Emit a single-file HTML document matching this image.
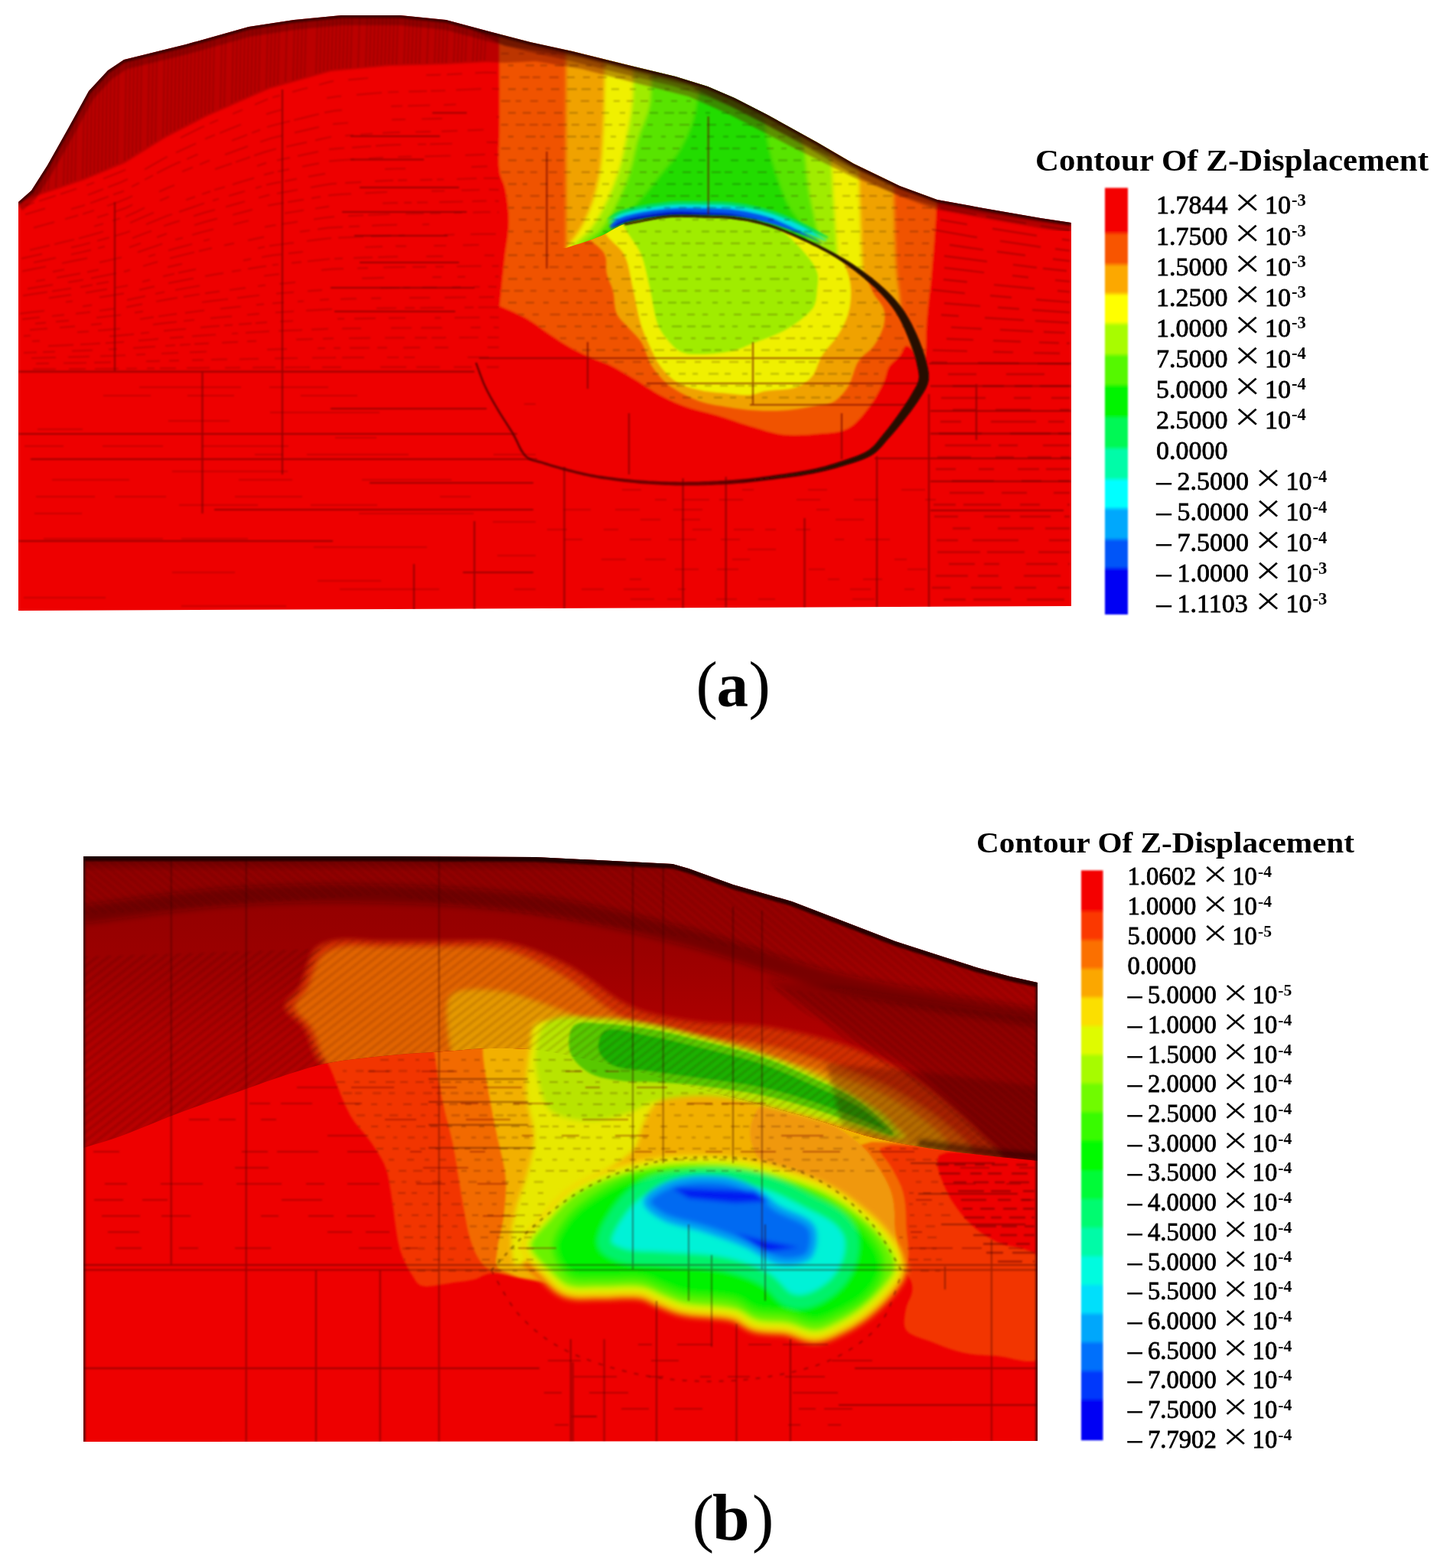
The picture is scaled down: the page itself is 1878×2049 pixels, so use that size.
<!DOCTYPE html>
<html lang="en"><head><meta charset="utf-8"><title>Contour Of Z-Displacement</title>
<style>
html,body{margin:0;padding:0;background:#fff;}
body{width:1878px;height:2049px;overflow:hidden;font-family:"Liberation Serif",serif;}
svg{display:block}
svg text{font-family:"Liberation Serif",serif;fill:#000}
</style></head><body>
<svg width="1878" height="2049" viewBox="0 0 1878 2049">
<defs>
<filter id="blA" x="-2%" y="-2%" width="104%" height="104%"><feGaussianBlur stdDeviation="1.7"/></filter>
<filter id="blB" x="-2%" y="-2%" width="104%" height="104%"><feGaussianBlur stdDeviation="2.6"/></filter>
<filter id="blL" x="-2%" y="-2%" width="104%" height="104%"><feGaussianBlur stdDeviation="1.0"/></filter>
<clipPath id="clipA"><polygon points="24.0,798.0 24.0,264.0 41.0,249.0 62.0,216.0 89.0,168.0 116.0,119.0 141.0,92.0 162.0,78.0 243.0,58.0 325.0,35.0 384.0,26.0 446.0,20.0 523.0,20.0 583.0,26.0 639.0,41.0 693.0,55.0 748.0,67.0 829.0,87.0 883.0,100.0 925.0,113.0 960.0,128.0 1003.0,150.0 1068.0,186.0 1116.0,214.0 1176.0,243.0 1225.0,261.0 1285.0,272.0 1360.0,285.0 1400.0,291.0 1400.0,792.0"/></clipPath>
<clipPath id="clipAbove"><polygon points="740.0,324.0 744.4,322.5 748.9,321.1 753.5,319.6 758.0,318.2 762.5,316.7 767.0,315.2 771.4,313.8 775.7,312.2 779.9,310.6 784.0,309.0 787.4,307.5 790.6,305.9 793.7,304.2 796.7,302.4 799.7,300.7 802.7,299.0 805.8,297.4 809.0,295.8 812.4,294.3 816.0,293.0 821.0,291.5 826.4,290.1 832.0,288.8 837.9,287.7 843.8,286.6 849.9,285.7 855.9,284.8 861.8,284.1 867.5,283.5 873.0,283.0 877.5,282.7 882.0,282.5 886.3,282.4 890.6,282.3 894.8,282.4 899.0,282.5 903.2,282.6 907.5,282.7 911.7,282.9 916.0,283.0 920.4,283.1 924.8,283.2 929.2,283.2 933.6,283.3 938.0,283.4 942.4,283.6 946.9,283.8 951.3,284.1 955.6,284.5 960.0,285.0 964.3,285.6 968.7,286.2 973.0,287.0 977.3,287.7 981.6,288.6 985.9,289.5 990.2,290.5 994.5,291.6 998.7,292.8 1003.0,294.0 1007.3,295.4 1011.7,296.8 1016.0,298.4 1020.3,300.0 1024.6,301.7 1028.9,303.5 1033.2,305.3 1037.4,307.2 1041.7,309.1 1046.0,311.0 1050.5,313.0 1055.0,315.1 1059.5,317.2 1064.0,319.4 1068.5,321.6 1073.0,323.8 1077.4,326.1 1081.7,328.4 1085.9,330.7 1090.0,333.0 1093.5,335.0 1096.8,337.0 1100.1,339.0 1103.3,341.0 1106.5,343.1 1109.6,345.2 1112.7,347.3 1115.8,349.4 1118.9,351.7 1122.0,354.0 1125.4,356.6 1128.8,359.2 1132.3,361.9 1135.7,364.7 1139.1,367.5 1142.5,370.4 1145.8,373.3 1149.0,376.2 1152.1,379.1 1155.0,382.0 1157.5,384.5 1159.8,387.0 1162.1,389.5 1164.4,392.0 1166.5,394.5 1168.6,397.1 1170.6,399.7 1172.6,402.4 1174.6,405.1 1176.5,408.0 1178.5,411.2 1180.5,414.5 1182.4,418.0 1184.2,421.5 1186.0,425.1 1187.7,428.7 1189.4,432.3 1191.0,435.9 1192.5,439.5 1194.0,443.0 1195.3,446.2 1196.6,449.5 1197.8,452.8 1199.0,456.1 1200.2,459.4 1201.2,462.6 1202.2,465.8 1203.1,469.0 1203.9,472.0 1204.6,475.0 1205.1,477.3 1205.4,479.6 1205.7,481.9 1206.0,484.1 1206.1,486.2 1206.3,488.4 1206.5,490.5 1206.6,492.7 1206.8,494.8 1207.0,497.0 1260.0,497.0 1260.0,0.0 600.0,0.0 600.0,324.0"/></clipPath>
<clipPath id="clipBelow"><polygon points="740.0,324.0 744.4,322.5 748.9,321.1 753.5,319.6 758.0,318.2 762.5,316.7 767.0,315.2 771.4,313.8 775.7,312.2 779.9,310.6 784.0,309.0 787.4,307.5 790.6,305.9 793.7,304.2 796.7,302.4 799.7,300.7 802.7,299.0 805.8,297.4 809.0,295.8 812.4,294.3 816.0,293.0 821.0,291.5 826.4,290.1 832.0,288.8 837.9,287.7 843.8,286.6 849.9,285.7 855.9,284.8 861.8,284.1 867.5,283.5 873.0,283.0 877.5,282.7 882.0,282.5 886.3,282.4 890.6,282.3 894.8,282.4 899.0,282.5 903.2,282.6 907.5,282.7 911.7,282.9 916.0,283.0 920.4,283.1 924.8,283.2 929.2,283.2 933.6,283.3 938.0,283.4 942.4,283.6 946.9,283.8 951.3,284.1 955.6,284.5 960.0,285.0 964.3,285.6 968.7,286.2 973.0,287.0 977.3,287.7 981.6,288.6 985.9,289.5 990.2,290.5 994.5,291.6 998.7,292.8 1003.0,294.0 1007.3,295.4 1011.7,296.8 1016.0,298.4 1020.3,300.0 1024.6,301.7 1028.9,303.5 1033.2,305.3 1037.4,307.2 1041.7,309.1 1046.0,311.0 1050.5,313.0 1055.0,315.1 1059.5,317.2 1064.0,319.4 1068.5,321.6 1073.0,323.8 1077.4,326.1 1081.7,328.4 1085.9,330.7 1090.0,333.0 1093.5,335.0 1096.8,337.0 1100.1,339.0 1103.3,341.0 1106.5,343.1 1109.6,345.2 1112.7,347.3 1115.8,349.4 1118.9,351.7 1122.0,354.0 1125.4,356.6 1128.8,359.2 1132.3,361.9 1135.7,364.7 1139.1,367.5 1142.5,370.4 1145.8,373.3 1149.0,376.2 1152.1,379.1 1155.0,382.0 1157.5,384.5 1159.8,387.0 1162.1,389.5 1164.4,392.0 1166.5,394.5 1168.6,397.1 1170.6,399.7 1172.6,402.4 1174.6,405.1 1176.5,408.0 1178.5,411.2 1180.5,414.5 1182.4,418.0 1184.2,421.5 1186.0,425.1 1187.7,428.7 1189.4,432.3 1191.0,435.9 1192.5,439.5 1194.0,443.0 1195.3,446.2 1196.6,449.5 1197.8,452.8 1199.0,456.1 1200.2,459.4 1201.2,462.6 1202.2,465.8 1203.1,469.0 1203.9,472.0 1204.6,475.0 1205.1,477.3 1205.4,479.6 1205.7,481.9 1206.0,484.1 1206.1,486.2 1206.3,488.4 1206.5,490.5 1206.6,492.7 1206.8,494.8 1207.0,497.0 1205.9,499.2 1204.9,501.4 1203.8,503.6 1202.8,505.8 1201.8,507.9 1200.7,510.1 1199.6,512.3 1198.5,514.5 1197.3,516.8 1196.0,519.0 1194.4,521.6 1192.8,524.1 1191.1,526.8 1189.3,529.4 1187.5,532.0 1185.6,534.6 1183.7,537.2 1181.8,539.9 1179.9,542.4 1178.0,545.0 1176.1,547.6 1174.1,550.1 1172.2,552.7 1170.2,555.2 1168.2,557.8 1166.2,560.3 1164.1,562.8 1162.1,565.2 1160.1,567.6 1158.0,570.0 1156.1,572.2 1154.2,574.5 1152.4,576.7 1150.6,579.0 1148.7,581.1 1146.8,583.3 1144.8,585.3 1142.7,587.3 1140.4,589.2 1138.0,591.0 1134.8,593.0 1131.4,594.8 1127.8,596.4 1124.0,598.0 1120.0,599.5 1116.0,600.9 1111.9,602.2 1107.9,603.5 1103.9,604.7 1100.0,606.0 1096.3,607.2 1092.5,608.3 1088.9,609.4 1085.2,610.5 1081.4,611.5 1077.7,612.4 1073.9,613.4 1070.0,614.3 1066.1,615.1 1062.0,616.0 1057.1,617.0 1052.1,617.9 1046.9,618.8 1041.6,619.6 1036.2,620.4 1030.9,621.2 1025.5,621.9 1020.2,622.6 1015.0,623.3 1010.0,624.0 1005.5,624.6 1001.1,625.2 996.8,625.7 992.5,626.3 988.2,626.8 984.0,627.3 979.7,627.8 975.5,628.2 971.3,628.6 967.0,629.0 962.8,629.4 958.6,629.7 954.4,630.0 950.2,630.3 946.0,630.5 941.8,630.8 937.6,631.0 933.4,631.2 929.2,631.3 925.0,631.5 920.8,631.6 916.6,631.8 912.4,631.9 908.2,632.0 904.0,632.0 899.8,632.1 895.6,632.1 891.4,632.1 887.2,632.1 883.0,632.0 878.7,631.9 874.4,631.8 870.0,631.7 865.7,631.5 861.4,631.3 857.0,631.1 852.7,630.8 848.4,630.6 844.2,630.3 840.0,630.0 836.1,629.7 832.2,629.4 828.3,629.0 824.5,628.6 820.6,628.2 816.8,627.8 813.1,627.4 809.3,626.9 805.7,626.5 802.0,626.0 798.7,625.6 795.4,625.1 792.2,624.7 789.0,624.2 785.8,623.8 782.7,623.3 779.5,622.7 776.4,622.2 773.2,621.6 770.0,621.0 766.7,620.3 763.4,619.6 760.0,618.8 756.6,618.0 753.3,617.2 750.0,616.4 746.6,615.6 743.4,614.7 740.2,613.8 737.0,613.0 734.2,612.2 731.4,611.5 728.6,610.7 725.8,609.9 723.1,609.1 720.4,608.3 717.8,607.5 715.2,606.7 712.6,605.8 710.0,605.0 707.7,604.3 705.3,603.7 703.0,603.1 700.7,602.6 698.4,602.0 696.2,601.3 694.0,600.5 691.9,599.6 689.9,598.4 688.0,597.0 685.8,594.8 683.8,592.3 681.9,589.4 680.1,586.2 678.4,582.9 676.8,579.5 675.2,576.0 673.5,572.5 671.8,569.2 670.0,566.0 668.1,563.0 666.2,560.0 664.3,557.0 662.4,554.0 660.4,551.0 658.5,548.0 656.6,545.1 654.7,542.1 652.8,539.0 651.0,536.0 649.2,532.9 647.4,529.9 645.6,526.8 643.8,523.7 642.1,520.6 640.4,517.5 638.7,514.4 637.1,511.3 635.5,508.1 634.0,505.0 632.6,501.9 631.3,498.9 630.1,495.8 628.9,492.7 627.7,489.6 626.6,486.4 625.5,483.3 624.3,480.2 623.2,477.1 622.0,474.0 623.0,420.0"/></clipPath>
<clipPath id="clipCol"><polygon points="653.0,36.6 693.0,47.0 748.0,59.0 829.0,79.0 883.0,92.0 925.0,105.0 960.0,120.0 1003.0,142.0 1068.0,178.0 1116.0,206.0 1176.0,235.0 1225.0,253.0 1225.0,250.0 1224.5,258.3 1224.0,266.6 1223.6,274.8 1223.1,283.1 1222.6,291.5 1222.0,300.0 1221.4,309.1 1220.7,318.3 1220.0,327.5 1219.2,336.9 1218.4,346.4 1217.6,356.0 1216.6,366.7 1215.4,377.8 1214.1,389.0 1212.9,400.1 1211.9,410.8 1211.0,421.0 1210.6,429.1 1210.3,437.2 1210.2,445.0 1210.0,452.4 1209.6,459.1 1209.0,465.0 1208.5,468.0 1207.8,470.6 1207.1,473.0 1206.4,475.3 1205.7,477.6 1205.0,480.0 1200.0,470.0 1198.7,467.6 1197.4,465.0 1196.2,462.4 1194.9,459.9 1193.5,457.8 1192.0,456.0 1190.7,454.9 1189.4,453.8 1188.0,452.9 1186.6,452.2 1185.3,451.9 1184.0,452.0 1182.6,453.0 1181.3,454.8 1180.1,457.3 1178.9,460.0 1177.5,462.6 1176.0,465.0 1173.9,467.3 1171.5,469.5 1168.9,471.7 1166.3,474.0 1164.0,476.4 1162.0,479.0 1160.5,482.0 1159.3,485.1 1158.4,488.4 1157.5,491.8 1156.5,495.4 1155.0,499.0 1152.5,504.3 1149.5,510.0 1146.2,515.9 1142.7,521.9 1138.9,527.6 1135.0,533.0 1131.1,538.1 1127.0,543.2 1122.7,548.1 1118.2,552.7 1113.3,556.7 1108.0,560.0 1101.9,562.5 1095.4,564.2 1088.4,565.2 1081.2,565.9 1074.1,566.4 1067.0,567.0 1059.9,567.7 1052.7,568.2 1045.5,568.6 1038.3,568.8 1031.1,568.6 1024.0,568.0 1016.8,566.9 1009.6,565.3 1002.4,563.4 995.3,561.3 988.1,559.1 981.0,557.0 973.8,554.8 966.6,552.5 959.5,550.1 952.3,547.6 945.2,545.3 938.0,543.0 930.8,540.9 923.4,539.0 916.1,537.2 908.8,535.3 901.8,533.3 895.0,531.0 889.2,528.8 883.5,526.5 878.1,524.0 872.7,521.5 867.3,518.8 862.0,516.0 856.6,512.9 851.2,509.6 845.9,506.2 840.7,502.8 835.4,499.3 830.0,496.0 824.5,492.7 818.9,489.3 813.2,485.9 807.7,482.7 802.2,479.7 797.0,477.0 793.0,475.2 789.2,473.7 785.4,472.3 781.7,471.0 777.9,469.6 774.0,468.0 769.6,466.1 765.1,464.0 760.6,461.9 756.0,459.7 751.5,457.4 747.0,455.0 742.5,452.4 738.0,449.7 733.6,446.9 729.1,444.0 724.6,441.0 720.0,438.0 714.8,434.5 709.6,430.7 704.3,426.8 699.0,423.0 693.5,419.4 688.0,416.0 682.3,413.0 676.6,410.2 670.7,407.6 664.8,405.1 658.9,402.6 653.0,400.0 653.5,395.0 654.0,390.1 654.5,385.2 655.0,380.2 655.5,375.2 656.0,370.0 656.6,364.1 657.3,358.1 657.9,351.9 658.6,345.7 659.3,339.4 660.0,333.0 660.9,326.0 662.0,318.9 663.1,311.7 664.0,304.5 664.7,297.2 665.0,290.0 664.8,282.5 664.3,274.8 663.5,267.0 662.5,259.4 661.3,252.4 660.0,246.0 658.9,242.2 657.7,238.8 656.4,235.8 655.1,232.6 653.9,229.1 653.0,225.0 652.1,216.4 651.9,206.4 652.1,195.4 652.4,183.8 652.8,171.9 653.0,160.0 653.0,145.8 653.0,131.1 653.0,115.9 653.0,100.5 653.0,85.2 653.0,70.0"/></clipPath>
<clipPath id="clipB"><polygon points="109.0,1884.0 109.0,1119.0 500.0,1119.0 700.0,1120.0 879.0,1129.0 900.0,1135.0 958.0,1156.0 1035.0,1178.0 1100.0,1203.0 1170.0,1230.0 1235.0,1251.0 1279.0,1265.0 1320.0,1276.0 1356.0,1284.0 1356.0,1883.0"/></clipPath>
<clipPath id="clipBtop"><polygon points="100.0,1100.0 1360.0,1100.0 1356.0,1517.0 1345.0,1515.8 1334.0,1514.7 1323.0,1513.6 1312.0,1512.4 1301.0,1511.2 1290.0,1510.0 1279.2,1508.8 1268.6,1507.6 1257.9,1506.4 1247.2,1505.1 1236.2,1503.6 1225.0,1502.0 1211.8,1500.0 1198.3,1497.8 1184.5,1495.5 1170.5,1493.0 1156.7,1490.1 1143.0,1487.0 1129.4,1483.4 1115.9,1479.3 1102.4,1474.9 1089.0,1470.5 1075.5,1466.1 1062.0,1462.0 1048.5,1458.1 1035.0,1454.4 1021.5,1450.7 1008.0,1447.1 994.5,1443.5 981.0,1440.0 967.3,1436.5 953.3,1433.1 939.3,1429.8 925.5,1426.5 912.4,1423.2 900.0,1420.0 891.1,1417.5 882.9,1415.0 875.0,1412.5 867.1,1410.0 858.9,1407.5 850.0,1405.0 837.7,1401.7 824.6,1398.2 810.9,1394.7 797.0,1391.3 783.3,1388.0 770.0,1385.0 758.0,1382.4 746.2,1379.9 734.4,1377.5 722.8,1375.3 711.3,1373.5 700.0,1372.0 689.8,1371.0 679.7,1370.4 669.7,1370.0 659.8,1369.9 649.9,1369.9 640.0,1370.0 630.1,1370.3 620.3,1370.8 610.5,1371.6 600.6,1372.4 590.5,1373.2 580.0,1374.0 567.3,1374.9 554.1,1375.7 540.5,1376.6 526.9,1377.6 513.3,1378.7 500.0,1380.0 487.2,1381.3 474.3,1382.7 461.5,1384.2 449.0,1385.8 436.7,1387.8 425.0,1390.0 415.3,1392.2 405.9,1394.7 396.8,1397.4 387.9,1400.2 379.0,1403.1 370.0,1406.0 361.1,1408.9 352.3,1412.0 343.6,1415.1 334.8,1418.2 325.6,1421.6 316.0,1425.0 303.4,1429.4 290.2,1434.1 276.5,1438.9 262.6,1443.9 248.7,1448.9 235.0,1454.0 221.2,1459.3 207.1,1465.0 193.0,1470.8 179.3,1476.3 166.2,1481.5 154.0,1486.0 145.8,1488.8 138.1,1491.3 130.7,1493.5 123.5,1495.6 116.4,1497.8 109.0,1500.0"/></clipPath>
<filter id="blC" x="-20%" y="-20%" width="140%" height="140%"><feGaussianBlur stdDeviation="3.2"/></filter>
<filter id="blD" x="-20%" y="-20%" width="140%" height="140%"><feGaussianBlur stdDeviation="4.5"/></filter>
<clipPath id="clipBfront"><polygon points="109.0,1500.0 116.4,1497.8 123.5,1495.6 130.7,1493.5 138.1,1491.3 145.8,1488.8 154.0,1486.0 166.2,1481.5 179.3,1476.3 193.0,1470.8 207.1,1465.0 221.2,1459.3 235.0,1454.0 248.7,1448.9 262.6,1443.9 276.5,1438.9 290.2,1434.1 303.4,1429.4 316.0,1425.0 325.6,1421.6 334.8,1418.2 343.6,1415.1 352.3,1412.0 361.1,1408.9 370.0,1406.0 379.0,1403.1 387.9,1400.2 396.8,1397.4 405.9,1394.7 415.3,1392.2 425.0,1390.0 436.7,1387.8 449.0,1385.8 461.5,1384.2 474.3,1382.7 487.2,1381.3 500.0,1380.0 513.3,1378.7 526.9,1377.6 540.5,1376.6 554.1,1375.7 567.3,1374.9 580.0,1374.0 590.5,1373.2 600.6,1372.4 610.5,1371.6 620.3,1370.8 630.1,1370.3 640.0,1370.0 649.9,1369.9 659.8,1369.9 669.7,1370.0 679.7,1370.4 689.8,1371.0 700.0,1372.0 711.3,1373.5 722.8,1375.3 734.4,1377.5 746.2,1379.9 758.0,1382.4 770.0,1385.0 783.3,1388.0 797.0,1391.3 810.9,1394.7 824.6,1398.2 837.7,1401.7 850.0,1405.0 858.9,1407.5 867.1,1410.0 875.0,1412.5 882.9,1415.0 891.1,1417.5 900.0,1420.0 912.4,1423.2 925.5,1426.5 939.3,1429.8 953.3,1433.1 967.3,1436.5 981.0,1440.0 994.5,1443.5 1008.0,1447.1 1021.5,1450.7 1035.0,1454.4 1048.5,1458.1 1062.0,1462.0 1075.5,1466.1 1089.0,1470.5 1102.4,1474.9 1115.9,1479.3 1129.4,1483.4 1143.0,1487.0 1156.7,1490.1 1170.5,1493.0 1184.5,1495.5 1198.3,1497.8 1211.8,1500.0 1225.0,1502.0 1236.2,1503.6 1247.2,1505.1 1257.9,1506.4 1268.6,1507.6 1279.2,1508.8 1290.0,1510.0 1301.0,1511.2 1312.0,1512.4 1323.0,1513.6 1334.0,1514.7 1345.0,1515.8 1356.0,1517.0 1360.0,1890.0 100.0,1890.0"/></clipPath>
<clipPath id="clipS1"><polygon points="437.0,1229.0 430.8,1230.4 425.2,1232.1 420.0,1234.3 415.3,1237.1 411.0,1241.0 406.1,1248.5 402.4,1258.3 399.2,1269.2 395.9,1279.8 392.0,1289.0 387.6,1295.1 382.2,1300.6 377.1,1305.8 373.3,1310.8 372.0,1316.0 374.0,1321.4 378.7,1326.5 384.8,1331.7 391.3,1337.1 397.0,1343.0 403.0,1351.1 409.3,1360.4 415.4,1369.7 420.8,1378.3 425.0,1385.0 426.5,1387.3 427.6,1389.0 428.6,1390.6 429.7,1392.5 431.0,1395.0 435.2,1404.4 440.2,1417.3 445.8,1431.7 451.8,1445.9 458.0,1458.0 463.2,1465.9 468.8,1473.0 474.5,1479.6 480.0,1486.2 485.0,1493.0 489.4,1499.5 493.6,1505.9 497.5,1512.4 501.0,1519.0 504.0,1526.0 506.4,1533.4 508.0,1541.1 509.3,1548.9 510.6,1557.2 512.0,1566.0 514.0,1578.9 515.7,1593.2 517.7,1607.8 520.0,1621.8 523.0,1634.0 525.8,1641.8 528.9,1649.0 532.3,1655.7 535.7,1661.7 539.0,1667.0 541.0,1670.3 542.8,1673.3 544.7,1676.0 547.0,1678.3 550.0,1680.0 556.8,1681.2 565.4,1680.6 575.0,1679.1 584.5,1677.4 593.0,1676.0 598.9,1675.3 604.4,1674.7 609.7,1674.0 614.9,1673.1 620.0,1672.0 624.4,1670.5 628.5,1668.5 632.5,1666.6 636.9,1664.9 642.0,1664.0 651.2,1664.3 661.5,1666.2 672.9,1669.1 685.7,1672.2 700.0,1675.0 732.3,1680.0 771.3,1685.8 814.2,1691.5 858.0,1696.5 900.0,1700.0 941.5,1702.7 984.6,1705.1 1027.0,1706.2 1066.2,1704.8 1100.0,1700.0 1119.7,1692.9 1138.2,1682.6 1154.8,1672.2 1168.6,1664.3 1179.0,1662.0 1182.2,1663.1 1184.8,1665.0 1186.9,1667.5 1188.6,1670.3 1190.0,1673.0 1191.1,1675.7 1191.8,1678.6 1192.2,1681.6 1192.2,1684.8 1192.0,1688.0 1191.0,1692.1 1189.3,1696.4 1187.2,1700.8 1185.3,1705.3 1184.0,1710.0 1183.0,1715.6 1182.1,1721.6 1181.6,1727.6 1182.1,1733.2 1184.0,1738.0 1188.1,1742.1 1194.1,1745.3 1201.1,1748.0 1208.7,1750.4 1216.0,1753.0 1224.3,1756.3 1233.0,1759.7 1242.0,1762.9 1251.0,1765.7 1260.0,1768.0 1268.5,1769.5 1276.9,1770.4 1285.3,1771.0 1294.0,1771.4 1303.0,1772.0 1314.6,1773.8 1327.4,1776.7 1340.1,1779.0 1351.4,1779.0 1360.0,1775.0 1368.2,1757.5 1372.2,1729.1 1372.1,1696.4 1368.0,1666.2 1360.0,1645.0 1351.3,1637.2 1339.7,1632.6 1326.7,1629.6 1314.0,1626.9 1303.0,1623.0 1295.6,1619.1 1288.7,1615.1 1282.3,1611.0 1276.1,1606.3 1270.0,1601.0 1262.8,1593.7 1255.7,1585.5 1249.0,1576.6 1242.9,1567.4 1238.0,1558.0 1233.5,1548.2 1229.1,1537.4 1225.9,1526.7 1224.8,1517.2 1227.0,1510.0 1237.5,1505.9 1255.3,1505.7 1275.2,1507.1 1291.8,1507.6 1300.0,1505.0 1299.7,1501.1 1296.5,1496.3 1291.4,1490.9 1285.2,1485.1 1279.0,1479.0 1266.5,1466.8 1251.0,1452.6 1233.6,1437.7 1215.6,1423.5 1198.0,1411.0 1182.3,1401.2 1166.4,1392.3 1150.2,1384.2 1133.5,1376.9 1116.0,1370.0 1095.6,1363.1 1074.1,1356.9 1052.0,1351.5 1029.8,1346.9 1008.0,1343.0 987.3,1340.5 966.5,1339.2 945.8,1338.3 925.6,1337.2 906.0,1335.0 889.0,1332.4 872.6,1329.6 856.5,1326.3 840.7,1321.9 825.0,1316.0 808.3,1307.1 792.0,1295.8 775.8,1283.6 759.6,1271.9 743.0,1262.0 727.1,1254.3 711.0,1247.2 694.8,1241.0 678.5,1235.9 662.0,1232.0 645.8,1229.8 629.4,1229.2 612.9,1229.4 596.4,1229.8 580.0,1230.0 563.8,1229.9 547.5,1229.9 531.3,1230.0 515.4,1230.0 500.0,1230.0 486.5,1229.5 472.9,1228.6 459.7,1227.8 447.6,1227.8"/></clipPath>
<linearGradient id="dkB" gradientUnits="userSpaceOnUse" x1="0" y1="1119" x2="0" y2="1519"><stop offset="0" stop-color="#000" stop-opacity="0.6"/><stop offset="0.05" stop-color="#100000" stop-opacity="0.42"/><stop offset="0.3" stop-color="#100000" stop-opacity="0.38"/><stop offset="0.6" stop-color="#100000" stop-opacity="0.28"/><stop offset="1" stop-color="#100000" stop-opacity="0.22"/></linearGradient>
<clipPath id="clipBlow"><rect x="100" y="1650" width="1260" height="240"/></clipPath>
<pattern id="hatB" width="9" height="9" patternUnits="userSpaceOnUse" patternTransform="rotate(-38)"><rect width="9" height="3.2" fill="#300000"/></pattern>
<pattern id="hatB2" width="8" height="8" patternUnits="userSpaceOnUse" patternTransform="rotate(40)"><rect width="8" height="3" fill="#300000"/></pattern>
<filter id="soft1" x="-5%" y="-5%" width="110%" height="110%"><feGaussianBlur stdDeviation="0.8"/></filter>
<linearGradient id="lg1444245" x1="0" y1="0" x2="0" y2="1"><stop offset="0.0000" stop-color="#f40000"/><stop offset="0.1004" stop-color="#f40000"/><stop offset="0.1112" stop-color="#f85400"/><stop offset="0.1740" stop-color="#f85400"/><stop offset="0.1848" stop-color="#fca800"/><stop offset="0.2430" stop-color="#fca800"/><stop offset="0.2538" stop-color="#ffff00"/><stop offset="0.3130" stop-color="#ffff00"/><stop offset="0.3238" stop-color="#a8fc00"/><stop offset="0.3865" stop-color="#a8fc00"/><stop offset="0.3973" stop-color="#54f800"/><stop offset="0.4583" stop-color="#54f800"/><stop offset="0.4691" stop-color="#00f400"/><stop offset="0.5309" stop-color="#00f400"/><stop offset="0.5417" stop-color="#00f854"/><stop offset="0.6045" stop-color="#00f854"/><stop offset="0.6152" stop-color="#00fca8"/><stop offset="0.6771" stop-color="#00fca8"/><stop offset="0.6879" stop-color="#00ffff"/><stop offset="0.7462" stop-color="#00ffff"/><stop offset="0.7570" stop-color="#00a8fc"/><stop offset="0.8188" stop-color="#00a8fc"/><stop offset="0.8296" stop-color="#0054f8"/><stop offset="0.8870" stop-color="#0054f8"/><stop offset="0.8978" stop-color="#0000f4"/><stop offset="1.0000" stop-color="#0000f4"/></linearGradient>
<linearGradient id="lg14131137" x1="0" y1="0" x2="0" y2="1"><stop offset="0.0000" stop-color="#f40000"/><stop offset="0.0671" stop-color="#f40000"/><stop offset="0.0752" stop-color="#fb3700"/><stop offset="0.1176" stop-color="#fb3700"/><stop offset="0.1257" stop-color="#fb6f00"/><stop offset="0.1681" stop-color="#fb6f00"/><stop offset="0.1762" stop-color="#fba700"/><stop offset="0.2186" stop-color="#fba700"/><stop offset="0.2266" stop-color="#fbdf00"/><stop offset="0.2691" stop-color="#fbdf00"/><stop offset="0.2771" stop-color="#dffb00"/><stop offset="0.3195" stop-color="#dffb00"/><stop offset="0.3276" stop-color="#a7fb00"/><stop offset="0.3700" stop-color="#a7fb00"/><stop offset="0.3781" stop-color="#6ffb00"/><stop offset="0.4205" stop-color="#6ffb00"/><stop offset="0.4286" stop-color="#37fb00"/><stop offset="0.4710" stop-color="#37fb00"/><stop offset="0.4791" stop-color="#00fb00"/><stop offset="0.5215" stop-color="#00fb00"/><stop offset="0.5295" stop-color="#00fb37"/><stop offset="0.5720" stop-color="#00fb37"/><stop offset="0.5800" stop-color="#00fb6f"/><stop offset="0.6224" stop-color="#00fb6f"/><stop offset="0.6305" stop-color="#00fba7"/><stop offset="0.6729" stop-color="#00fba7"/><stop offset="0.6810" stop-color="#00fbdf"/><stop offset="0.7234" stop-color="#00fbdf"/><stop offset="0.7315" stop-color="#00dffb"/><stop offset="0.7739" stop-color="#00dffb"/><stop offset="0.7820" stop-color="#00a7fb"/><stop offset="0.8244" stop-color="#00a7fb"/><stop offset="0.8324" stop-color="#006ffb"/><stop offset="0.8749" stop-color="#006ffb"/><stop offset="0.8829" stop-color="#0037fb"/><stop offset="0.9253" stop-color="#0037fb"/><stop offset="0.9334" stop-color="#0000f4"/><stop offset="1.0000" stop-color="#0000f4"/></linearGradient>
</defs>
<rect width="1878" height="2049" fill="#fff"/>
<g clip-path="url(#clipA)">
<g filter="url(#blA)">
<polygon points="0.0,0.0 1420.0,0.0 1420.0,820.0 0.0,820.0" fill="#ee0000" />
<polygon points="653.0,36.6 693.0,47.0 748.0,59.0 829.0,79.0 883.0,92.0 925.0,105.0 960.0,120.0 1003.0,142.0 1068.0,178.0 1116.0,206.0 1176.0,235.0 1225.0,253.0 1225.0,250.0 1224.5,258.3 1224.0,266.6 1223.6,274.8 1223.1,283.1 1222.6,291.5 1222.0,300.0 1221.4,309.1 1220.7,318.3 1220.0,327.5 1219.2,336.9 1218.4,346.4 1217.6,356.0 1216.6,366.7 1215.4,377.8 1214.1,389.0 1212.9,400.1 1211.9,410.8 1211.0,421.0 1210.6,429.1 1210.3,437.2 1210.2,445.0 1210.0,452.4 1209.6,459.1 1209.0,465.0 1208.5,468.0 1207.8,470.6 1207.1,473.0 1206.4,475.3 1205.7,477.6 1205.0,480.0 1200.0,470.0 1198.7,467.6 1197.4,465.0 1196.2,462.4 1194.9,459.9 1193.5,457.8 1192.0,456.0 1190.7,454.9 1189.4,453.8 1188.0,452.9 1186.6,452.2 1185.3,451.9 1184.0,452.0 1182.6,453.0 1181.3,454.8 1180.1,457.3 1178.9,460.0 1177.5,462.6 1176.0,465.0 1173.9,467.3 1171.5,469.5 1168.9,471.7 1166.3,474.0 1164.0,476.4 1162.0,479.0 1160.5,482.0 1159.3,485.1 1158.4,488.4 1157.5,491.8 1156.5,495.4 1155.0,499.0 1152.5,504.3 1149.5,510.0 1146.2,515.9 1142.7,521.9 1138.9,527.6 1135.0,533.0 1131.1,538.1 1127.0,543.2 1122.7,548.1 1118.2,552.7 1113.3,556.7 1108.0,560.0 1101.9,562.5 1095.4,564.2 1088.4,565.2 1081.2,565.9 1074.1,566.4 1067.0,567.0 1059.9,567.7 1052.7,568.2 1045.5,568.6 1038.3,568.8 1031.1,568.6 1024.0,568.0 1016.8,566.9 1009.6,565.3 1002.4,563.4 995.3,561.3 988.1,559.1 981.0,557.0 973.8,554.8 966.6,552.5 959.5,550.1 952.3,547.6 945.2,545.3 938.0,543.0 930.8,540.9 923.4,539.0 916.1,537.2 908.8,535.3 901.8,533.3 895.0,531.0 889.2,528.8 883.5,526.5 878.1,524.0 872.7,521.5 867.3,518.8 862.0,516.0 856.6,512.9 851.2,509.6 845.9,506.2 840.7,502.8 835.4,499.3 830.0,496.0 824.5,492.7 818.9,489.3 813.2,485.9 807.7,482.7 802.2,479.7 797.0,477.0 793.0,475.2 789.2,473.7 785.4,472.3 781.7,471.0 777.9,469.6 774.0,468.0 769.6,466.1 765.1,464.0 760.6,461.9 756.0,459.7 751.5,457.4 747.0,455.0 742.5,452.4 738.0,449.7 733.6,446.9 729.1,444.0 724.6,441.0 720.0,438.0 714.8,434.5 709.6,430.7 704.3,426.8 699.0,423.0 693.5,419.4 688.0,416.0 682.3,413.0 676.6,410.2 670.7,407.6 664.8,405.1 658.9,402.6 653.0,400.0 653.5,395.0 654.0,390.1 654.5,385.2 655.0,380.2 655.5,375.2 656.0,370.0 656.6,364.1 657.3,358.1 657.9,351.9 658.6,345.7 659.3,339.4 660.0,333.0 660.9,326.0 662.0,318.9 663.1,311.7 664.0,304.5 664.7,297.2 665.0,290.0 664.8,282.5 664.3,274.8 663.5,267.0 662.5,259.4 661.3,252.4 660.0,246.0 658.9,242.2 657.7,238.8 656.4,235.8 655.1,232.6 653.9,229.1 653.0,225.0 652.1,216.4 651.9,206.4 652.1,195.4 652.4,183.8 652.8,171.9 653.0,160.0 653.0,145.8 653.0,131.1 653.0,115.9 653.0,100.5 653.0,85.2 653.0,70.0" fill="#f05200" />
</g>
<g clip-path="url(#clipAbove)"><g filter="url(#blB)">
<polygon points="739.6,55.2 748.0,57.0 829.0,77.0 883.0,90.0 925.0,103.0 960.0,118.0 1003.0,140.0 1068.0,176.0 1116.0,204.0 1168.0,229.1 1168.0,230.0 1168.3,244.1 1168.6,258.7 1168.9,273.2 1169.3,287.3 1169.6,300.7 1170.0,313.0 1170.3,321.0 1170.5,328.6 1170.8,335.7 1171.1,342.6 1171.5,349.3 1172.0,356.0 1172.6,361.8 1173.3,367.4 1174.0,372.8 1174.7,378.2 1175.4,383.6 1176.0,389.0 1176.4,394.2 1176.8,399.4 1177.1,404.6 1177.4,409.7 1177.7,414.8 1178.0,420.0 1168.0,460.0 760.0,360.0 739.0,345.0 739.1,341.4 739.2,338.0 739.3,334.6 739.4,331.0 739.5,326.9 739.6,322.0 739.7,307.3 739.7,288.8 739.7,267.5 739.7,244.9 739.6,221.9 739.6,200.0 739.6,177.2 739.6,154.0 739.6,130.6 739.6,107.0 739.6,83.4 739.6,60.0" fill="#f0a200" />
<polygon points="790.5,67.5 829.0,77.0 883.0,90.0 925.0,103.0 960.0,118.0 1003.0,140.0 1068.0,176.0 1116.0,204.0 1122.0,206.9 1122.0,215.0 1122.4,227.8 1122.8,240.8 1123.2,253.8 1123.7,266.6 1124.1,279.1 1124.5,291.0 1124.9,300.8 1125.2,310.4 1125.6,319.9 1126.0,328.9 1126.4,337.3 1126.7,345.0 1126.9,349.7 1127.1,354.0 1127.4,358.1 1127.6,362.0 1127.8,365.9 1128.0,370.0 1118.0,410.0 760.0,360.0 735.0,340.0 735.9,337.4 736.8,334.7 737.6,332.1 738.6,329.5 739.7,326.8 741.0,324.0 743.3,320.3 746.0,316.4 749.1,312.5 752.2,308.5 755.2,304.3 758.0,300.0 760.8,295.1 763.5,290.0 766.0,284.7 768.5,279.3 770.8,273.7 773.0,268.0 775.3,261.3 777.4,254.3 779.3,247.0 781.1,239.7 782.6,232.3 784.0,225.0 785.1,217.8 785.9,210.7 786.6,203.5 787.1,196.2 787.5,188.7 788.0,181.0 788.5,171.6 788.9,161.8 789.3,151.8 789.5,141.7 789.8,131.7 790.0,122.0 790.2,113.1 790.3,104.4 790.3,95.8 790.4,87.2 790.4,78.6 790.5,70.0" fill="#f0f000" />
<polygon points="827.0,76.5 829.0,77.0 883.0,90.0 925.0,103.0 960.0,118.0 1003.0,140.0 1068.0,176.0 1084.0,185.3 1084.0,190.0 1084.3,192.4 1084.7,194.6 1085.0,196.8 1085.3,199.2 1085.7,201.9 1086.0,205.0 1086.7,213.3 1087.3,223.5 1088.0,235.0 1088.6,247.1 1089.3,259.0 1090.0,270.0 1090.7,279.5 1091.4,289.1 1092.1,298.5 1092.8,307.6 1093.4,316.2 1094.0,324.0 1094.4,328.9 1094.7,333.4 1095.0,337.6 1095.4,341.7 1095.7,345.8 1096.0,350.0 1086.0,390.0 760.0,360.0 740.0,340.0 741.2,337.0 742.3,334.0 743.4,331.0 744.7,328.0 746.2,325.0 748.0,322.0 751.1,318.4 754.8,314.9 758.9,311.4 763.2,307.8 767.3,304.1 771.0,300.0 774.6,295.2 778.1,290.2 781.3,284.9 784.5,279.4 787.5,273.8 790.5,268.0 793.8,261.3 796.9,254.3 800.0,247.1 802.8,239.7 805.5,232.3 808.0,225.0 810.2,217.8 812.1,210.6 813.9,203.4 815.5,196.1 817.1,188.6 818.6,181.0 820.3,172.3 822.0,163.3 823.6,154.2 825.0,145.0 826.1,135.9 827.0,127.0 827.4,119.0 827.6,111.1 827.5,103.3 827.3,95.6 827.1,87.8 827.0,80.0" fill="#a0ec00" />
<polygon points="851.0,82.3 883.0,90.0 925.0,103.0 960.0,118.0 1003.0,140.0 1048.0,164.9 1048.0,180.0 1048.5,182.2 1049.0,184.3 1049.5,186.4 1050.0,188.6 1050.5,191.1 1051.0,194.0 1051.9,201.0 1052.8,209.4 1053.7,218.8 1054.6,228.7 1055.7,238.6 1057.0,248.0 1058.6,257.2 1060.5,266.7 1062.6,276.1 1064.6,285.3 1066.5,294.0 1068.0,302.0 1068.9,307.2 1069.6,312.0 1070.2,316.6 1070.8,321.0 1071.4,325.4 1072.0,330.0 1062.0,370.0 760.0,360.0 750.0,340.0 751.6,336.6 753.0,333.2 754.4,329.8 755.9,326.4 757.8,323.2 760.0,320.0 763.4,316.5 767.5,313.4 772.0,310.3 776.6,307.2 781.0,303.8 785.0,300.0 788.8,295.4 792.4,290.4 795.7,285.1 798.9,279.5 802.0,273.8 805.0,268.0 808.3,261.3 811.6,254.3 814.7,247.1 817.7,239.7 820.5,232.4 823.0,225.0 825.2,217.7 827.0,210.4 828.7,203.0 830.3,195.6 832.0,188.3 834.0,181.0 836.4,173.8 839.2,166.8 842.1,159.7 844.8,152.6 847.2,145.4 849.0,138.0 850.1,130.0 850.7,121.7 850.9,113.3 850.9,104.9 850.8,96.4 851.0,88.0" fill="#58e400" />
<polygon points="915.0,99.9 925.0,103.0 960.0,118.0 1000.0,138.5 1000.0,150.0 1000.4,155.5 1000.8,160.9 1001.1,166.3 1001.6,171.7 1002.2,177.3 1003.0,183.0 1004.3,189.9 1005.9,197.0 1007.7,204.2 1009.6,211.5 1011.8,218.8 1014.0,226.0 1016.5,233.6 1019.1,241.4 1021.9,249.1 1024.8,256.7 1027.9,263.7 1031.0,270.0 1033.4,274.0 1036.0,277.5 1038.6,280.7 1041.1,283.9 1043.6,287.2 1046.0,291.0 1048.6,296.1 1051.0,301.6 1053.3,307.4 1055.5,313.3 1057.7,319.2 1060.0,325.0 1050.0,365.0 760.0,360.0 768.0,335.0 769.9,331.1 771.6,327.2 773.3,323.3 775.2,319.4 777.4,315.6 780.0,312.0 783.8,308.1 788.2,304.5 793.1,301.1 798.1,297.6 803.2,294.0 808.0,290.0 813.4,285.0 818.8,279.7 824.3,274.1 829.7,268.4 834.9,262.6 840.0,257.0 844.6,251.7 849.1,246.2 853.5,240.8 857.7,235.4 861.9,230.1 866.0,225.0 869.5,220.8 873.0,216.8 876.4,212.8 879.7,208.8 882.9,204.6 886.0,200.0 889.6,194.1 893.0,187.8 896.4,181.2 899.5,174.3 902.4,167.2 905.0,160.0 907.3,151.8 909.2,143.3 910.7,134.5 912.1,125.7 913.5,116.8 915.0,108.0" fill="#24dc00" />
</g>
<g filter="url(#blA)">
<polygon points="791.9,288.2 793.3,287.6 794.6,287.1 796.0,286.5 797.6,285.7 799.3,284.9 801.3,283.9 803.5,282.9 806.0,281.9 808.6,281.0 811.6,280.1 816.5,278.7 822.0,277.3 827.9,276.1 834.1,274.9 840.5,273.9 847.1,273.0 853.6,272.1 860.0,271.4 866.1,270.8 871.9,270.3 876.8,270.0 881.5,269.9 886.1,269.9 890.6,269.9 895.0,270.1 899.4,270.2 903.6,270.5 907.9,270.7 912.1,270.9 916.3,271.1 920.6,271.3 925.0,271.4 929.4,271.6 933.9,271.7 938.4,271.9 942.9,272.1 947.5,272.2 952.2,272.5 956.8,272.9 961.4,273.4 966.0,273.9 970.5,274.5 975.0,275.2 979.6,276.0 984.1,276.9 988.6,277.8 993.1,278.8 997.6,279.9 1002.0,281.1 1006.5,282.3 1011.2,283.7 1015.9,285.3 1020.6,287.0 1025.3,288.7 1029.8,290.5 1034.4,292.3 1038.8,294.0 1043.1,295.7 1047.3,297.3 1051.3,298.9 1054.7,300.2 1057.9,301.5 1061.1,302.8 1064.2,304.1 1067.1,305.4 1070.1,306.6 1073.0,307.9 1075.8,309.1 1078.7,310.3 1081.6,311.5 1082.4,309.7 1079.7,308.2 1077.0,306.7 1074.3,305.1 1071.6,303.6 1068.8,302.0 1066.0,300.4 1063.0,298.8 1060.0,297.1 1056.8,295.5 1053.6,293.8 1049.7,291.9 1045.6,289.9 1041.4,287.9 1037.1,285.9 1032.5,283.9 1027.9,282.0 1023.2,280.1 1018.4,278.3 1013.6,276.6 1008.7,275.1 1004.1,273.7 999.5,272.4 994.9,271.2 990.3,270.0 985.7,269.0 981.1,268.0 976.5,267.1 971.8,266.3 967.2,265.6 962.5,264.9 957.7,264.3 952.8,263.8 948.1,263.5 943.3,263.2 938.7,262.9 934.1,262.9 929.6,262.9 925.1,262.9 920.7,262.9 916.5,262.9 912.3,262.9 908.1,262.8 903.9,262.8 899.6,262.7 895.2,262.7 890.6,262.7 886.0,262.8 881.3,263.0 876.4,263.3 871.4,263.8 865.5,264.4 859.3,265.2 852.8,266.1 846.2,267.1 839.6,268.2 833.1,269.5 826.8,270.8 820.8,272.2 815.1,273.8 810.1,275.6 806.9,277.1 804.3,278.5 801.9,280.0 799.9,281.4 798.0,282.8 796.5,284.1 795.2,285.3 794.1,286.3 793.1,287.2 791.9,288.2" fill="#00dc60" />
<polygon points="794.2,292.1 795.7,291.5 797.0,290.9 798.5,290.2 800.0,289.5 801.7,288.6 803.6,287.8 805.7,286.9 807.9,286.0 810.3,285.1 813.0,284.1 817.7,282.7 823.0,281.4 828.8,280.1 834.9,279.0 841.2,278.0 847.7,277.0 854.1,276.2 860.5,275.5 866.5,274.9 872.3,274.4 877.0,274.1 881.7,274.0 886.2,274.0 890.6,274.0 895.0,274.1 899.3,274.3 903.5,274.5 907.7,274.7 911.9,274.9 916.2,275.1 920.5,275.3 924.9,275.4 929.3,275.6 933.8,275.7 938.3,275.9 942.8,276.1 947.3,276.3 951.8,276.6 956.4,276.9 960.9,277.4 965.4,278.0 969.9,278.7 974.3,279.4 978.8,280.2 983.2,281.0 987.6,282.0 992.0,283.0 996.5,284.1 1000.9,285.2 1005.3,286.5 1009.8,287.9 1014.5,289.4 1019.1,291.1 1023.6,292.8 1028.2,294.6 1032.6,296.5 1037.0,298.1 1041.4,299.8 1045.5,301.4 1049.6,302.9 1052.9,304.1 1056.1,305.4 1059.3,306.6 1062.3,307.9 1065.3,309.1 1068.2,310.3 1071.1,311.5 1074.0,312.7 1076.9,313.9 1079.8,315.1 1080.3,314.2 1077.5,312.6 1074.8,311.1 1072.1,309.5 1069.4,307.9 1066.7,306.3 1063.9,304.7 1061.0,303.0 1058.0,301.4 1054.9,299.7 1051.7,298.1 1047.8,296.1 1043.8,294.1 1039.6,292.1 1035.3,290.0 1030.8,288.1 1026.2,286.2 1021.6,284.4 1016.9,282.7 1012.1,281.0 1007.4,279.5 1002.8,278.2 998.3,276.9 993.8,275.7 989.3,274.7 984.7,273.7 980.2,272.7 975.6,271.9 971.1,271.1 966.5,270.4 961.9,269.7 957.2,269.2 952.5,268.7 947.8,268.4 943.1,268.1 938.5,267.9 934.0,267.9 929.5,267.9 925.0,267.9 920.7,267.9 916.4,267.9 912.2,267.8 908.0,267.8 903.7,267.7 899.4,267.7 895.1,267.6 890.6,267.7 886.1,267.8 881.4,267.9 876.7,268.2 871.8,268.7 866.0,269.3 859.8,270.1 853.4,270.9 846.9,271.9 840.4,273.0 834.0,274.2 827.8,275.6 821.9,277.0 816.4,278.5 811.6,280.1 808.7,281.3 806.3,282.6 804.1,283.9 802.2,285.3 800.5,286.6 799.0,287.9 797.7,289.0 796.5,290.1 795.4,291.1 794.2,292.1" fill="#00e0e0" />
<polygon points="797.2,297.3 798.9,296.7 800.4,296.1 802.0,295.5 803.6,294.9 805.3,294.2 807.0,293.5 808.9,292.9 810.8,292.0 812.8,291.1 815.1,290.3 819.5,289.0 824.5,287.7 830.1,286.5 836.1,285.4 842.3,284.3 848.6,283.4 855.0,282.5 861.2,281.8 867.2,281.2 872.8,280.7 877.4,280.4 881.9,280.3 886.3,280.2 890.6,280.2 894.9,280.3 899.1,280.5 903.3,280.7 907.5,280.9 911.8,281.1 916.0,281.2 920.4,281.4 924.8,281.5 929.2,281.6 933.6,281.8 938.1,281.9 942.5,282.0 947.0,282.2 951.4,282.4 955.8,282.8 960.2,283.2 964.6,283.7 969.0,284.3 973.3,285.0 977.7,285.7 982.1,286.5 986.4,287.4 990.7,288.3 995.1,289.3 999.4,290.4 1003.7,291.6 1008.2,292.9 1012.8,294.1 1017.4,295.5 1022.0,297.0 1026.6,298.5 1031.1,300.1 1035.5,301.7 1039.8,303.3 1044.0,304.8 1048.1,306.4 1051.3,307.7 1054.5,309.0 1057.5,310.3 1060.5,311.5 1063.5,312.8 1066.3,314.1 1069.2,315.4 1072.1,316.6 1074.9,317.9 1077.8,319.2 1077.8,319.2 1075.1,317.6 1072.3,316.1 1069.6,314.6 1066.9,313.1 1064.1,311.5 1061.3,310.0 1058.4,308.4 1055.4,306.9 1052.4,305.3 1049.2,303.7 1045.3,301.8 1041.4,299.8 1037.2,297.7 1033.0,295.6 1028.6,293.5 1024.2,291.4 1019.7,289.4 1015.2,287.4 1010.6,285.6 1006.1,283.9 1001.6,282.6 997.2,281.3 992.7,280.1 988.3,279.0 983.8,278.0 979.4,277.0 974.9,276.1 970.4,275.3 965.9,274.6 961.4,273.9 956.8,273.3 952.1,272.8 947.5,272.5 942.9,272.2 938.4,271.9 933.9,271.9 929.4,271.8 925.0,271.8 920.6,271.8 916.3,271.8 912.0,271.7 907.8,271.6 903.6,271.5 899.3,271.5 895.0,271.4 890.6,271.4 886.1,271.5 881.6,271.7 876.9,271.9 872.1,272.3 866.3,272.9 860.3,273.7 853.9,274.5 847.4,275.5 841.0,276.6 834.6,277.7 828.5,279.0 822.7,280.4 817.4,281.8 812.7,283.4 810.0,284.5 807.7,285.6 805.6,286.7 803.8,288.1 802.3,289.5 800.9,290.8 799.7,292.1 798.6,293.3 797.5,294.4 796.2,295.5" fill="#0058ea" />
<polygon points="798.5,299.4 800.1,298.7 801.6,298.0 803.1,297.3 804.7,296.5 806.2,295.7 807.9,295.0 809.6,294.2 811.4,293.3 813.4,292.5 815.5,291.7 819.9,290.3 824.9,289.0 830.4,287.8 836.3,286.7 842.5,285.6 848.8,284.6 855.1,283.8 861.4,283.0 867.3,282.4 872.9,281.9 877.5,281.6 881.9,281.4 886.3,281.3 890.6,281.3 894.8,281.3 899.1,281.4 903.3,281.4 907.5,281.5 911.7,281.6 916.0,281.6 920.4,281.6 924.8,281.6 929.2,281.6 933.6,281.6 938.1,281.7 942.5,281.8 947.0,281.9 951.4,282.2 955.8,282.4 960.3,282.8 964.7,283.2 969.1,283.8 973.5,284.3 977.8,285.0 982.2,285.7 986.6,286.5 991.0,287.4 995.3,288.4 999.7,289.4 1004.0,290.7 1008.5,292.1 1013.0,293.6 1017.5,295.3 1022.0,297.0 1026.5,298.8 1030.9,300.6 1035.2,302.5 1039.4,304.3 1043.5,306.1 1047.4,307.8 1050.6,309.2 1053.7,310.6 1056.7,312.1 1059.6,313.5 1062.4,314.9 1065.3,316.3 1068.1,317.7 1070.9,319.1 1073.7,320.5 1076.5,321.9 1076.5,321.9 1073.7,320.5 1070.9,319.1 1068.1,317.7 1065.3,316.3 1062.4,314.9 1059.6,313.5 1056.7,312.1 1053.7,310.6 1050.6,309.2 1047.4,307.8 1043.5,306.1 1039.4,304.3 1035.2,302.5 1030.9,300.6 1026.5,298.8 1022.0,297.0 1017.5,295.3 1013.0,293.6 1008.5,292.1 1004.0,290.7 999.7,289.4 995.4,288.1 991.1,286.9 986.8,285.7 982.5,284.6 978.1,283.6 973.8,282.7 969.4,281.8 965.0,281.0 960.6,280.3 956.1,279.6 951.6,279.1 947.2,278.7 942.7,278.4 938.2,278.2 933.7,278.0 929.3,277.8 924.9,277.7 920.5,277.6 916.1,277.4 911.9,277.2 907.7,277.0 903.4,276.8 899.2,276.6 894.9,276.4 890.6,276.3 886.2,276.4 881.7,276.5 877.2,276.8 872.5,277.1 866.8,277.7 860.8,278.4 854.5,279.2 848.1,280.2 841.8,281.2 835.5,282.3 829.5,283.6 823.8,284.9 818.7,286.2 814.2,287.7 811.8,288.7 809.7,289.7 807.7,290.7 806.1,291.9 804.6,293.1 803.2,294.2 801.9,295.4 800.6,296.4 799.4,297.5 798.0,298.6" fill="#0010c0" />
</g>
</g>
<g clip-path="url(#clipBelow)"><g filter="url(#blA)">
<polygon points="760.0,300.0 760.6,303.4 763.3,307.1 767.5,311.0 772.5,315.1 777.9,319.3 782.9,323.6 787.2,327.8 790.0,332.0 791.2,335.2 791.9,338.5 792.2,341.8 792.2,345.1 792.2,348.4 792.3,351.7 792.5,354.9 793.0,358.0 793.8,360.8 794.7,363.6 795.8,366.3 796.9,368.9 798.0,371.6 799.1,374.3 800.1,377.1 801.0,380.0 801.7,383.6 802.3,387.4 802.6,391.3 803.0,395.3 803.4,399.3 803.9,403.1 804.8,406.7 806.0,410.0 807.4,412.6 809.0,415.0 810.8,417.3 812.8,419.5 814.8,421.6 816.9,423.7 819.0,425.8 821.0,428.0 823.1,430.3 825.3,432.6 827.5,434.8 829.7,437.0 831.9,439.4 834.1,441.8 836.1,444.3 838.0,447.0 839.9,450.4 841.6,454.0 843.1,457.9 844.5,461.8 845.9,465.8 847.4,469.7 849.1,473.5 851.0,477.0 853.1,480.2 855.3,483.4 857.7,486.5 860.1,489.5 862.6,492.4 865.1,495.2 867.6,497.7 870.0,500.0 871.7,501.6 873.4,502.9 875.0,504.2 876.6,505.4 878.3,506.5 880.0,507.6 881.9,508.8 884.0,510.0 887.3,511.9 891.0,513.9 894.9,515.9 899.0,517.9 903.2,519.9 907.5,521.8 911.8,523.5 916.0,525.0 920.2,526.3 924.4,527.4 928.6,528.3 932.9,529.2 937.3,529.9 941.5,530.6 945.8,531.3 950.0,532.0 953.9,532.6 957.8,533.3 961.6,533.8 965.5,534.3 969.3,534.8 973.2,535.3 977.1,535.7 981.0,536.0 985.2,536.3 989.4,536.6 993.7,536.8 998.0,537.0 1002.3,537.1 1006.6,537.1 1010.8,537.1 1015.0,537.0 1019.0,536.8 1023.0,536.6 1027.0,536.2 1030.9,535.9 1034.8,535.4 1038.7,535.0 1042.4,534.5 1046.0,534.0 1048.9,533.6 1051.8,533.1 1054.6,532.6 1057.3,532.1 1060.0,531.6 1062.7,531.0 1065.3,530.5 1068.0,530.0 1070.6,529.6 1073.1,529.3 1075.7,529.0 1078.2,528.8 1080.7,528.4 1083.2,527.8 1085.6,527.1 1088.0,526.0 1090.7,524.4 1093.4,522.4 1096.1,520.1 1098.7,517.6 1101.2,514.9 1103.6,512.0 1105.9,509.1 1108.0,506.0 1110.1,502.2 1111.9,498.1 1113.5,493.6 1115.0,489.0 1116.5,484.4 1118.1,479.9 1119.9,475.8 1122.0,472.0 1124.2,469.1 1126.7,466.5 1129.3,464.1 1132.0,461.8 1134.7,459.5 1137.3,457.2 1139.8,454.7 1142.0,452.0 1144.1,448.9 1146.1,445.7 1148.1,442.3 1149.9,438.8 1151.5,435.3 1152.9,431.8 1154.1,428.3 1155.0,425.0 1155.6,422.3 1156.0,419.6 1156.2,416.9 1156.4,414.3 1156.3,411.7 1156.1,409.1 1155.6,406.5 1155.0,404.0 1154.0,401.4 1152.7,399.0 1151.2,396.7 1149.5,394.4 1147.6,392.0 1145.7,389.6 1143.8,386.9 1142.0,384.0 1139.6,379.3 1137.3,374.2 1135.0,368.7 1132.7,362.9 1130.1,357.0 1127.2,351.2 1123.9,345.4 1120.0,340.0 1114.5,333.3 1108.5,326.5 1102.0,319.8 1094.8,313.1 1087.1,306.7 1078.8,300.7 1069.7,295.1 1060.0,290.0 1043.9,283.4 1025.2,277.5 1004.7,272.4 983.1,268.0 961.1,264.5 939.4,262.0 918.8,260.5 900.0,260.0 886.0,260.6 872.2,262.0 858.7,264.1 845.6,266.8 833.0,269.9 821.1,273.2 810.1,276.6 800.0,280.0 793.5,282.2 786.9,284.3 780.4,286.6 774.3,288.9 768.9,291.4 764.5,294.0 761.5,296.9" fill="#f0a200" />
<polygon points="790.0,300.0 790.6,303.7 792.8,307.5 796.2,311.5 800.3,315.5 804.8,319.7 809.2,324.0 813.1,328.4 816.0,333.0 818.1,337.9 819.9,343.0 821.3,348.3 822.5,353.7 823.6,359.3 824.7,364.8 825.8,370.4 827.0,376.0 828.4,382.0 829.7,388.3 830.9,394.7 832.2,401.1 833.5,407.4 834.9,413.5 836.4,419.4 838.0,425.0 839.5,429.3 841.0,433.5 842.6,437.5 844.3,441.4 846.0,445.2 847.7,448.9 849.3,452.5 851.0,456.0 852.3,458.9 853.6,461.6 854.8,464.3 856.0,466.9 857.3,469.4 858.7,472.0 860.3,474.5 862.0,477.0 864.2,479.9 866.6,482.9 869.1,485.9 871.8,488.8 874.7,491.7 877.7,494.3 880.8,496.8 884.0,499.0 887.5,501.0 891.3,502.8 895.2,504.3 899.3,505.7 903.5,506.9 907.7,508.0 911.9,509.0 916.0,510.0 920.2,510.9 924.4,511.5 928.7,512.1 933.0,512.6 937.3,513.0 941.6,513.3 945.8,513.6 950.0,514.0 954.0,514.4 958.0,514.8 962.1,515.3 966.1,515.7 970.0,516.0 973.8,516.2 977.5,516.2 981.0,516.0 983.6,515.6 985.9,515.1 988.2,514.5 990.4,513.8 992.6,513.0 994.9,512.3 997.3,511.6 1000.0,511.0 1004.4,510.4 1009.3,509.9 1014.6,509.6 1020.0,509.2 1025.4,508.8 1030.7,508.2 1035.6,507.3 1040.0,506.0 1043.1,504.7 1046.1,503.4 1048.9,501.9 1051.6,500.2 1054.2,498.4 1056.6,496.4 1058.9,494.3 1061.0,492.0 1063.1,489.2 1064.8,486.1 1066.3,482.7 1067.7,479.2 1069.1,475.5 1070.5,471.9 1072.1,468.4 1074.0,465.0 1076.3,461.5 1078.9,458.2 1081.7,454.8 1084.5,451.5 1087.3,448.2 1090.1,444.8 1092.7,441.5 1095.0,438.0 1097.0,434.7 1098.9,431.4 1100.7,428.1 1102.5,424.7 1104.1,421.3 1105.5,417.9 1106.9,414.4 1108.0,411.0 1108.9,407.7 1109.8,404.3 1110.5,401.0 1111.0,397.6 1111.4,394.2 1111.8,390.8 1111.9,387.4 1112.0,384.0 1112.0,380.6 1111.8,377.3 1111.6,373.9 1111.2,370.5 1110.6,367.2 1109.9,363.8 1109.1,360.4 1108.0,357.0 1106.6,353.0 1104.9,349.0 1103.1,344.9 1101.0,340.8 1098.7,336.7 1096.1,332.7 1093.2,328.8 1090.0,325.0 1085.4,320.2 1080.4,315.4 1074.9,310.8 1068.9,306.2 1062.5,301.8 1055.5,297.7 1048.0,293.7 1040.0,290.0 1025.9,284.7 1009.5,279.6 991.4,275.0 972.4,270.8 953.1,267.4 934.1,264.6 916.2,262.8 900.0,262.0 888.7,262.0 877.4,262.6 866.5,263.5 855.9,265.0 845.9,266.8 836.4,269.2 827.8,271.9 820.0,275.0 814.9,277.5 809.8,280.2 804.8,283.1 800.3,286.3 796.4,289.6 793.2,293.0 791.0,296.5" fill="#f0f000" />
<polygon points="815.0,290.0 815.3,294.2 817.1,299.0 820.1,304.2 823.8,309.8 827.8,315.6 831.8,321.5 835.3,327.4 838.0,333.0 839.9,338.3 841.5,343.5 842.9,348.9 844.2,354.2 845.4,359.6 846.5,365.0 847.7,370.5 849.0,376.0 850.3,382.1 851.6,388.6 852.8,395.2 854.0,401.8 855.2,408.2 856.6,414.3 858.2,420.0 860.0,425.0 861.4,428.1 862.8,430.9 864.4,433.5 865.9,436.0 867.6,438.3 869.3,440.6 871.1,442.8 873.0,445.0 874.9,447.2 876.8,449.3 878.8,451.5 880.8,453.5 882.9,455.4 885.2,457.2 887.5,458.7 890.0,460.0 892.8,461.1 895.8,461.8 898.9,462.4 902.1,462.7 905.4,462.9 908.8,463.0 912.4,463.0 916.0,463.0 921.1,462.9 926.6,462.6 932.4,462.2 938.3,461.6 944.2,460.9 949.9,460.0 955.2,459.0 960.0,458.0 963.0,457.2 965.7,456.3 968.2,455.4 970.6,454.5 973.0,453.4 975.4,452.3 978.1,451.2 981.0,450.0 985.8,448.1 991.2,446.1 997.0,444.0 1002.9,441.7 1008.8,439.4 1014.6,436.9 1020.1,434.5 1025.0,432.0 1028.6,430.0 1032.1,427.9 1035.4,425.9 1038.6,423.7 1041.7,421.6 1044.6,419.4 1047.4,417.2 1050.0,415.0 1052.1,413.2 1054.2,411.5 1056.1,409.7 1058.0,407.9 1059.7,406.1 1061.3,404.2 1062.8,402.2 1064.0,400.0 1065.0,397.6 1065.9,395.0 1066.5,392.2 1066.9,389.4 1067.3,386.5 1067.5,383.7 1067.8,380.8 1068.0,378.0 1068.3,375.3 1068.6,372.6 1068.9,369.8 1069.1,367.1 1069.2,364.4 1069.1,361.6 1068.7,358.8 1068.0,356.0 1066.5,352.1 1064.6,348.1 1062.2,344.1 1059.4,340.0 1056.3,335.9 1053.0,331.9 1049.5,327.9 1046.0,324.0 1041.7,319.4 1037.1,314.9 1032.4,310.3 1027.3,305.9 1021.8,301.6 1016.0,297.5 1009.7,293.6 1003.0,290.0 992.4,285.4 980.3,281.0 967.2,276.9 953.5,273.3 939.4,270.2 925.6,267.8 912.3,266.0 900.0,265.0 890.3,264.8 880.3,265.1 870.4,265.8 860.8,266.9 851.7,268.4 843.3,270.3 836.0,272.5 830.0,275.0 827.2,276.5 824.5,278.0 822.1,279.7 820.0,281.4 818.1,283.3 816.7,285.3 815.6,287.6" fill="#a0ec00" />
</g></g>
<g filter="url(#blL)" fill="none" stroke-linecap="butt">
<path d="M33,268.5L45,264.7M51,262.7L65,258.1L73,255.5M79,253.6L93,249.0L100,246.6M113,242.3L123,238.4M135,233.5L149,227.9L163,222.3L164,221.4M236,180.1L250,173.1L264,166.1L267,164.9M274,161.5L285,156.8M304,148.8L317,143.4M333,136.7L347,130.8L350,129.2M356,127.3L366,124.7M382,120.1L396,116.3L402,114.9M417,110.8L431,106.9L436,105.9M455,104.3L469,103.1L481,102.0M557,98.2L571,97.8L576,97.6M584,97.3L598,96.6L604,96.3M621,95.4L635,94.7L649,95.2M33,280.3L47,276.0L59,272.4M115,254.7L129,249.4L135,247.0M141,244.7L155,239.4L167,233.9M189,221.5L203,213.5L217,205.6L219,205.0M230,199.5L244,192.9L256,187.5M268,181.4L281,176.3M287,173.9L301,168.3L315,162.7M348,149.1L362,145.0L368,143.5M427,128.2L441,126.0L446,125.6M466,123.9L480,122.7L494,121.5L499,121.1M507,120.5L521,120.0L521,120.0M534,119.6L548,119.3L558,119.0M563,118.9L577,118.5L582,118.4M596,117.7L610,117.0L624,116.3L629,116.1M643,116.0L652,116.3M93,273.3L107,269.2L111,267.9M118,265.5L132,260.4L142,256.7M148,254.4L162,249.6M172,244.0L182,239.0M189,234.9L200,229.1M205,226.2L219,218.9L233,212.6L236,211.4M244,208.0L258,201.7L258,201.5M303,183.8L317,178.5L323,176.1M329,173.7L340,169.6M349,166.0L363,162.2L377,158.7L379,158.3M384,157.0L398,153.6L412,150.1L417,149.0M424,147.1L438,144.6L447,143.9M511,138.9L525,138.5L526,138.5M533,138.3L547,138.0L561,137.6L562,137.6M580,137.2L594,136.5L596,136.4M44,297.6L58,293.8L71,290.1M85,286.2L99,282.3L102,281.4M108,279.8L122,275.2L123,274.8M140,269.0L154,264.2L168,258.6L173,256.1M238,224.3L252,218.4M261,214.9L274,209.4M294,202.1L308,197.0L322,191.9L324,191.3M340,185.5L354,180.7L368,177.4L369,177.2M385,173.4L399,170.1L413,166.9L417,166.0M435,162.1L449,161.0L455,160.5M512,156.4L526,156.1L530,156.0M551,155.5L565,155.1L578,154.8M649,152.8L652,152.9M127,284.3L141,279.8L141,279.6M150,276.7L164,271.9L173,267.4M208,250.6L222,244.3L228,241.9M281,221.1L295,216.3L303,213.6M308,211.8L322,207.0L327,205.1M332,203.4L346,198.6L360,194.8L361,194.6M374,191.7L388,188.6L401,185.8M412,183.4L426,180.3L433,178.7M451,177.4L462,176.6M471,175.9L485,174.9L487,174.8M500,173.8L514,173.1L523,172.9M543,172.5L557,172.2L563,172.0M577,171.7L591,171.2L598,170.9M611,170.4L625,169.8L632,169.5M123,295.8L135,292.2M147,288.4L157,285.3M164,283.3L178,276.9L189,271.6M209,262.2L221,257.1M336,216.9L348,212.9M362,209.6L376,206.6L379,206.1M389,203.9L403,200.9L416,198.2M430,195.2L444,193.9L450,193.5M460,192.8L474,191.8L485,191.1M491,190.7L505,189.7L519,189.2L524,189.1M546,188.7L557,188.5M562,188.3L576,188.0L590,187.6L591,187.5M636,185.8L650,186.2L650,186.2M39,326.8L53,323.5L65,320.6M71,319.2L85,315.8L97,313.0M103,311.5L117,307.8L131,303.7L135,302.5M170,291.2L184,285.1L198,279.0L201,277.9M243,261.3L255,257.1M264,253.8L275,250.1M280,248.3L294,244.3M304,241.1L318,236.8L332,232.6M345,228.4L358,225.1M363,224.1L377,221.3L378,221.2M395,217.7L409,214.9L417,213.3M430,210.7L444,209.4L458,208.5L463,208.2M482,207.0L496,206.1L501,205.8M520,205.0L534,204.7L538,204.6M555,204.3L569,204.0L583,203.7L589,203.5M608,202.8L622,202.3L634,201.8M646,202.0L652,202.2M28,337.9L42,334.8L55,331.9M93,323.4L107,320.3L118,317.3M127,314.8L141,310.9L143,310.5M150,308.4L164,304.3L170,302.0M191,293.2L205,287.4L219,281.8L225,280.0M234,276.9L248,272.1L262,267.2L267,265.5M278,262.1L286,259.8M299,256.0L313,251.9L320,249.8M334,245.9L342,243.5M348,241.6L362,238.6L367,237.8M372,236.8L386,234.1L388,233.8M403,230.9L417,228.3L425,226.8M503,221.0L517,220.5L530,220.3M616,218.1L630,217.6L637,217.4M44,343.0L58,340.1L72,337.1L73,336.8M93,332.5L107,329.5L119,326.6M128,324.3L137,322.0M173,311.2L187,305.8L198,301.8M214,295.3L228,290.6L235,288.5M253,282.4L267,277.9L281,274.1M295,270.2L309,266.4L320,263.3M338,258.5L352,254.6L352,254.5M362,252.8L376,250.3L389,248.0M406,244.9L420,242.4L434,240.1L440,239.8M451,239.1L465,238.3L472,237.9M490,236.9L504,236.1L514,235.7M520,235.6L532,235.4M549,235.1L563,234.8L565,234.8M571,234.7L580,234.5M597,234.0L611,233.5L623,233.1M632,232.8L646,232.9L652,233.1M29,354.5L43,351.7L57,349.0L60,348.3M81,344.0L95,341.2L109,338.4L114,337.4M169,323.3L183,318.2L184,317.8M205,310.1L218,305.3M254,294.2L268,289.9L282,286.2L284,285.9M304,280.7L318,277.1L330,273.9M350,268.7L364,266.2L371,265.1M376,264.2L390,261.9L397,260.8M407,259.1L419,257.1M429,255.4L443,254.2L457,253.4L459,253.3M477,252.4L491,251.6L505,250.9L506,250.8M564,249.7L578,249.5L581,249.4M603,248.7L617,248.3L627,248.0M639,247.7L652,248.1M69,355.2L83,352.5L84,352.4M130,342.9L144,339.7L158,336.5L159,336.2M180,329.6L194,324.8L208,320.0L212,318.5M229,313.3L239,310.7M251,307.0L265,303.0L279,299.5M305,293.2L319,289.8L325,288.2M372,278.6L386,276.5L397,274.7M412,272.5L426,270.3L430,269.6M500,265.7L514,265.2L520,265.1M528,264.9L538,264.8M545,264.7L559,264.5L559,264.5M574,264.2L588,263.9L602,263.5L605,263.4M617,263.0L631,262.6L636,262.5M647,262.7L652,262.8M47,367.5L59,365.5M74,362.8L88,360.3L102,357.9L105,357.4M114,355.6L128,352.6L129,352.5M194,335.2L203,332.5M220,327.2L234,323.4L248,319.7L251,318.8M266,314.8L274,312.8M346,296.6L360,294.0L360,293.9M368,292.8L382,290.8L389,289.7M410,286.6L424,284.5L437,283.1M455,282.2L469,281.5L475,281.3M481,281.0L495,280.3L509,279.7L509,279.6M530,279.3L544,279.1L554,279.0M562,278.9L576,278.7L576,278.7M593,278.2L604,277.9M618,277.6L632,277.2L641,277.2M650,277.4L652,277.4M36,377.4L50,375.2L64,372.9L69,372.1M89,368.8L103,366.6L109,365.5M119,363.7L133,360.9L147,358.1L152,357.1M162,355.1L170,352.6M187,347.7L201,343.5L206,342.1M222,337.5L236,334.0L250,330.5L254,329.5M260,328.1L274,324.8L277,324.2M293,320.7L306,317.9M324,314.2L338,311.2L345,309.7M392,302.9L405,301.0M415,299.6L429,297.7L443,296.8L448,296.6M456,296.2L470,295.6M486,294.9L500,294.2L514,293.8L519,293.7M552,293.3L561,293.2M30,386.3L44,384.2L58,382.1L62,381.5M68,380.6L82,378.5L93,376.8M105,375.1L119,372.7L121,372.2M126,371.2L140,368.7L142,368.4M219,349.1L233,345.9L238,344.7M337,324.3L346,322.5M352,321.3L366,319.5L380,317.7L384,317.3M401,315.0L415,313.2L429,311.5L433,311.1M442,310.6L456,310.1L470,309.5L475,309.3M485,308.9L499,308.3L511,307.9M521,307.8L529,307.7M580,307.0L594,306.7L594,306.7M615,306.2L629,305.9L643,305.8L648,305.9M64,389.3L78,387.4L92,385.4L93,385.3M112,382.6L126,380.2L140,377.8L140,377.8M151,376.0L165,373.5L167,372.9M186,368.2L196,365.6M213,361.1L227,358.0L228,357.9M233,356.7L247,353.7L256,351.9M318,340.3L328,338.4M342,336.0L356,333.7L368,332.3M377,331.2L391,329.6L396,329.0M477,323.0L491,322.5L500,322.2M517,321.7L531,321.6M567,321.1L581,321.0L583,320.9M605,320.4L619,320.1L626,320.0M86,394.6L95,393.5M130,388.4L144,386.3L158,384.1L162,383.4M182,378.9L196,375.6L202,374.2M220,370.1L234,367.4L248,364.7L253,363.8M268,360.8L282,358.4L292,356.8M303,354.9L315,353.0M324,351.4L338,349.1L348,347.6M356,346.4L364,345.5M381,343.7L394,342.4M402,341.5L416,340.0L430,338.5L431,338.4M437,338.1L448,337.7M462,337.2L476,336.7L487,336.3M494,336.1L508,335.6L520,335.4M557,335.1L571,334.9L579,334.8M633,333.7L646,333.8M26,409.8L40,408.2L54,406.6L58,406.2M108,400.4L120,398.7M166,392.1L180,389.1L190,386.9M203,384.0L215,381.5M229,379.0L243,376.5L257,374.0L261,373.3M345,360.5L359,358.8L365,358.2M420,352.9L434,351.6L448,351.1L449,351.1M467,350.5L481,350.1M501,349.5L515,349.1L529,349.0L530,349.0M539,348.9L553,348.8L557,348.7M569,348.6L580,348.5M597,348.2L611,347.9L625,347.7L629,347.6M643,347.6L652,347.7M29,417.1L43,415.6L52,414.7M68,413.0L82,411.6L84,411.4M99,409.8L113,408.3L118,407.6M130,406.0L144,404.2L150,403.5M165,401.4L179,398.7L186,397.4M204,394.0L218,391.3L232,389.1L232,389.1M240,387.8L254,385.5L261,384.5M268,383.4L282,381.4L287,380.7M300,379.0L314,377.1L321,376.2M337,374.0L347,372.6M365,370.8L379,369.6L386,368.9M473,363.7L487,363.3L501,362.9L502,362.9M565,362.2L577,362.1M598,361.8L608,361.6M647,361.3L652,361.3M46,422.9L60,421.7M73,420.4L87,419.1L90,418.9M126,415.1L140,413.5L154,412.0L158,411.6M176,408.7L187,406.9M264,395.0L278,393.2L292,391.5L298,390.8M310,389.4L324,387.7L338,386.0L339,385.9M361,383.6L375,382.5L384,381.8M402,380.4L416,379.3L421,378.9M497,376.4L511,376.1L522,376.0M527,375.9L536,375.9M552,375.7L566,375.6L571,375.6M591,375.4L602,375.2M619,374.9L627,374.8M638,374.7L649,374.8M39,431.2L53,430.0L62,429.3M78,428.0L92,426.8L98,426.3M119,424.4L133,423.0L133,423.0M183,417.0L197,414.9L201,414.3M207,413.5L221,411.5L231,410.1M242,408.8L256,407.0L267,405.7M288,403.4L302,401.9L315,400.5M335,398.4L345,397.4M356,396.3L370,395.3L371,395.3M389,394.1L397,393.5M418,392.0L430,391.2M445,390.8L459,390.4L466,390.3M485,389.9L498,389.6M535,389.2L549,389.1L562,389.0M581,388.8L595,388.7L609,388.5M626,388.3L640,388.2L646,388.2M31,439.2L40,438.5M101,434.2L115,433.2L116,433.1M128,432.0L142,430.8L156,429.6L157,429.6M200,424.2L214,422.4L228,420.9L231,420.5M240,419.5L254,418.0L254,418.0M275,415.8L289,414.5L303,413.3M323,411.5L337,410.2L339,410.0M360,408.3L374,407.5L384,406.9M400,405.9L414,405.1L428,404.3L434,404.0M492,402.8L506,402.6L518,402.5M529,402.4L542,402.3M549,402.3L563,402.2L577,402.1L580,402.1M607,401.8L619,401.7M625,401.6L639,401.5L651,401.6M42,445.9L52,445.3M143,439.4L157,438.4L171,437.1L175,436.6M184,435.7L195,434.5M214,432.3L228,431.0L242,429.8L243,429.6M262,427.9L276,426.7L287,425.9M293,425.4L304,424.6M312,423.9L326,422.8L329,422.7M334,422.3L348,421.2L349,421.1M366,420.2L380,419.5L383,419.3M441,416.7L450,416.5M463,416.3L477,416.1L491,415.9L491,415.9M508,415.6L522,415.5L530,415.5M568,415.3L576,415.3M594,415.1L608,415.0L622,414.8L627,414.8M640,414.7L652,414.8M63,452.2L77,451.6L91,450.9L96,450.7M105,450.2L119,449.5L131,448.7M138,448.3L152,447.5L162,446.9M181,445.2L195,444.0L207,442.9M222,441.6L236,440.6L240,440.3M251,439.4L265,438.4L279,437.5L282,437.3M303,436.0L311,435.5M321,434.9L335,434.0L349,433.1L352,432.9M364,432.4L378,431.8L392,431.3L395,431.1M407,430.6L421,430.1L429,429.7M447,429.4L461,429.2L472,429.1M511,428.6L525,428.5L538,428.5M550,428.4L564,428.4L578,428.3L578,428.3M615,428.0L628,427.9M645,427.9L652,428.0M31,461.0L45,460.5L48,460.4M56,460.1L70,459.6L72,459.5M94,458.7L108,458.1L121,457.6M142,456.6L153,456.1M174,454.8L188,453.8L202,452.9L203,452.8M216,452.0L229,451.2M235,450.8L249,450.0M254,449.7L268,448.9L273,448.7M290,447.9L304,447.2L311,446.8M323,446.2L335,445.6M387,443.7L401,443.3L409,443.0M422,442.6L436,442.2M456,442.0L470,441.9L484,441.7L484,441.7M503,441.5L517,441.4L529,441.4M542,441.4L556,441.3L558,441.3M564,441.3L578,441.3L583,441.2M600,441.1L614,441.0L625,441.0M637,440.9L651,441.0L652,441.0M41,468.0L55,467.6L69,467.2L73,467.1M89,466.7L103,466.3L117,465.9L117,465.9M131,465.4L145,465.0L159,464.5L164,464.3M178,463.6L190,463.0M211,462.0L225,461.4L233,461.0M248,460.4L262,459.9L270,459.5M349,456.8L363,456.4L375,456.2M415,455.2L425,455.0M436,454.8L445,454.8M457,454.7L471,454.6L483,454.5M493,454.4L506,454.3M527,454.3L541,454.2L549,454.2M568,454.2L582,454.1L586,454.1M637,453.9L651,453.9L652,453.9M47,475.1L61,474.9L64,474.8M83,474.5L97,474.3L111,474.1L113,474.0M123,473.9L137,473.6L145,473.4M191,472.2L205,471.8L209,471.7M221,471.4L234,471.1M251,470.6L265,470.3L266,470.3M276,470.0L290,469.7L297,469.6M313,469.3L327,469.0L338,468.8M359,468.4L373,468.2L387,468.0L389,468.0M408,467.7L422,467.5L436,467.4L439,467.3M447,467.3L461,467.2L475,467.2L476,467.2M506,467.0L520,467.0L521,467.0M528,467.0L542,467.0L542,467.0M611,466.9L625,466.8L639,466.8L639,466.8M43,482.4L57,482.3L71,482.3L73,482.2M90,482.2L104,482.1L112,482.0M124,482.0L138,481.9L152,481.8L155,481.7M165,481.7L179,481.5L179,481.5M192,481.4L202,481.3M209,481.2L223,481.1L230,481.1M244,480.9L258,480.8L272,480.7L274,480.7M294,480.6L308,480.5L314,480.4M330,480.3L344,480.2L358,480.1L360,480.1M372,480.1L386,480.0L400,480.0L405,479.9M421,479.9L435,479.8L446,479.8M497,479.7L511,479.7L525,479.7L531,479.7M544,479.7L558,479.7L572,479.7L575,479.7M593,479.7L607,479.6L617,479.6M636,479.6L650,479.6L652,479.6" stroke="#980000" stroke-width="2.2" stroke-opacity="0.42"/>
<path d="M45,246L43,255M50,238L48,253M55,230L53,252M60,222L58,250M65,214L63,248M75,196L73,245M85,178L83,242M90,169L88,240M95,160L93,238M100,151L98,236M110,133L108,233M115,124L113,231M120,118L118,229M125,112L123,227M130,107L128,225M135,101L133,223M140,96L138,221M145,92L143,218M150,89L148,216M155,86L153,214M165,80L163,210M170,79L168,207M175,78L173,204M180,77L178,200M185,75L183,197M195,73L193,191M200,72L198,188M205,70L203,185M215,68L213,179M220,67L218,176M225,65L223,173M230,64L228,171M235,63L233,168M240,62L238,166M245,60L243,163M250,59L248,160M255,58L253,158M260,56L258,155M265,55L263,153M270,53L268,150M275,52L273,148M280,51L278,146M290,48L288,141M295,46L293,139M305,44L303,135M310,42L308,132M315,41L313,130M320,39L318,128M325,38L323,126M330,37L328,124M335,36L333,121M340,36L338,119M350,34L348,115M355,33L353,113M360,33L358,112M365,32L363,110M375,30L373,107M385,29L383,105M390,28L388,103M395,28L393,102M400,27L398,100M415,26L413,96M420,26L418,95M425,25L423,93M430,25L428,92M435,24L433,91M440,24L438,90M445,23L443,90M450,23L448,89M455,23L453,89M460,23L458,89M470,23L468,88M480,23L478,87M485,23L483,86M490,23L488,86M495,23L493,85M500,23L498,85M505,23L503,84M510,23L508,84M515,23L513,84M520,23L518,84M530,24L528,83M535,24L533,83M540,25L538,83M545,25L543,83M550,26L548,83M560,27L558,83M570,28L568,82M575,28L573,82M580,29L578,82M585,30L583,82M595,32L593,81M600,34L598,81M605,35L603,81M610,36L608,80M620,39L618,80M625,40L623,80M630,42L628,79M635,43L633,79" stroke="#7a0000" stroke-width="2" stroke-opacity="0.35"/>
<path d="M1229,271.8L1276,280.4M1289,282.7L1341,291.7M1360,295.1L1398,300.7M1229,287.2L1264,293.2M1297,298.7L1355,308.0M1388,312.8L1398,314.1M1218,299.9L1277,310.3M1307,314.9L1360,322.8M1379,325.2L1398,327.6M1241,320.0L1285,326.4M1303,328.8L1340,333.8M1376,338.5L1398,341.1M1234,334.5L1290,341.7M1324,345.9L1355,349.8M1363,350.8L1394,354.0M1234,349.9L1286,356.1M1323,360.1L1344,362.5M1379,366.1L1398,367.9M1233,365.3L1264,368.5M1299,372.1L1352,377.3M1382,380.0L1398,381.4M1219,378.8L1261,383.3M1294,386.3L1322,388.7M1354,391.5L1398,394.9M1234,396.3L1281,400.0M1304,401.7L1332,403.8M1349,405.0L1398,408.3M1230,411.5L1253,413.0M1287,415.2L1338,418.4M1353,419.3L1397,421.7M1243,427.6L1283,429.8M1307,430.9L1350,433.1M1364,433.8L1392,434.9M1237,442.8L1272,444.1M1298,445.1L1334,446.5M1358,447.4L1384,448.2M1394,448.5L1398,448.6M1219,457.6L1264,458.9M1298,459.7L1324,460.4M1351,461.1L1385,461.8M1217,473.2L1238,473.6M1278,474.1L1332,474.8M1356,475.1L1398,475.6M1239,489.0L1276,489.0M1315,489.0L1365,489.0M1245,504.5L1275,504.5M1284,504.5L1312,504.5M1326,504.5L1349,504.5M1359,504.5L1398,504.5M1230,520.0L1288,520.0M1325,520.0L1347,520.0M1374,520.0L1398,520.0M1245,535.5L1275,535.5M1301,535.5L1347,535.5M1385,535.5L1398,535.5M1229,551.0L1256,551.0M1295,551.0L1354,551.0M1370,551.0L1391,551.0M1227,566.5L1283,566.5M1320,566.5L1373,566.5M1383,566.5L1398,566.5M1235,582.0L1295,582.0M1305,582.0L1330,582.0M1363,582.0L1398,582.0M1225,597.5L1269,597.5M1301,597.5L1325,597.5M1343,597.5L1374,597.5M1386,597.5L1398,597.5M1223,613.0L1249,613.0M1279,613.0L1299,613.0M1330,613.0L1358,613.0M1367,613.0L1398,613.0M1244,628.5L1299,628.5M1335,628.5L1361,628.5M1383,628.5L1398,628.5M1241,644.0L1286,644.0M1309,644.0L1342,644.0M1377,644.0L1398,644.0M1220,659.5L1249,659.5M1259,659.5L1308,659.5M1333,659.5L1359,659.5M1395,659.5L1398,659.5M1221,675.0L1252,675.0M1286,675.0L1320,675.0M1333,675.0L1373,675.0M1391,675.0L1398,675.0M1245,690.5L1268,690.5M1304,690.5L1351,690.5M1366,690.5L1398,690.5M1224,706.0L1252,706.0M1271,706.0L1331,706.0M1371,706.0L1398,706.0M1225,721.5L1281,721.5M1290,721.5L1339,721.5M1357,721.5L1398,721.5M1240,737.0L1274,737.0M1286,737.0L1306,737.0M1341,737.0L1382,737.0M1396,737.0L1398,737.0M1223,752.5L1265,752.5M1278,752.5L1305,752.5M1338,752.5L1386,752.5M1218,768.0L1242,768.0M1269,768.0L1309,768.0M1326,768.0L1354,768.0M1382,768.0L1398,768.0M1233,783.5L1262,783.5M1272,783.5L1321,783.5M1342,783.5L1391,783.5" stroke="#900000" stroke-width="2.4" stroke-opacity="0.5"/>
<path d="M813,640h25M970,640h15M1056,640h25M1178,640h31M856,653h15M892,653h35M940,653h31M1041,653h31M1116,653h32M1209,653h14M736,666h36M804,666h32M880,666h38M1067,666h17M837,679h26M890,679h25M1092,679h37M715,692h26M789,692h19M905,692h25M959,692h26M1000,692h14M1040,692h19M737,705h24M823,705h28M874,705h36M942,705h25M1091,705h12M1131,705h32M977,718h37M786,731h32M843,731h27M957,731h23M1169,731h16M882,744h31M937,744h28M1057,744h21M1186,744h25M823,757h15M1082,757h15M1128,757h25M760,770h29M815,770h34M886,770h10M1111,770h27M1182,770h13M824,783h31M872,783h18M936,783h27M991,783h22M1114,783h29M182,506H315M352,506H429M135,517H197M245,517H306M393,517H467M685,528H700M353,539H496M220,550H300M49,561H108M438,572H492M32,583H83M134,583H213M264,583H377M333,594H370M401,594H534M645,594H700M225,616H376M68,627H169M312,627H382M473,627H590M47,649H124M150,649H217M307,649H395M575,649H615M234,660H337M406,660H493M45,671H107M469,671H619M644,682H700M57,704H213M237,704H324M410,715H558M650,726H700M225,748H307M415,759H498M444,770H574M672,770H700M31,781H138M237,792H374" stroke="#900000" stroke-width="2" stroke-opacity="0.4"/>
<path d="M24,485.7H620M24,567H676M40,600H702M24,707H435M280,666H697M483,631H697M432,534H636M432,376H620M447,277H610M458,178H575M565,147.5H610M458,208.5H554M463,308H585M437,407H595M605,748H697M470,245H600M470,343H600M626,468H1196M845,501H1206M1214,475H1400M1216,504.5H1400M1216,537H1400M1216,566.7H1400M1143,599H1400M1216,629H1400M1216,667H1390M980,529H1190M150,264V486M369,117V620M264.5,486V671M541,737V798M620,681V798M737.5,610V798M892.6,625V798M714.6,198V351M925.7,152V280M768,447V508M1214,515V794M1146,596V794M1276,502V575M948.7,623V794M1051.5,677V794M984,447V529M822,540V620M1100,540V600" stroke="#6a0000" stroke-width="2.2" stroke-opacity="0.6"/>
</g>
<g filter="url(#blL)" fill="none">
<path d="M655,70.0h10M678,70.0h7M701,70.0h11M720,70.0h7M664,85.5h7M687,85.5h11M706,85.5h9M725,85.5h12M744,85.5h12M766,85.5h7M785,85.5h8M655,101.0h10M679,101.0h13M696,101.0h10M718,101.0h12M741,101.0h10M762,101.0h9M781,101.0h12M804,101.0h13M826,101.0h8M848,101.0h11M664,116.5h10M683,116.5h7M701,116.5h8M720,116.5h11M741,116.5h13M760,116.5h12M781,116.5h7M799,116.5h10M823,116.5h8M846,116.5h9M869,116.5h6M889,116.5h12M908,116.5h8M655,132.0h12M674,132.0h7M693,132.0h10M716,132.0h10M739,132.0h7M759,132.0h11M780,132.0h9M802,132.0h8M819,132.0h9M837,132.0h10M856,132.0h9M877,132.0h8M897,132.0h6M921,132.0h10M945,132.0h6M664,147.5h10M683,147.5h11M702,147.5h11M724,147.5h11M744,147.5h11M767,147.5h9M786,147.5h10M810,147.5h7M827,147.5h9M849,147.5h11M868,147.5h13M887,147.5h11M904,147.5h6M922,147.5h6M943,147.5h10M961,147.5h13M981,147.5h7M655,163.0h9M674,163.0h12M692,163.0h11M709,163.0h11M729,163.0h12M747,163.0h10M767,163.0h12M790,163.0h10M809,163.0h8M828,163.0h9M846,163.0h7M869,163.0h10M888,163.0h13M906,163.0h10M924,163.0h12M947,163.0h8M970,163.0h12M989,163.0h8M1009,163.0h12M664,178.5h7M687,178.5h13M706,178.5h6M724,178.5h13M741,178.5h12M759,178.5h11M777,178.5h7M798,178.5h7M818,178.5h12M840,178.5h12M864,178.5h6M882,178.5h12M904,178.5h6M925,178.5h8M945,178.5h7M962,178.5h13M981,178.5h12M999,178.5h9M1017,178.5h9M1035,178.5h11M655,194.0h12M677,194.0h8M695,194.0h8M713,194.0h6M733,194.0h9M754,194.0h9M771,194.0h11M793,194.0h10M814,194.0h11M838,194.0h12M860,194.0h9M879,194.0h9M903,194.0h9M922,194.0h9M940,194.0h13M957,194.0h10M981,194.0h8M1002,194.0h9M1021,194.0h7M1039,194.0h12M1061,194.0h12M664,209.5h11M687,209.5h10M708,209.5h13M727,209.5h10M749,209.5h9M771,209.5h9M792,209.5h10M813,209.5h8M835,209.5h10M853,209.5h10M872,209.5h12M893,209.5h11M913,209.5h9M932,209.5h7M955,209.5h10M976,209.5h10M999,209.5h8M1017,209.5h12M1037,209.5h10M1060,209.5h12M1083,209.5h6M655,225.0h12M676,225.0h9M693,225.0h9M717,225.0h11M737,225.0h9M760,225.0h11M778,225.0h11M798,225.0h10M816,225.0h9M836,225.0h9M853,225.0h7M874,225.0h6M892,225.0h11M911,225.0h8M930,225.0h12M947,225.0h10M970,225.0h7M990,225.0h12M1012,225.0h9M1029,225.0h9M1048,225.0h11M1068,225.0h9M1089,225.0h12M1109,225.0h9M664,240.5h11M683,240.5h6M706,240.5h9M726,240.5h9M750,240.5h11M767,240.5h10M787,240.5h9M810,240.5h9M830,240.5h12M850,240.5h9M871,240.5h12M893,240.5h11M912,240.5h6M934,240.5h10M957,240.5h11M974,240.5h8M992,240.5h12M1010,240.5h7M1032,240.5h10M1049,240.5h11M1071,240.5h9M1089,240.5h11M1109,240.5h10M1133,240.5h12M1156,240.5h7M655,256.0h8M674,256.0h8M693,256.0h12M714,256.0h10M733,256.0h6M753,256.0h12M775,256.0h12M794,256.0h7M811,256.0h10M831,256.0h9M851,256.0h10M871,256.0h12M889,256.0h12M910,256.0h6M929,256.0h10M949,256.0h10M969,256.0h8M991,256.0h8M1013,256.0h12M1034,256.0h9M1058,256.0h9M1081,256.0h6M1101,256.0h10M1118,256.0h12M1136,256.0h10M1154,256.0h12M1175,256.0h12M664,271.5h8M682,271.5h12M700,271.5h12M719,271.5h7M737,271.5h11M760,271.5h9M782,271.5h8M805,271.5h11M823,271.5h6M845,271.5h6M868,271.5h8M887,271.5h10M906,271.5h10M924,271.5h12M943,271.5h12M961,271.5h12M985,271.5h9M1002,271.5h9M1024,271.5h8M1045,271.5h7M1065,271.5h11M1085,271.5h11M1103,271.5h12M1121,271.5h12M1145,271.5h13M1165,271.5h8M1185,271.5h11M1205,271.5h13M655,287.0h9M678,287.0h10M699,287.0h7M717,287.0h8M740,287.0h12M759,287.0h12M776,287.0h10M800,287.0h8M823,287.0h11M841,287.0h8M861,287.0h8M883,287.0h7M905,287.0h8M923,287.0h10M941,287.0h10M963,287.0h10M983,287.0h6M1004,287.0h7M1025,287.0h7M1047,287.0h8M1066,287.0h11M1084,287.0h7M1108,287.0h8M1131,287.0h12M1151,287.0h7M1169,287.0h12M1187,287.0h9M1207,287.0h7M664,302.5h7M685,302.5h10M704,302.5h7M724,302.5h7M742,302.5h8M765,302.5h10M788,302.5h6M812,302.5h9M835,302.5h10M856,302.5h8M879,302.5h7M897,302.5h6M917,302.5h10M936,302.5h12M954,302.5h10M972,302.5h10M995,302.5h11M1012,302.5h8M1034,302.5h13M1051,302.5h10M1073,302.5h12M1092,302.5h12M1112,302.5h12M1129,302.5h13M1149,302.5h9M1167,302.5h8M1189,302.5h11M1207,302.5h8M655,318.0h7M674,318.0h8M697,318.0h13M720,318.0h9M740,318.0h11M764,318.0h11M785,318.0h7M807,318.0h12M829,318.0h7M851,318.0h8M869,318.0h13M891,318.0h11M909,318.0h12M932,318.0h12M955,318.0h12M977,318.0h10M997,318.0h12M1020,318.0h12M1039,318.0h13M1060,318.0h13M1077,318.0h13M1100,318.0h8M1123,318.0h8M1141,318.0h9M1160,318.0h9M1183,318.0h11M1205,318.0h9M664,333.5h12M686,333.5h13M709,333.5h9M726,333.5h11M749,333.5h8M770,333.5h12M793,333.5h6M813,333.5h6M831,333.5h12M851,333.5h10M871,333.5h8M890,333.5h8M912,333.5h10M932,333.5h7M950,333.5h11M971,333.5h11M993,333.5h7M1015,333.5h6M1038,333.5h7M1057,333.5h13M1076,333.5h8M1099,333.5h10M1123,333.5h9M1143,333.5h13M1164,333.5h13M1182,333.5h12M1200,333.5h10M1217,333.5h7M655,349.0h9M678,349.0h8M697,349.0h7M718,349.0h12M739,349.0h9M762,349.0h12M784,349.0h7M805,349.0h9M829,349.0h9M850,349.0h10M870,349.0h10M892,349.0h12M912,349.0h9M936,349.0h6M959,349.0h11M980,349.0h9M1002,349.0h12M1024,349.0h11M1042,349.0h8M1059,349.0h13M1083,349.0h7M1104,349.0h10M1121,349.0h9M1143,349.0h10M1162,349.0h11M1181,349.0h10M1201,349.0h13M664,364.5h12M686,364.5h9M709,364.5h11M731,364.5h8M749,364.5h10M772,364.5h12M792,364.5h7M812,364.5h12M830,364.5h11M849,364.5h8M866,364.5h8M886,364.5h13M909,364.5h7M929,364.5h13M947,364.5h8M967,364.5h7M986,364.5h9M1006,364.5h13M1024,364.5h7M1048,364.5h9M1071,364.5h10M1093,364.5h8M1111,364.5h11M1131,364.5h10M1153,364.5h11M1172,364.5h9M1195,364.5h10M1214,364.5h10M655,380.0h11M672,380.0h12M693,380.0h8M717,380.0h8M736,380.0h6M756,380.0h11M778,380.0h9M801,380.0h7M820,380.0h11M844,380.0h10M866,380.0h11M885,380.0h13M908,380.0h8M927,380.0h12M947,380.0h7M970,380.0h10M990,380.0h11M1014,380.0h7M1033,380.0h6M1053,380.0h10M1076,380.0h11M1097,380.0h9M1118,380.0h8M1141,380.0h12M1164,380.0h7M1186,380.0h11M1206,380.0h12M664,395.5h11M687,395.5h11M710,395.5h7M732,395.5h11M753,395.5h8M771,395.5h10M793,395.5h8M812,395.5h8M830,395.5h11M853,395.5h12M873,395.5h11M890,395.5h12M910,395.5h6M931,395.5h7M950,395.5h6M970,395.5h10M993,395.5h6M1016,395.5h7M1034,395.5h10M1053,395.5h8M1074,395.5h8M1097,395.5h7M1120,395.5h12M1141,395.5h6M1163,395.5h6M1184,395.5h9M1201,395.5h10M655,411.0h10M675,411.0h10M696,411.0h8M719,411.0h13M742,411.0h13M761,411.0h13M778,411.0h9M796,411.0h9M818,411.0h11M838,411.0h8M857,411.0h9M876,411.0h7M898,411.0h10M918,411.0h7M940,411.0h7M959,411.0h10M981,411.0h13M1003,411.0h13M1026,411.0h11M1048,411.0h6M1067,411.0h6M1090,411.0h11M1111,411.0h8M1131,411.0h7M1152,411.0h13M1171,411.0h6M1189,411.0h8M1213,411.0h12M664,426.5h7M682,426.5h7M704,426.5h9M728,426.5h12M751,426.5h9M773,426.5h7M791,426.5h10M812,426.5h7M831,426.5h6M854,426.5h11M878,426.5h13M898,426.5h11M917,426.5h12M940,426.5h7M957,426.5h7M978,426.5h9M995,426.5h12M1018,426.5h9M1035,426.5h12M1056,426.5h6M1075,426.5h10M1098,426.5h9M1120,426.5h7M1139,426.5h12M1158,426.5h7M1179,426.5h7M1198,426.5h9M1219,426.5h10M655,442.0h9M672,442.0h11M690,442.0h9M710,442.0h11M732,442.0h8M753,442.0h11M773,442.0h7M797,442.0h10M814,442.0h8M838,442.0h8M858,442.0h12M881,442.0h10M903,442.0h6M921,442.0h13M943,442.0h6M961,442.0h8M984,442.0h8M1006,442.0h13M1027,442.0h12M1046,442.0h7M1063,442.0h11M1081,442.0h13M1103,442.0h7M1126,442.0h7M1146,442.0h7M1169,442.0h12M1192,442.0h6M1215,442.0h10M664,457.5h10M685,457.5h10M708,457.5h7M725,457.5h10M744,457.5h9M761,457.5h11M779,457.5h12M801,457.5h9M819,457.5h11M838,457.5h9M855,457.5h13M876,457.5h8M894,457.5h11M917,457.5h12M934,457.5h9M954,457.5h11M972,457.5h10M995,457.5h11M1013,457.5h7M1030,457.5h11M1052,457.5h10M1072,457.5h9M1093,457.5h11M1116,457.5h11M1139,457.5h12M1162,457.5h11M1179,457.5h11M1202,457.5h9M655,473.0h7M679,473.0h9M701,473.0h8M720,473.0h8M739,473.0h7M759,473.0h13M781,473.0h13M803,473.0h12M827,473.0h11M846,473.0h8M866,473.0h6M884,473.0h12M908,473.0h8M930,473.0h11M953,473.0h12M974,473.0h7M997,473.0h8M1018,473.0h9M1039,473.0h13M1057,473.0h10M1079,473.0h10M1102,473.0h9M1126,473.0h11M1149,473.0h7M1168,473.0h8M1191,473.0h6M1210,473.0h11M664,488.5h7M684,488.5h11M706,488.5h11M728,488.5h8M747,488.5h6M769,488.5h7M788,488.5h13M809,488.5h10M831,488.5h10M853,488.5h8M870,488.5h6M887,488.5h9M905,488.5h7M926,488.5h13M947,488.5h8M970,488.5h7M987,488.5h8M1007,488.5h11M1027,488.5h11M1045,488.5h13M1065,488.5h12M1082,488.5h12M1100,488.5h12M1123,488.5h11M1142,488.5h6M1160,488.5h12M1178,488.5h11M1199,488.5h11M1218,488.5h7M655,504.0h13M675,504.0h11M696,504.0h8M713,504.0h6M736,504.0h7M760,504.0h9M782,504.0h7M804,504.0h8M824,504.0h10M842,504.0h8M864,504.0h8M884,504.0h11M903,504.0h7M921,504.0h9M941,504.0h10M961,504.0h12M978,504.0h11M1001,504.0h8M1018,504.0h9M1036,504.0h9M1058,504.0h7M1076,504.0h9M1094,504.0h8M1114,504.0h7M1132,504.0h9M1152,504.0h13M1173,504.0h7M1191,504.0h11M1212,504.0h12M664,519.5h12M682,519.5h13M702,519.5h8M721,519.5h12M739,519.5h7M758,519.5h12M778,519.5h11M796,519.5h9M815,519.5h7M837,519.5h9M854,519.5h13M875,519.5h7M892,519.5h11M912,519.5h6M933,519.5h11M954,519.5h8M974,519.5h10M996,519.5h7M1018,519.5h13M1040,519.5h12M1060,519.5h12M1078,519.5h8M1099,519.5h12M1117,519.5h8M1134,519.5h9M1152,519.5h7M1174,519.5h10M1198,519.5h9M1220,519.5h6" stroke="#201000" stroke-width="2.2" stroke-opacity="0.24" clip-path="url(#clipCol)"/>
</g>
<g filter="url(#blA)">
<polygon points="24.0,256.0 41.0,241.0 62.0,208.0 89.0,160.0 116.0,111.0 141.0,84.0 162.0,70.0 243.0,50.0 325.0,27.0 384.0,18.0 446.0,12.0 523.0,12.0 583.0,18.0 639.0,33.0 693.0,47.0 748.0,59.0 829.0,79.0 883.0,92.0 925.0,105.0 960.0,120.0 1003.0,142.0 1068.0,178.0 1116.0,206.0 1176.0,235.0 1225.0,253.0 1285.0,264.0 1360.0,277.0 1400.0,283.0 1400.0,296.0 1306.0,283.0 1225.0,270.0 1170.0,253.0 1116.0,232.0 1035.0,192.0 954.0,150.0 900.0,126.0 829.0,108.0 760.0,90.0 700.0,80.0 660.0,82.0 636.0,81.0 580.0,84.0 509.0,86.0 433.0,93.0 352.0,116.0 270.0,152.0 216.0,180.0 163.0,213.0 110.0,235.0 60.0,252.0 24.0,264.0" fill="#600000" fill-opacity="0.36"/>
<polygon points="639.0,33.0 693.0,47.0 748.0,59.0 829.0,79.0 883.0,92.0 925.0,105.0 960.0,120.0 1003.0,142.0 1068.0,178.0 1116.0,206.0 1176.0,235.0 1225.0,253.0 1285.0,264.0 1360.0,277.0 1400.0,283.0 1400.0,293.0 1306.0,279.0 1225.0,264.0 1170.0,244.0 1116.0,221.0 1035.0,180.0 954.0,138.0 900.0,112.0 829.0,94.0 760.0,76.0 700.0,66.0 660.0,60.0 600.0,30.0" fill="#301000" fill-opacity="0.35"/>
<polyline points="24.0,269.0 41.0,254.0 62.0,221.0 89.0,173.0 116.0,124.0 141.0,97.0 162.0,83.0 243.0,63.0 325.0,40.0 384.0,31.0 446.0,25.0 523.0,25.0 583.0,31.0 639.0,46.0 693.0,60.0 748.0,72.0 829.0,92.0 883.0,105.0 925.0,118.0 960.0,133.0 1003.0,155.0 1068.0,191.0 1116.0,219.0 1176.0,248.0 1225.0,266.0 1285.0,277.0 1360.0,290.0 1400.0,296.0" fill="none" stroke="#400000" stroke-width="16" stroke-opacity="0.33"/>
<polyline points="24.0,265.0 41.0,250.0 62.0,217.0 89.0,169.0 116.0,120.0 141.0,93.0 162.0,79.0 243.0,59.0 325.0,36.0 384.0,27.0 446.0,21.0 523.0,21.0 583.0,27.0 639.0,42.0 693.0,56.0 748.0,68.0 829.0,88.0 883.0,101.0 925.0,114.0 960.0,129.0 1003.0,151.0 1068.0,187.0 1116.0,215.0 1176.0,244.0 1225.0,262.0 1285.0,273.0 1360.0,286.0 1400.0,292.0" fill="none" stroke="#2a0000" stroke-width="5" stroke-opacity="0.85"/>
</g>
<g filter="url(#blL)">
<polygon points="816.2,294.2 822.0,293.2 827.8,292.1 833.6,290.9 839.4,289.7 845.2,288.6 851.0,287.5 856.7,286.5 862.3,285.6 867.8,284.8 873.1,284.3 877.6,284.0 882.0,283.8 886.3,283.7 890.6,283.6 894.8,283.7 899.0,283.8 903.2,283.9 907.4,284.1 911.7,284.2 916.0,284.3 920.4,284.4 924.8,284.5 929.2,284.6 933.6,284.7 938.0,284.8 942.4,285.0 946.8,285.2 951.1,285.5 955.5,285.9 959.8,286.4 964.1,287.0 968.5,287.6 972.8,288.3 977.1,289.1 981.3,290.0 985.6,290.9 989.9,291.9 994.1,293.0 998.4,294.2 1002.6,295.4 1006.9,296.7 1011.2,298.2 1015.5,299.8 1019.8,301.4 1024.0,303.1 1028.3,304.9 1032.6,306.7 1036.8,308.6 1041.1,310.5 1045.4,312.4 1049.8,314.4 1054.3,316.5 1058.8,318.6 1063.3,320.9 1067.8,323.1 1072.2,325.4 1076.6,327.7 1080.9,330.0 1085.0,332.4 1089.0,334.7 1092.4,336.8 1095.7,338.8 1098.9,340.9 1102.0,343.0 1105.1,345.1 1108.2,347.3 1111.2,349.4 1114.2,351.7 1117.2,354.0 1120.2,356.4 1123.5,359.0 1126.9,361.7 1130.2,364.5 1133.6,367.3 1136.9,370.2 1140.2,373.1 1143.4,376.1 1146.4,379.0 1149.4,381.9 1152.2,384.8 1154.5,387.4 1156.8,389.9 1158.9,392.4 1161.0,394.9 1163.0,397.4 1165.0,400.0 1166.9,402.6 1168.7,405.2 1170.5,407.9 1172.3,410.7 1174.1,413.9 1175.9,417.1 1177.7,420.5 1179.4,424.0 1181.0,427.5 1182.6,431.1 1184.1,434.7 1185.6,438.3 1187.0,441.8 1188.4,445.3 1189.7,448.5 1190.9,451.7 1192.1,454.9 1193.2,458.2 1194.3,461.3 1195.3,464.5 1196.2,467.6 1197.0,470.6 1197.7,473.5 1198.3,476.4 1198.8,478.8 1199.3,481.0 1199.8,483.2 1200.2,485.3 1200.5,487.2 1200.7,489.1 1200.9,490.9 1200.9,492.6 1200.8,494.2 1200.6,495.8 1200.2,497.5 1199.7,499.2 1199.0,501.1 1198.1,503.0 1197.1,504.9 1196.0,507.0 1194.8,509.1 1193.5,511.3 1192.1,513.6 1190.8,515.9 1189.3,518.4 1187.8,520.9 1186.2,523.5 1184.5,526.1 1182.8,528.7 1181.0,531.4 1179.2,534.0 1177.4,536.6 1175.6,539.2 1173.7,541.8 1171.9,544.4 1170.0,547.0 1168.2,549.6 1166.3,552.1 1164.3,554.7 1162.4,557.2 1160.5,559.7 1158.5,562.2 1156.5,564.6 1154.6,567.0 1152.7,569.4 1150.8,571.7 1149.0,574.0 1147.3,576.2 1145.5,578.4 1143.8,580.4 1141.9,582.4 1140.0,584.3 1138.0,586.0 1135.8,587.7 1132.9,589.5 1129.7,591.2 1126.2,592.9 1122.5,594.4 1118.7,595.9 1114.8,597.3 1110.8,598.6 1106.8,600.0 1102.8,601.3 1098.9,602.6 1095.2,603.8 1091.5,605.0 1087.9,606.1 1084.2,607.1 1080.6,608.2 1076.9,609.2 1073.1,610.1 1069.3,611.0 1065.4,612.0 1061.4,612.8 1056.5,613.8 1051.5,614.8 1046.4,615.6 1041.1,616.5 1035.8,617.3 1030.4,618.1 1025.1,618.9 1019.8,619.6 1014.6,620.3 1009.6,621.0 1005.1,621.7 1000.8,622.3 996.4,622.8 992.1,623.4 987.9,623.9 983.7,624.5 979.4,624.9 975.2,625.4 971.0,625.8 966.8,626.3 962.6,626.6 958.4,627.0 954.2,627.3 950.0,627.6 945.8,627.9 941.6,628.1 937.5,628.4 933.3,628.6 929.1,628.8 924.9,628.9 920.7,629.1 916.5,629.2 912.4,629.4 908.2,629.5 904.0,629.6 899.8,629.6 895.6,629.7 891.4,629.7 887.2,629.7 883.0,629.6 878.8,629.6 874.5,629.5 870.1,629.3 865.8,629.2 861.5,629.0 857.1,628.8 852.8,628.6 848.6,628.4 844.3,628.1 840.2,627.8 836.3,627.5 832.4,627.2 828.5,626.9 824.7,626.5 820.9,626.1 817.1,625.7 813.3,625.3 809.6,624.9 805.9,624.5 802.3,624.0 798.9,623.6 795.7,623.2 792.5,622.7 789.3,622.3 786.1,621.8 783.0,621.4 779.8,620.9 776.7,620.3 773.5,619.8 770.4,619.2 767.1,618.5 763.8,617.8 760.4,617.0 757.1,616.3 753.7,615.5 750.4,614.7 747.1,613.8 743.8,613.0 740.6,612.1 737.5,611.3 734.6,610.6 731.8,609.8 729.1,609.0 726.3,608.3 723.6,607.5 720.9,606.7 718.3,605.9 715.7,605.1 713.1,604.3 710.5,603.4 708.1,602.7 705.7,602.1 703.4,601.6 701.1,601.1 698.8,600.5 696.7,599.9 694.6,599.1 692.6,598.2 690.7,597.2 689.0,595.9 686.9,593.8 685.0,591.4 683.2,588.6 681.4,585.5 679.7,582.3 678.1,578.8 676.5,575.3 674.8,571.9 673.1,568.5 671.2,565.3 669.3,562.2 667.4,559.2 665.5,556.2 663.6,553.2 661.6,550.2 659.7,547.3 657.8,544.3 655.9,541.3 654.0,538.3 652.2,535.3 650.4,532.3 648.6,529.2 646.8,526.1 645.0,523.1 643.3,520.0 641.5,516.9 639.9,513.8 638.2,510.7 636.7,507.6 635.2,504.4 633.8,501.4 632.5,498.4 631.3,495.3 630.1,492.2 628.9,489.1 627.8,486.0 626.7,482.9 625.5,479.8 624.4,476.7 623.2,473.6 620.8,474.4 622.0,477.5 623.1,480.6 624.3,483.8 625.4,486.9 626.5,490.0 627.7,493.1 628.9,496.2 630.1,499.4 631.4,502.5 632.8,505.6 634.3,508.7 635.9,511.9 637.5,515.0 639.2,518.2 640.9,521.3 642.7,524.4 644.4,527.5 646.2,530.6 648.0,533.6 649.8,536.7 651.6,539.8 653.5,542.8 655.4,545.8 657.3,548.8 659.3,551.8 661.2,554.8 663.1,557.7 665.0,560.7 666.9,563.7 668.8,566.7 670.5,569.9 672.2,573.2 673.8,576.6 675.5,580.1 677.1,583.6 678.8,586.9 680.6,590.2 682.6,593.1 684.7,595.8 687.0,598.1 689.1,599.7 691.2,600.9 693.5,602.0 695.7,602.8 698.0,603.5 700.3,604.1 702.6,604.7 704.9,605.2 707.2,605.8 709.5,606.6 712.1,607.4 714.7,608.2 717.3,609.1 720.0,609.9 722.7,610.7 725.4,611.5 728.1,612.3 730.9,613.1 733.7,613.9 736.5,614.7 739.7,615.5 742.9,616.4 746.2,617.3 749.5,618.1 752.9,619.0 756.2,619.8 759.6,620.6 763.0,621.4 766.3,622.1 769.6,622.8 772.8,623.5 776.0,624.1 779.2,624.6 782.4,625.2 785.5,625.7 788.7,626.2 791.9,626.6 795.2,627.1 798.4,627.5 801.7,628.0 805.4,628.5 809.1,629.0 812.8,629.4 816.6,629.9 820.4,630.3 824.2,630.7 828.1,631.1 832.0,631.5 835.9,631.9 839.8,632.2 844.0,632.5 848.3,632.8 852.6,633.1 856.9,633.3 861.3,633.6 865.6,633.8 870.0,634.0 874.3,634.1 878.7,634.3 883.0,634.4 887.2,634.5 891.4,634.5 895.6,634.5 899.9,634.5 904.1,634.5 908.3,634.4 912.5,634.4 916.7,634.3 920.9,634.2 925.1,634.1 929.3,633.9 933.5,633.8 937.7,633.6 941.9,633.4 946.1,633.2 950.3,632.9 954.6,632.7 958.8,632.4 963.0,632.1 967.2,631.7 971.5,631.4 975.8,631.0 980.0,630.6 984.3,630.1 988.6,629.6 992.8,629.1 997.2,628.6 1001.5,628.1 1005.9,627.5 1010.4,627.0 1015.4,626.3 1020.6,625.6 1025.9,624.9 1031.3,624.2 1036.7,623.5 1042.1,622.7 1047.4,621.9 1052.6,621.0 1057.7,620.1 1062.6,619.2 1066.8,618.3 1070.8,617.5 1074.7,616.6 1078.5,615.7 1082.3,614.8 1086.1,613.8 1089.8,612.8 1093.6,611.7 1097.3,610.6 1101.1,609.4 1105.0,608.2 1109.0,607.0 1113.1,605.7 1117.2,604.4 1121.3,603.1 1125.4,601.6 1129.3,600.0 1133.1,598.3 1136.8,596.4 1140.2,594.3 1142.9,592.4 1145.4,590.4 1147.8,588.3 1149.9,586.1 1152.0,583.9 1153.9,581.7 1155.8,579.5 1157.7,577.3 1159.5,575.1 1161.4,573.0 1163.6,570.6 1165.7,568.2 1167.8,565.8 1169.9,563.3 1172.0,560.8 1174.1,558.3 1176.2,555.8 1178.2,553.3 1180.3,550.7 1182.3,548.2 1184.2,545.7 1186.2,543.1 1188.2,540.5 1190.2,537.9 1192.1,535.3 1194.1,532.6 1196.0,530.0 1197.8,527.4 1199.6,524.7 1201.2,522.1 1202.6,520.0 1204.0,517.8 1205.4,515.6 1206.8,513.4 1208.2,511.1 1209.5,508.7 1210.7,506.3 1211.8,503.7 1212.7,501.0 1213.4,498.2 1213.8,495.5 1213.9,492.9 1213.9,490.3 1213.7,487.8 1213.4,485.3 1213.0,482.9 1212.5,480.6 1212.0,478.2 1211.4,475.9 1210.9,473.6 1210.1,470.5 1209.2,467.3 1208.3,464.0 1207.2,460.7 1206.1,457.4 1204.9,454.0 1203.6,450.7 1202.3,447.3 1201.0,444.0 1199.6,440.7 1198.0,437.2 1196.4,433.6 1194.7,429.9 1192.9,426.3 1191.0,422.6 1189.1,419.0 1187.1,415.4 1185.0,411.9 1182.9,408.5 1180.7,405.3 1178.7,402.3 1176.6,399.5 1174.4,396.8 1172.2,394.2 1170.0,391.6 1167.7,389.1 1165.3,386.6 1162.9,384.1 1160.4,381.7 1157.8,379.2 1154.8,376.3 1151.6,373.4 1148.3,370.6 1144.9,367.7 1141.4,364.9 1137.9,362.1 1134.3,359.4 1130.8,356.7 1127.2,354.1 1123.8,351.6 1120.5,349.4 1117.4,347.2 1114.2,345.1 1111.0,343.0 1107.8,341.0 1104.6,339.1 1101.3,337.1 1097.9,335.2 1094.5,333.3 1091.0,331.3 1086.9,329.0 1082.6,326.8 1078.2,324.5 1073.8,322.3 1069.3,320.1 1064.7,317.9 1060.2,315.8 1055.6,313.7 1051.1,311.6 1046.6,309.6 1042.3,307.7 1038.0,305.8 1033.7,304.0 1029.4,302.2 1025.1,300.4 1020.8,298.7 1016.5,297.0 1012.2,295.5 1007.8,294.0 1003.4,292.6 999.1,291.4 994.8,290.2 990.5,289.1 986.2,288.1 981.9,287.2 977.6,286.3 973.2,285.6 968.9,284.8 964.5,284.2 960.2,283.6 955.8,283.1 951.4,282.7 946.9,282.4 942.5,282.2 938.1,282.1 933.6,282.0 929.2,281.9 924.8,281.8 920.4,281.7 916.0,281.7 911.7,281.5 907.5,281.4 903.3,281.3 899.1,281.1 894.8,281.1 890.6,281.0 886.3,281.0 881.9,281.2 877.4,281.4 872.9,281.7 867.5,282.3 861.9,283.0 856.2,283.9 850.5,285.0 844.7,286.1 838.9,287.2 833.1,288.4 827.3,289.6 821.5,290.7 815.8,291.8" fill="#5a0000" fill-opacity="0.85"/>
<polygon points="816.2,294.2 822.0,293.2 827.8,292.1 833.6,290.9 839.4,289.7 845.2,288.6 851.0,287.5 856.7,286.5 862.3,285.6 867.8,284.8 873.1,284.3 877.6,284.0 882.0,283.8 886.3,283.7 890.6,283.6 894.8,283.7 899.0,283.8 903.2,283.9 907.4,284.1 911.7,284.2 916.0,284.3 920.4,284.4 924.8,284.5 929.2,284.6 933.6,284.7 938.0,284.8 942.4,285.0 946.8,285.2 951.1,285.5 955.5,285.9 959.8,286.4 964.1,287.0 968.5,287.6 972.8,288.3 977.1,289.1 981.3,290.0 985.6,290.9 989.9,291.9 994.1,293.0 998.4,294.2 1002.6,295.4 1006.9,296.7 1011.2,298.2 1015.5,299.8 1019.8,301.4 1024.0,303.1 1028.3,304.9 1032.6,306.7 1036.8,308.6 1041.1,310.5 1045.4,312.4 1049.8,314.4 1054.3,316.5 1058.8,318.7 1063.3,320.9 1067.8,323.1 1072.2,325.4 1076.6,327.7 1080.8,330.1 1085.0,332.4 1089.0,334.7 1092.4,336.8 1095.7,338.9 1098.9,341.0 1102.0,343.0 1105.1,345.2 1108.1,347.3 1111.1,349.5 1114.1,351.7 1117.2,354.0 1120.2,356.4 1123.5,359.0 1126.8,361.7 1130.2,364.5 1133.6,367.4 1136.9,370.2 1140.1,373.2 1143.3,376.1 1146.4,379.0 1149.3,381.9 1152.1,384.9 1154.5,387.4 1156.7,389.9 1158.9,392.4 1161.0,394.9 1163.0,397.5 1165.0,400.0 1166.8,402.6 1168.7,405.2 1170.5,408.0 1172.2,410.8 1174.1,413.9 1175.9,417.2 1177.6,420.5 1179.3,424.0 1181.0,427.5 1182.6,431.1 1184.1,434.7 1185.6,438.3 1187.0,441.8 1188.4,445.3 1189.7,448.5 1190.9,451.7 1192.1,454.9 1193.2,458.2 1194.2,461.4 1195.2,464.5 1196.1,467.6 1197.0,470.6 1197.7,473.6 1198.3,476.4 1198.8,478.8 1199.3,481.0 1199.8,483.2 1200.2,485.3 1200.5,487.2 1200.7,489.1 1200.9,490.9 1200.9,492.6 1200.8,494.2 1200.6,495.8 1200.2,497.5 1199.7,499.2 1199.0,501.1 1198.2,503.0 1197.2,505.0 1196.0,507.0 1194.8,509.1 1193.5,511.3 1192.2,513.6 1190.8,515.9 1189.4,518.4 1187.9,521.0 1186.3,523.5 1184.6,526.1 1182.9,528.8 1181.1,531.4 1179.3,534.0 1177.5,536.7 1175.6,539.3 1173.8,541.9 1172.0,544.4 1170.1,547.0 1168.2,549.6 1166.3,552.2 1164.4,554.7 1162.5,557.3 1160.5,559.8 1158.6,562.2 1156.6,564.7 1154.6,567.1 1152.7,569.4 1150.9,571.7 1149.1,574.0 1147.3,576.2 1145.6,578.4 1143.8,580.4 1142.0,582.4 1140.0,584.3 1138.0,586.1 1135.8,587.7 1132.9,589.7 1129.8,591.4 1126.3,593.1 1122.7,594.8 1118.9,596.3 1114.9,597.8 1111.0,599.2 1107.0,600.5 1103.0,601.9 1099.1,603.3 1095.4,604.6 1091.8,605.8 1088.1,607.0 1084.5,608.1 1080.8,609.2 1077.2,610.2 1073.4,611.3 1069.6,612.3 1065.6,613.2 1061.6,614.1 1056.8,615.2 1051.8,616.1 1046.6,617.1 1041.3,618.0 1036.0,618.9 1030.7,619.7 1025.3,620.5 1020.0,621.3 1014.9,622.1 1009.8,622.8 1005.4,623.5 1001.0,624.1 996.7,624.7 992.4,625.3 988.1,625.9 983.9,626.5 979.7,627.0 975.4,627.5 971.2,628.0 967.0,628.5 962.7,628.9 958.5,629.3 954.3,629.6 950.2,629.9 946.0,630.3 941.8,630.5 937.6,630.8 933.4,631.1 929.2,631.3 925.0,631.5 925.0,631.5 929.2,631.4 933.4,631.3 937.6,631.1 941.8,631.0 946.0,630.8 950.2,630.6 954.4,630.4 958.6,630.1 962.8,629.8 967.0,629.5 971.3,629.2 975.6,628.9 979.8,628.5 984.1,628.1 988.3,627.7 992.6,627.2 996.9,626.7 1001.3,626.2 1005.7,625.7 1010.2,625.2 1015.2,624.6 1020.4,624.0 1025.7,623.3 1031.1,622.6 1036.5,621.9 1041.8,621.2 1047.2,620.4 1052.4,619.6 1057.5,618.8 1062.4,617.9 1066.5,617.1 1070.5,616.3 1074.4,615.5 1078.2,614.6 1082.0,613.8 1085.8,612.8 1089.6,611.9 1093.3,610.9 1097.1,609.8 1100.9,608.7 1104.8,607.6 1108.8,606.4 1112.9,605.2 1117.0,604.0 1121.2,602.7 1125.2,601.3 1129.2,599.7 1133.0,598.1 1136.7,596.3 1140.2,594.3 1142.9,592.4 1145.4,590.4 1147.7,588.3 1149.9,586.1 1151.9,583.9 1153.9,581.7 1155.8,579.5 1157.6,577.3 1159.5,575.1 1161.4,572.9 1163.5,570.6 1165.6,568.2 1167.8,565.7 1169.9,563.3 1172.0,560.8 1174.1,558.3 1176.1,555.7 1178.2,553.2 1180.2,550.7 1182.2,548.1 1184.2,545.6 1186.2,543.1 1188.2,540.5 1190.1,537.9 1192.1,535.2 1194.0,532.6 1195.9,530.0 1197.7,527.3 1199.5,524.7 1201.2,522.1 1202.5,519.9 1203.9,517.8 1205.3,515.6 1206.8,513.4 1208.1,511.1 1209.5,508.7 1210.7,506.3 1211.8,503.7 1212.7,501.0 1213.4,498.2 1213.8,495.5 1213.9,492.9 1213.9,490.3 1213.7,487.8 1213.4,485.3 1213.0,482.9 1212.5,480.6 1212.0,478.2 1211.5,475.9 1210.9,473.6 1210.1,470.5 1209.3,467.3 1208.3,464.0 1207.2,460.7 1206.1,457.4 1204.9,454.0 1203.6,450.7 1202.3,447.3 1201.0,444.0 1199.6,440.7 1198.1,437.1 1196.4,433.5 1194.7,429.9 1192.9,426.3 1191.1,422.6 1189.1,419.0 1187.1,415.4 1185.1,411.9 1183.0,408.5 1180.8,405.2 1178.7,402.3 1176.6,399.5 1174.4,396.8 1172.3,394.2 1170.0,391.6 1167.7,389.1 1165.4,386.6 1162.9,384.1 1160.5,381.6 1157.9,379.1 1154.8,376.3 1151.6,373.4 1148.3,370.5 1144.9,367.7 1141.4,364.8 1137.9,362.1 1134.3,359.3 1130.8,356.7 1127.3,354.1 1123.8,351.6 1120.6,349.3 1117.4,347.2 1114.2,345.1 1111.0,343.0 1107.8,341.0 1104.6,339.0 1101.3,337.1 1097.9,335.2 1094.5,333.2 1091.0,331.3 1086.9,329.0 1082.6,326.8 1078.3,324.5 1073.8,322.3 1069.3,320.1 1064.7,317.9 1060.2,315.8 1055.6,313.7 1051.1,311.6 1046.6,309.6 1042.3,307.7 1038.0,305.8 1033.7,304.0 1029.4,302.2 1025.1,300.4 1020.8,298.7 1016.5,297.0 1012.2,295.5 1007.8,294.0 1003.4,292.6 999.1,291.4 994.8,290.2 990.5,289.1 986.2,288.1 981.9,287.2 977.6,286.3 973.2,285.6 968.9,284.8 964.5,284.2 960.2,283.6 955.8,283.1 951.4,282.7 946.9,282.4 942.5,282.2 938.1,282.1 933.6,282.0 929.2,281.9 924.8,281.8 920.4,281.7 916.0,281.7 911.7,281.5 907.5,281.4 903.3,281.3 899.1,281.1 894.8,281.1 890.6,281.0 886.3,281.0 881.9,281.1 877.4,281.4 872.9,281.7 867.5,282.3 861.9,283.0 856.2,283.9 850.5,285.0 844.7,286.1 838.9,287.2 833.1,288.4 827.3,289.6 821.5,290.7 815.8,291.8" fill="#1c0a00" fill-opacity="0.85"/>
</g>
</g>
<g clip-path="url(#clipB)">
<polygon points="100.0,1100.0 1370.0,1100.0 1370.0,1890.0 100.0,1890.0" fill="#ee0000" />
<g clip-path="url(#clipBfront)"><g filter="url(#blA)">
<polygon points="437.0,1229.0 430.8,1230.4 425.2,1232.1 420.0,1234.3 415.3,1237.1 411.0,1241.0 406.1,1248.5 402.4,1258.3 399.2,1269.2 395.9,1279.8 392.0,1289.0 387.6,1295.1 382.2,1300.6 377.1,1305.8 373.3,1310.8 372.0,1316.0 374.0,1321.4 378.7,1326.5 384.8,1331.7 391.3,1337.1 397.0,1343.0 403.0,1351.1 409.3,1360.4 415.4,1369.7 420.8,1378.3 425.0,1385.0 426.5,1387.3 427.6,1389.0 428.6,1390.6 429.7,1392.5 431.0,1395.0 435.2,1404.4 440.2,1417.3 445.8,1431.7 451.8,1445.9 458.0,1458.0 463.2,1465.9 468.8,1473.0 474.5,1479.6 480.0,1486.2 485.0,1493.0 489.4,1499.5 493.6,1505.9 497.5,1512.4 501.0,1519.0 504.0,1526.0 506.4,1533.4 508.0,1541.1 509.3,1548.9 510.6,1557.2 512.0,1566.0 514.0,1578.9 515.7,1593.2 517.7,1607.8 520.0,1621.8 523.0,1634.0 525.8,1641.8 528.9,1649.0 532.3,1655.7 535.7,1661.7 539.0,1667.0 541.0,1670.3 542.8,1673.3 544.7,1676.0 547.0,1678.3 550.0,1680.0 556.8,1681.2 565.4,1680.6 575.0,1679.1 584.5,1677.4 593.0,1676.0 598.9,1675.3 604.4,1674.7 609.7,1674.0 614.9,1673.1 620.0,1672.0 624.4,1670.5 628.5,1668.5 632.5,1666.6 636.9,1664.9 642.0,1664.0 651.2,1664.3 661.5,1666.2 672.9,1669.1 685.7,1672.2 700.0,1675.0 732.3,1680.0 771.3,1685.8 814.2,1691.5 858.0,1696.5 900.0,1700.0 941.5,1702.7 984.6,1705.1 1027.0,1706.2 1066.2,1704.8 1100.0,1700.0 1119.7,1692.9 1138.2,1682.6 1154.8,1672.2 1168.6,1664.3 1179.0,1662.0 1182.2,1663.1 1184.8,1665.0 1186.9,1667.5 1188.6,1670.3 1190.0,1673.0 1191.1,1675.7 1191.8,1678.6 1192.2,1681.6 1192.2,1684.8 1192.0,1688.0 1191.0,1692.1 1189.3,1696.4 1187.2,1700.8 1185.3,1705.3 1184.0,1710.0 1183.0,1715.6 1182.1,1721.6 1181.6,1727.6 1182.1,1733.2 1184.0,1738.0 1188.1,1742.1 1194.1,1745.3 1201.1,1748.0 1208.7,1750.4 1216.0,1753.0 1224.3,1756.3 1233.0,1759.7 1242.0,1762.9 1251.0,1765.7 1260.0,1768.0 1268.5,1769.5 1276.9,1770.4 1285.3,1771.0 1294.0,1771.4 1303.0,1772.0 1314.6,1773.8 1327.4,1776.7 1340.1,1779.0 1351.4,1779.0 1360.0,1775.0 1368.2,1757.5 1372.2,1729.1 1372.1,1696.4 1368.0,1666.2 1360.0,1645.0 1351.3,1637.2 1339.7,1632.6 1326.7,1629.6 1314.0,1626.9 1303.0,1623.0 1295.6,1619.1 1288.7,1615.1 1282.3,1611.0 1276.1,1606.3 1270.0,1601.0 1262.8,1593.7 1255.7,1585.5 1249.0,1576.6 1242.9,1567.4 1238.0,1558.0 1233.5,1548.2 1229.1,1537.4 1225.9,1526.7 1224.8,1517.2 1227.0,1510.0 1237.5,1505.9 1255.3,1505.7 1275.2,1507.1 1291.8,1507.6 1300.0,1505.0 1299.7,1501.1 1296.5,1496.3 1291.4,1490.9 1285.2,1485.1 1279.0,1479.0 1266.5,1466.8 1251.0,1452.6 1233.6,1437.7 1215.6,1423.5 1198.0,1411.0 1182.3,1401.2 1166.4,1392.3 1150.2,1384.2 1133.5,1376.9 1116.0,1370.0 1095.6,1363.1 1074.1,1356.9 1052.0,1351.5 1029.8,1346.9 1008.0,1343.0 987.3,1340.5 966.5,1339.2 945.8,1338.3 925.6,1337.2 906.0,1335.0 889.0,1332.4 872.6,1329.6 856.5,1326.3 840.7,1321.9 825.0,1316.0 808.3,1307.1 792.0,1295.8 775.8,1283.6 759.6,1271.9 743.0,1262.0 727.1,1254.3 711.0,1247.2 694.8,1241.0 678.5,1235.9 662.0,1232.0 645.8,1229.8 629.4,1229.2 612.9,1229.4 596.4,1229.8 580.0,1230.0 563.8,1229.9 547.5,1229.9 531.3,1230.0 515.4,1230.0 500.0,1230.0 486.5,1229.5 472.9,1228.6 459.7,1227.8 447.6,1227.8" fill="#f23500" />
<polygon points="570.0,1305.0 566.4,1311.6 564.9,1319.9 564.8,1329.4 565.5,1339.6 566.0,1350.0 566.9,1364.8 568.7,1381.1 571.2,1398.0 574.1,1414.9 577.0,1431.0 579.9,1445.0 583.2,1458.7 586.7,1472.1 590.0,1485.5 593.0,1499.0 595.5,1512.5 597.7,1526.2 599.7,1539.7 601.8,1553.1 604.0,1566.0 606.0,1577.5 608.1,1589.1 610.2,1600.3 612.4,1610.7 615.0,1620.0 616.9,1625.8 618.9,1631.2 621.0,1636.1 623.3,1640.7 626.0,1645.0 628.4,1648.5 630.7,1651.6 633.4,1654.5 637.0,1657.3 642.0,1660.0 673.3,1669.0 722.1,1677.1 781.0,1683.6 842.7,1688.1 900.0,1690.0 960.9,1690.5 1028.4,1689.9 1093.2,1686.2 1146.4,1677.5 1179.0,1662.0 1185.3,1651.6 1187.3,1639.3 1186.6,1626.1 1185.0,1613.0 1184.0,1601.0 1183.9,1591.8 1183.6,1582.9 1182.9,1574.3 1181.8,1566.0 1180.0,1558.0 1177.7,1551.1 1174.8,1544.5 1171.6,1538.2 1168.3,1532.0 1165.0,1526.0 1161.3,1520.3 1156.7,1514.6 1152.5,1509.0 1149.8,1504.1 1150.0,1500.0 1164.6,1496.3 1193.7,1497.4 1227.6,1500.0 1256.3,1501.3 1270.0,1498.0 1269.5,1493.7 1265.5,1488.4 1259.3,1482.4 1252.1,1476.2 1245.0,1470.0 1234.3,1460.7 1222.0,1450.7 1208.5,1440.6 1194.3,1430.8 1180.0,1422.0 1164.9,1413.9 1149.3,1406.4 1133.2,1399.5 1116.7,1393.1 1100.0,1387.0 1082.3,1381.0 1064.1,1375.4 1045.7,1370.3 1026.9,1365.8 1008.0,1362.0 988.0,1359.2 967.7,1357.5 947.2,1356.2 926.6,1354.6 906.0,1352.0 884.8,1348.1 863.5,1343.5 842.2,1338.5 821.0,1333.2 800.0,1328.0 779.6,1322.7 759.3,1316.9 739.1,1311.1 719.3,1306.0 700.0,1302.0 683.2,1299.3 666.5,1297.1 650.3,1295.5 634.6,1294.8 620.0,1295.0 608.5,1295.5 596.9,1296.1 586.0,1297.5 576.8,1300.3" fill="#f26b00" />
<polygon points="640.0,1325.0 635.6,1330.7 633.1,1338.0 631.8,1346.4 631.3,1355.6 631.0,1365.0 631.4,1379.7 633.4,1396.3 636.3,1413.7 639.3,1430.3 642.0,1445.0 643.6,1453.8 645.1,1461.7 646.7,1469.2 648.3,1476.8 650.0,1485.0 652.3,1495.3 654.9,1506.0 657.5,1517.0 659.7,1528.0 661.0,1539.0 661.4,1549.9 661.1,1560.9 660.3,1571.9 659.2,1582.7 658.0,1593.0 656.5,1601.8 654.6,1610.3 652.6,1618.7 650.9,1626.6 650.0,1634.0 649.4,1639.3 648.6,1644.4 648.3,1649.3 649.2,1653.8 652.0,1658.0 677.9,1668.5 724.3,1675.0 782.5,1678.5 844.0,1679.9 900.0,1680.0 958.1,1680.2 1022.3,1679.8 1083.9,1676.8 1134.4,1669.2 1165.0,1655.0 1170.6,1645.6 1172.3,1634.5 1171.6,1622.7 1170.0,1610.9 1169.0,1600.0 1168.9,1591.5 1168.5,1583.3 1167.9,1575.3 1166.8,1567.6 1165.0,1560.0 1162.5,1552.8 1159.4,1545.9 1155.9,1539.1 1152.0,1532.5 1148.0,1526.0 1142.7,1519.4 1136.1,1512.8 1129.8,1506.4 1125.5,1500.7 1125.0,1496.0 1139.3,1492.1 1168.6,1492.8 1202.8,1495.0 1231.6,1495.7 1245.0,1492.0 1241.7,1484.5 1230.3,1474.4 1214.0,1463.1 1196.1,1451.8 1180.0,1442.0 1165.0,1433.2 1149.5,1425.0 1133.5,1417.4 1117.0,1410.4 1100.0,1404.0 1080.9,1397.9 1061.1,1392.8 1040.7,1388.2 1020.3,1384.0 1000.0,1380.0 980.0,1376.4 960.0,1373.4 940.0,1370.6 920.0,1367.6 900.0,1364.0 880.0,1359.6 860.0,1354.8 840.0,1349.7 820.0,1344.7 800.0,1340.0 779.6,1335.3 758.8,1330.3 738.2,1325.7 718.4,1322.0 700.0,1320.0 686.2,1319.1 672.4,1318.4 659.4,1318.7 648.3,1320.7" fill="#f2b000" />
<polygon points="1000.0,1440.0 1009.5,1438.4 1021.2,1440.2 1034.2,1444.3 1047.5,1449.6 1060.0,1455.0 1073.7,1461.5 1088.0,1469.5 1101.8,1478.2 1114.5,1487.3 1125.0,1496.0 1130.9,1501.9 1135.8,1507.7 1140.1,1513.7 1144.1,1519.7 1148.0,1526.0 1152.0,1532.5 1155.9,1539.1 1159.4,1545.9 1162.5,1552.8 1165.0,1560.0 1166.8,1567.6 1167.9,1575.3 1168.5,1583.3 1168.9,1591.5 1169.0,1600.0 1169.3,1612.0 1169.7,1626.0 1169.5,1639.6 1168.1,1650.1 1165.0,1655.0 1158.8,1651.8 1150.1,1641.5 1140.1,1627.2 1129.7,1612.3 1120.0,1600.0 1112.2,1591.2 1104.5,1582.7 1096.7,1574.5 1088.7,1566.9 1080.0,1560.0 1070.5,1553.8 1060.2,1548.3 1049.7,1543.3 1039.4,1538.9 1030.0,1535.0 1023.4,1532.9 1016.9,1531.6 1010.8,1530.3 1005.1,1528.4 1000.0,1525.0 994.1,1518.3 988.6,1509.5 984.0,1499.5 981.0,1489.4 980.0,1480.0 981.1,1471.0 983.9,1461.5 988.1,1452.4 993.6,1444.9" fill="#f09810" />
</g></g>
<g clip-path="url(#clipBtop)">
<rect x="100" y="1119" width="1260" height="400" fill="url(#dkB)"/>
<g filter="url(#blD)">
<path d="M109.0,1195.0C140.8,1191.2 234.8,1176.5 300.0,1172.0C365.2,1167.5 433.3,1166.3 500.0,1168.0C566.7,1169.7 633.3,1172.5 700.0,1182.0C766.7,1191.5 833.3,1207.8 900.0,1225.0C966.7,1242.2 1024.0,1267.5 1100.0,1285.0C1176.0,1302.5 1313.3,1322.5 1356.0,1330.0" fill="none" stroke="#200000" stroke-width="24" stroke-opacity="0.30"/>
<polygon points="1000.0,1280.0 1100.0,1290.0 1360.0,1330.0 1360.0,1520.0 1300.0,1512.0 1270.0,1470.0 1198.0,1400.0 1116.0,1358.0" fill="#200000" fill-opacity="0.22"/>
</g>
<g filter="url(#blC)">
<polygon points="437.0,1229.0 430.8,1230.4 425.2,1232.1 420.0,1234.3 415.3,1237.1 411.0,1241.0 406.1,1248.5 402.4,1258.3 399.2,1269.2 395.9,1279.8 392.0,1289.0 387.6,1295.1 382.2,1300.6 377.1,1305.8 373.3,1310.8 372.0,1316.0 374.0,1321.3 378.7,1326.3 384.9,1331.4 391.4,1336.8 397.0,1343.0 401.9,1352.7 405.7,1364.0 409.8,1375.7 415.7,1386.5 425.0,1395.0 454.1,1403.4 494.8,1404.5 542.4,1401.8 592.4,1399.1 640.0,1400.0 690.7,1405.3 742.8,1412.3 795.7,1420.7 848.3,1430.0 900.0,1440.0 950.0,1451.4 1000.0,1464.7 1049.4,1478.3 1097.3,1490.6 1143.0,1500.0 1182.9,1506.7 1226.0,1513.4 1265.7,1518.2 1295.9,1519.4 1310.0,1515.0 1309.4,1509.9 1304.5,1503.2 1296.7,1495.4 1287.7,1487.2 1279.0,1479.0 1265.6,1466.1 1249.9,1451.8 1232.9,1437.2 1215.3,1423.3 1198.0,1411.0 1182.3,1401.2 1166.4,1392.3 1150.2,1384.2 1133.5,1376.9 1116.0,1370.0 1095.6,1363.1 1074.1,1356.9 1052.0,1351.5 1029.8,1346.9 1008.0,1343.0 987.3,1340.5 966.5,1339.2 945.8,1338.3 925.6,1337.2 906.0,1335.0 889.0,1332.4 872.6,1329.6 856.5,1326.3 840.7,1321.9 825.0,1316.0 808.3,1307.1 792.0,1295.8 775.8,1283.6 759.6,1271.9 743.0,1262.0 727.1,1254.3 711.0,1247.2 694.8,1241.0 678.5,1235.9 662.0,1232.0 645.8,1229.8 629.4,1229.2 612.9,1229.4 596.4,1229.8 580.0,1230.0 563.8,1229.9 547.5,1229.9 531.3,1230.0 515.4,1230.0 500.0,1230.0 486.5,1229.5 472.9,1228.6 459.7,1227.8 447.6,1227.8" fill="#d02d00" />
<polygon points="445.0,1238.0 439.1,1239.5 433.7,1241.2 428.7,1243.4 424.2,1246.3 420.0,1250.0 415.4,1256.7 411.8,1265.3 408.6,1274.7 405.5,1284.0 402.0,1292.0 398.3,1297.3 394.1,1302.2 390.0,1306.8 387.0,1311.3 386.0,1316.0 387.8,1321.2 391.9,1326.2 397.3,1331.3 403.0,1336.9 408.0,1343.0 412.6,1352.7 416.2,1364.1 420.1,1375.8 425.9,1386.5 435.0,1395.0 462.7,1403.2 501.4,1404.3 546.7,1401.7 594.3,1399.1 640.0,1400.0 690.3,1405.3 742.4,1412.3 795.4,1420.7 848.2,1430.0 900.0,1440.0 950.5,1451.7 1001.6,1465.5 1051.7,1479.5 1099.4,1491.6 1143.0,1500.0 1174.4,1504.2 1207.3,1507.9 1237.1,1510.0 1259.5,1509.4 1270.0,1505.0 1269.3,1500.1 1264.5,1493.8 1257.0,1486.6 1248.4,1479.1 1240.0,1472.0 1228.3,1462.5 1214.8,1452.6 1200.2,1442.9 1185.1,1433.5 1170.0,1425.0 1154.7,1417.3 1139.0,1410.4 1122.9,1403.9 1106.6,1397.9 1090.0,1392.0 1072.5,1386.1 1054.7,1380.4 1036.6,1375.1 1018.3,1370.3 1000.0,1366.0 981.4,1362.5 962.5,1359.9 943.6,1357.6 924.7,1355.1 906.0,1352.0 887.5,1348.6 868.8,1345.3 850.4,1341.5 832.4,1336.6 815.0,1330.0 798.2,1320.8 782.2,1309.4 766.5,1297.1 750.9,1285.3 735.0,1275.0 720.2,1266.9 705.4,1259.2 690.5,1252.3 675.4,1246.5 660.0,1242.0 644.4,1239.3 628.4,1238.2 612.3,1237.9 596.1,1238.1 580.0,1238.0 563.8,1237.7 547.3,1237.7 530.9,1237.8 515.0,1237.9 500.0,1238.0 488.0,1237.7 476.1,1237.1 464.8,1236.6 454.4,1236.7" fill="#e16300" />
<polygon points="590.0,1300.0 586.2,1305.8 584.4,1313.4 583.9,1322.0 584.3,1331.1 585.0,1340.0 586.0,1351.3 587.7,1364.0 590.4,1376.4 594.4,1387.3 600.0,1395.0 605.8,1398.3 612.5,1399.4 620.3,1399.4 629.4,1399.2 640.0,1400.0 677.7,1405.1 728.2,1412.1 785.9,1420.6 845.1,1430.0 900.0,1440.0 951.0,1451.9 1003.1,1466.2 1054.0,1480.6 1101.4,1492.7 1143.0,1500.0 1167.8,1502.5 1193.0,1504.2 1215.5,1504.5 1232.2,1502.7 1240.0,1498.0 1237.3,1490.2 1226.9,1479.5 1211.9,1467.3 1195.3,1455.3 1180.0,1445.0 1165.3,1436.2 1149.8,1428.2 1133.7,1421.0 1117.0,1414.3 1100.0,1408.0 1080.9,1401.7 1061.1,1396.1 1040.7,1391.0 1020.3,1386.3 1000.0,1382.0 980.1,1378.3 960.1,1375.1 940.0,1372.3 920.0,1369.4 900.0,1366.0 879.8,1362.3 859.3,1358.5 839.0,1354.5 819.2,1350.1 800.0,1345.0 783.2,1339.5 767.0,1333.3 751.2,1326.9 735.5,1320.6 720.0,1315.0 705.7,1310.1 691.5,1305.2 677.5,1300.7 663.7,1297.2 650.0,1295.0 636.8,1293.8 622.9,1293.1 609.6,1293.5 598.2,1295.6" fill="#e59800" />
</g>
</g>
<g filter="url(#blC)">
<polygon points="700.0,1338.0 696.8,1341.9 695.1,1346.7 694.3,1352.3 693.8,1358.5 693.0,1365.0 691.3,1376.4 689.7,1389.6 688.5,1403.7 687.8,1417.8 688.0,1431.0 689.4,1442.3 691.9,1453.3 694.7,1464.0 697.0,1474.6 698.0,1485.0 697.6,1494.2 696.3,1503.2 694.5,1512.1 692.3,1521.0 690.0,1530.0 687.1,1540.0 683.7,1550.1 680.1,1560.3 676.7,1570.3 674.0,1580.0 672.1,1588.3 670.4,1596.4 669.0,1604.4 668.2,1612.2 668.0,1620.0 668.2,1628.1 668.7,1637.0 669.9,1645.3 671.8,1651.8 675.0,1655.0 682.9,1652.1 694.2,1642.1 706.9,1628.0 719.5,1613.0 730.0,1600.0 736.7,1590.7 742.5,1581.3 747.8,1571.9 753.5,1563.1 760.0,1555.0 767.4,1548.1 775.5,1542.0 783.9,1536.2 792.2,1530.7 800.0,1525.0 806.6,1520.0 813.3,1515.3 819.7,1510.6 825.4,1505.5 830.0,1500.0 832.9,1494.4 834.8,1488.4 836.2,1482.2 837.7,1476.0 840.0,1470.0 843.0,1463.6 846.2,1456.9 849.9,1450.5 854.4,1444.7 860.0,1440.0 869.4,1435.6 880.8,1432.6 893.5,1430.9 906.8,1430.1 920.0,1430.0 935.3,1431.1 951.2,1433.7 967.5,1437.3 983.9,1441.2 1000.0,1445.0 1016.2,1448.7 1032.6,1452.8 1048.9,1457.0 1064.7,1461.1 1080.0,1465.0 1092.7,1468.2 1105.0,1471.4 1117.0,1474.5 1128.7,1477.4 1140.0,1480.0 1150.7,1482.5 1162.2,1485.4 1173.0,1487.8 1181.2,1489.0 1185.0,1488.0 1183.1,1483.7 1176.2,1476.8 1166.0,1468.3 1154.4,1459.7 1143.0,1452.0 1127.1,1442.9 1109.1,1434.0 1089.6,1425.5 1069.6,1417.5 1050.0,1410.0 1030.4,1403.2 1010.4,1397.0 990.3,1391.3 970.1,1385.7 950.0,1380.0 929.9,1374.1 909.8,1368.2 889.7,1362.4 869.7,1356.9 850.0,1352.0 831.5,1347.7 812.9,1343.5 794.6,1339.7 776.8,1336.8 760.0,1335.0 746.3,1333.9 732.3,1333.0 719.2,1332.9 708.0,1334.4" fill="#e8e800" />
<polygon points="715.0,1335.0 709.5,1340.9 705.6,1348.5 703.0,1357.2 701.2,1366.3 700.0,1375.0 699.5,1383.9 699.9,1393.2 701.1,1402.5 702.9,1411.5 705.0,1420.0 707.0,1427.2 709.1,1434.2 711.8,1440.9 715.3,1446.9 720.0,1452.0 727.8,1456.8 737.5,1460.3 748.3,1462.8 759.4,1464.3 770.0,1465.0 780.1,1464.6 790.3,1463.1 800.5,1460.7 810.4,1457.9 820.0,1455.0 828.2,1451.9 835.8,1448.2 843.3,1444.4 851.2,1440.8 860.0,1438.0 872.6,1435.4 886.5,1433.5 901.0,1432.3 915.7,1431.8 930.0,1432.0 944.1,1433.2 958.2,1435.4 972.3,1438.1 986.3,1441.1 1000.0,1444.0 1012.7,1446.6 1025.1,1449.2 1037.4,1452.0 1049.7,1454.9 1062.0,1458.0 1074.7,1461.5 1087.5,1465.2 1100.3,1469.0 1112.8,1472.7 1125.0,1476.0 1136.6,1479.3 1149.1,1483.1 1160.8,1486.4 1170.0,1488.1 1175.0,1487.0 1175.5,1484.3 1174.2,1480.2 1171.7,1475.5 1168.5,1470.5 1165.0,1466.0 1159.1,1459.9 1151.8,1453.8 1143.3,1447.8 1134.3,1441.9 1125.0,1436.0 1113.2,1428.9 1100.4,1421.9 1087.0,1414.9 1073.4,1408.3 1060.0,1402.0 1047.3,1396.3 1034.6,1390.9 1021.9,1385.7 1008.7,1380.8 995.0,1376.0 978.2,1370.7 960.4,1365.6 942.2,1360.8 924.5,1356.2 908.0,1352.0 895.8,1348.8 884.3,1345.7 873.1,1342.9 861.8,1340.3 850.0,1338.0 836.4,1335.7 822.4,1333.6 808.2,1331.9 794.0,1330.6 780.0,1330.0 766.0,1329.4 751.4,1328.7 737.2,1328.9 724.7,1330.7" fill="#b8e400" />
</g>
<g filter="url(#blA)">
<polygon points="750.0,1340.0 746.5,1345.1 744.3,1352.1 743.4,1360.1 743.6,1368.0 745.0,1375.0 747.9,1381.2 752.2,1387.3 757.6,1392.8 763.7,1397.8 770.0,1402.0 777.1,1405.3 784.8,1407.8 793.1,1409.5 801.6,1410.8 810.0,1412.0 818.9,1412.9 828.0,1413.4 837.2,1413.5 846.6,1413.6 856.0,1414.0 866.0,1414.6 875.9,1415.2 886.1,1415.9 896.7,1416.8 908.0,1418.0 924.2,1419.9 941.9,1422.2 960.1,1424.9 978.1,1427.8 995.0,1431.0 1008.7,1434.0 1021.8,1437.2 1034.5,1440.6 1047.2,1444.2 1060.0,1448.0 1073.3,1452.2 1086.7,1456.8 1100.0,1461.4 1112.8,1465.9 1125.0,1470.0 1135.3,1473.6 1146.4,1477.7 1156.6,1481.3 1164.3,1483.4 1168.0,1483.0 1166.0,1478.3 1158.7,1470.1 1148.1,1459.9 1136.2,1449.6 1125.0,1441.0 1113.2,1433.4 1100.4,1426.5 1087.0,1420.1 1073.4,1414.0 1060.0,1408.0 1047.3,1402.2 1034.6,1396.5 1021.9,1391.1 1008.7,1385.9 995.0,1381.0 978.2,1375.8 960.4,1370.9 942.2,1366.3 924.5,1362.0 908.0,1358.0 895.7,1355.0 884.1,1352.1 872.8,1349.5 861.5,1347.1 850.0,1345.0 837.9,1343.0 825.5,1341.3 813.2,1339.8 801.3,1338.6 790.0,1338.0 780.9,1337.4 771.7,1336.6 763.0,1336.3 755.6,1337.2" fill="#58c800" />
<polygon points="790.0,1347.0 786.4,1350.6 783.8,1355.6 782.2,1361.2 781.6,1367.0 782.0,1372.0 783.7,1376.5 786.6,1381.0 790.4,1385.1 795.0,1388.9 800.0,1392.0 808.1,1395.0 817.7,1396.8 828.3,1397.9 839.3,1398.8 850.0,1400.0 861.1,1401.6 872.3,1403.1 883.7,1404.7 895.6,1406.3 908.0,1408.0 924.5,1410.2 942.2,1412.6 960.3,1415.1 978.2,1417.8 995.0,1421.0 1008.7,1424.1 1021.8,1427.5 1034.6,1431.1 1047.2,1434.9 1060.0,1439.0 1073.4,1443.5 1087.1,1448.5 1100.6,1453.6 1113.4,1458.5 1125.0,1463.0 1133.3,1466.4 1141.9,1470.2 1149.6,1473.6 1155.4,1475.8 1158.0,1476.0 1156.3,1473.2 1150.8,1467.8 1142.8,1461.1 1133.7,1454.1 1125.0,1448.0 1113.6,1441.4 1100.9,1435.0 1087.3,1428.9 1073.5,1422.9 1060.0,1417.0 1047.2,1411.3 1034.6,1405.6 1021.8,1400.2 1008.7,1394.9 995.0,1390.0 978.2,1384.8 960.4,1379.9 942.2,1375.3 924.5,1371.0 908.0,1367.0 895.7,1364.0 884.1,1361.1 872.8,1358.5 861.5,1356.1 850.0,1354.0 837.2,1351.3 823.3,1348.2 809.9,1345.6 798.3,1344.8" fill="#1cb000" />
</g>
<g clip-path="url(#clipBtop)"><g filter="url(#blC)">
<polygon points="1080.0,1390.0 1200.0,1400.0 1360.0,1420.0 1360.0,1520.0 1225.0,1504.0 1143.0,1489.0 1100.0,1470.0" fill="#400000" fill-opacity="0.30"/>
<polyline points="1200.0,1494.0 1260.0,1502.0 1310.0,1508.0 1360.0,1512.0" fill="none" stroke="#100000" stroke-width="11" stroke-opacity="0.5"/>
</g></g>
<g filter="url(#blC)">
<polygon points="690.0,1628.0 691.2,1622.0 694.5,1615.9 699.3,1609.8 704.9,1603.7 710.7,1597.8 716.0,1592.0 720.9,1586.3 725.9,1580.6 731.0,1575.1 736.4,1569.7 742.1,1564.7 748.0,1560.0 754.5,1555.6 761.4,1551.5 768.6,1547.8 775.9,1544.3 783.4,1541.1 791.0,1538.0 798.9,1535.1 806.9,1532.4 815.0,1530.0 823.3,1527.7 831.6,1525.8 840.0,1524.0 848.6,1522.4 857.1,1521.1 865.8,1520.0 874.6,1519.1 883.7,1518.4 893.0,1518.0 904.4,1517.7 916.4,1517.7 928.6,1518.0 941.0,1518.6 953.2,1519.6 965.0,1521.0 976.0,1522.8 986.9,1525.1 997.7,1527.8 1008.3,1530.7 1018.8,1533.8 1029.0,1537.0 1038.5,1540.1 1047.8,1543.2 1057.0,1546.6 1066.0,1550.1 1074.7,1553.9 1083.0,1558.0 1090.3,1562.0 1097.3,1566.4 1104.2,1570.9 1110.7,1575.6 1117.0,1580.3 1123.0,1585.0 1128.0,1589.0 1132.8,1593.0 1137.4,1597.1 1141.8,1601.2 1146.0,1605.5 1150.0,1610.0 1154.0,1614.7 1157.9,1619.7 1161.7,1624.9 1165.1,1630.1 1167.9,1635.2 1170.0,1640.0 1171.1,1643.5 1172.0,1646.9 1172.5,1650.2 1172.7,1653.5 1172.5,1656.8 1172.0,1660.0 1171.0,1663.4 1169.4,1666.7 1167.5,1670.0 1165.2,1673.3 1162.7,1676.6 1160.0,1680.0 1156.0,1684.9 1151.3,1690.0 1146.3,1695.3 1140.9,1700.5 1135.4,1705.4 1130.0,1710.0 1124.8,1714.1 1119.4,1717.9 1113.8,1721.6 1108.3,1725.0 1102.6,1728.1 1097.0,1731.0 1091.8,1733.5 1086.5,1736.0 1081.2,1738.3 1075.9,1740.1 1070.5,1741.4 1065.0,1742.0 1059.2,1741.5 1053.3,1740.1 1047.3,1738.0 1041.3,1735.7 1035.2,1733.6 1029.0,1732.0 1022.2,1731.1 1015.2,1730.7 1008.1,1730.4 1001.0,1730.1 994.3,1729.4 988.0,1728.0 983.2,1726.2 979.0,1723.8 974.9,1721.2 970.8,1718.5 966.3,1716.0 961.0,1714.0 951.2,1711.9 939.6,1710.5 927.1,1709.6 914.5,1708.8 902.9,1707.7 893.0,1706.0 887.7,1704.6 883.0,1703.0 878.6,1701.3 874.5,1699.5 870.3,1697.8 866.0,1696.0 861.6,1694.1 857.4,1692.1 853.2,1690.0 848.8,1688.0 844.1,1686.3 839.0,1685.0 831.1,1684.0 822.2,1683.8 812.9,1684.1 803.3,1684.5 793.9,1684.9 785.0,1685.0 777.4,1685.0 769.7,1685.3 762.2,1685.5 755.0,1685.4 748.2,1684.6 742.0,1683.0 737.3,1680.9 733.1,1678.2 729.2,1675.1 725.5,1671.6 721.8,1667.9 718.0,1664.0 712.6,1658.8 706.5,1653.1 700.5,1646.9 695.2,1640.6 691.5,1634.2" fill="#a1f200" stroke="#f26b00" stroke-width="30" stroke-linejoin="round" clip-path="url(#clipBlow)"/>
<polygon points="690.0,1628.0 691.2,1622.0 694.5,1615.9 699.3,1609.8 704.9,1603.7 710.7,1597.8 716.0,1592.0 720.9,1586.3 725.9,1580.6 731.0,1575.1 736.4,1569.7 742.1,1564.7 748.0,1560.0 754.5,1555.6 761.4,1551.5 768.6,1547.8 775.9,1544.3 783.4,1541.1 791.0,1538.0 798.9,1535.1 806.9,1532.4 815.0,1530.0 823.3,1527.7 831.6,1525.8 840.0,1524.0 848.6,1522.4 857.1,1521.1 865.8,1520.0 874.6,1519.1 883.7,1518.4 893.0,1518.0 904.4,1517.7 916.4,1517.7 928.6,1518.0 941.0,1518.6 953.2,1519.6 965.0,1521.0 976.0,1522.8 986.9,1525.1 997.7,1527.8 1008.3,1530.7 1018.8,1533.8 1029.0,1537.0 1038.5,1540.1 1047.8,1543.2 1057.0,1546.6 1066.0,1550.1 1074.7,1553.9 1083.0,1558.0 1090.3,1562.0 1097.3,1566.4 1104.2,1570.9 1110.7,1575.6 1117.0,1580.3 1123.0,1585.0 1128.0,1589.0 1132.8,1593.0 1137.4,1597.1 1141.8,1601.2 1146.0,1605.5 1150.0,1610.0 1154.0,1614.7 1157.9,1619.7 1161.7,1624.9 1165.1,1630.1 1167.9,1635.2 1170.0,1640.0 1171.1,1643.5 1172.0,1646.9 1172.5,1650.2 1172.7,1653.5 1172.5,1656.8 1172.0,1660.0 1171.0,1663.4 1169.4,1666.7 1167.5,1670.0 1165.2,1673.3 1162.7,1676.6 1160.0,1680.0 1156.0,1684.9 1151.3,1690.0 1146.3,1695.3 1140.9,1700.5 1135.4,1705.4 1130.0,1710.0 1124.8,1714.1 1119.4,1717.9 1113.8,1721.6 1108.3,1725.0 1102.6,1728.1 1097.0,1731.0 1091.8,1733.5 1086.5,1736.0 1081.2,1738.3 1075.9,1740.1 1070.5,1741.4 1065.0,1742.0 1059.2,1741.5 1053.3,1740.1 1047.3,1738.0 1041.3,1735.7 1035.2,1733.6 1029.0,1732.0 1022.2,1731.1 1015.2,1730.7 1008.1,1730.4 1001.0,1730.1 994.3,1729.4 988.0,1728.0 983.2,1726.2 979.0,1723.8 974.9,1721.2 970.8,1718.5 966.3,1716.0 961.0,1714.0 951.2,1711.9 939.6,1710.5 927.1,1709.6 914.5,1708.8 902.9,1707.7 893.0,1706.0 887.7,1704.6 883.0,1703.0 878.6,1701.3 874.5,1699.5 870.3,1697.8 866.0,1696.0 861.6,1694.1 857.4,1692.1 853.2,1690.0 848.8,1688.0 844.1,1686.3 839.0,1685.0 831.1,1684.0 822.2,1683.8 812.9,1684.1 803.3,1684.5 793.9,1684.9 785.0,1685.0 777.4,1685.0 769.7,1685.3 762.2,1685.5 755.0,1685.4 748.2,1684.6 742.0,1683.0 737.3,1680.9 733.1,1678.2 729.2,1675.1 725.5,1671.6 721.8,1667.9 718.0,1664.0 712.6,1658.8 706.5,1653.1 700.5,1646.9 695.2,1640.6 691.5,1634.2" fill="#a1f200" stroke="#f2d700" stroke-width="18" stroke-linejoin="round"/>
<polygon points="690.0,1628.0 691.2,1622.0 694.5,1615.9 699.3,1609.8 704.9,1603.7 710.7,1597.8 716.0,1592.0 720.9,1586.3 725.9,1580.6 731.0,1575.1 736.4,1569.7 742.1,1564.7 748.0,1560.0 754.5,1555.6 761.4,1551.5 768.6,1547.8 775.9,1544.3 783.4,1541.1 791.0,1538.0 798.9,1535.1 806.9,1532.4 815.0,1530.0 823.3,1527.7 831.6,1525.8 840.0,1524.0 848.6,1522.4 857.1,1521.1 865.8,1520.0 874.6,1519.1 883.7,1518.4 893.0,1518.0 904.4,1517.7 916.4,1517.7 928.6,1518.0 941.0,1518.6 953.2,1519.6 965.0,1521.0 976.0,1522.8 986.9,1525.1 997.7,1527.8 1008.3,1530.7 1018.8,1533.8 1029.0,1537.0 1038.5,1540.1 1047.8,1543.2 1057.0,1546.6 1066.0,1550.1 1074.7,1553.9 1083.0,1558.0 1090.3,1562.0 1097.3,1566.4 1104.2,1570.9 1110.7,1575.6 1117.0,1580.3 1123.0,1585.0 1128.0,1589.0 1132.8,1593.0 1137.4,1597.1 1141.8,1601.2 1146.0,1605.5 1150.0,1610.0 1154.0,1614.7 1157.9,1619.7 1161.7,1624.9 1165.1,1630.1 1167.9,1635.2 1170.0,1640.0 1171.1,1643.5 1172.0,1646.9 1172.5,1650.2 1172.7,1653.5 1172.5,1656.8 1172.0,1660.0 1171.0,1663.4 1169.4,1666.7 1167.5,1670.0 1165.2,1673.3 1162.7,1676.6 1160.0,1680.0 1156.0,1684.9 1151.3,1690.0 1146.3,1695.3 1140.9,1700.5 1135.4,1705.4 1130.0,1710.0 1124.8,1714.1 1119.4,1717.9 1113.8,1721.6 1108.3,1725.0 1102.6,1728.1 1097.0,1731.0 1091.8,1733.5 1086.5,1736.0 1081.2,1738.3 1075.9,1740.1 1070.5,1741.4 1065.0,1742.0 1059.2,1741.5 1053.3,1740.1 1047.3,1738.0 1041.3,1735.7 1035.2,1733.6 1029.0,1732.0 1022.2,1731.1 1015.2,1730.7 1008.1,1730.4 1001.0,1730.1 994.3,1729.4 988.0,1728.0 983.2,1726.2 979.0,1723.8 974.9,1721.2 970.8,1718.5 966.3,1716.0 961.0,1714.0 951.2,1711.9 939.6,1710.5 927.1,1709.6 914.5,1708.8 902.9,1707.7 893.0,1706.0 887.7,1704.6 883.0,1703.0 878.6,1701.3 874.5,1699.5 870.3,1697.8 866.0,1696.0 861.6,1694.1 857.4,1692.1 853.2,1690.0 848.8,1688.0 844.1,1686.3 839.0,1685.0 831.1,1684.0 822.2,1683.8 812.9,1684.1 803.3,1684.5 793.9,1684.9 785.0,1685.0 777.4,1685.0 769.7,1685.3 762.2,1685.5 755.0,1685.4 748.2,1684.6 742.0,1683.0 737.3,1680.9 733.1,1678.2 729.2,1675.1 725.5,1671.6 721.8,1667.9 718.0,1664.0 712.6,1658.8 706.5,1653.1 700.5,1646.9 695.2,1640.6 691.5,1634.2" fill="#6bf200" stroke="#d7f200" stroke-width="6" stroke-linejoin="round"/>
<polygon points="725.0,1630.0 725.7,1623.3 728.0,1616.4 731.5,1609.4 735.7,1602.5 740.3,1596.0 745.0,1590.0 749.9,1584.6 755.3,1579.5 761.1,1574.8 767.2,1570.4 773.5,1566.1 780.0,1562.0 787.0,1557.7 794.3,1553.6 801.7,1549.7 809.5,1546.1 817.6,1542.9 826.0,1540.0 836.3,1537.2 847.1,1535.0 858.4,1533.2 869.9,1531.8 881.5,1530.7 893.0,1530.0 904.9,1529.6 917.0,1529.5 929.1,1529.8 941.3,1530.5 953.3,1531.6 965.0,1533.0 976.1,1534.7 987.1,1536.8 998.0,1539.2 1008.7,1541.9 1019.1,1544.9 1029.0,1548.0 1037.3,1550.9 1045.3,1554.0 1053.1,1557.2 1060.6,1560.6 1067.9,1564.2 1075.0,1568.0 1081.3,1571.7 1087.5,1575.5 1093.4,1579.6 1099.1,1583.7 1104.7,1587.8 1110.0,1592.0 1114.6,1595.7 1119.1,1599.3 1123.4,1603.0 1127.5,1606.8 1131.4,1610.8 1135.0,1615.0 1138.6,1619.6 1142.1,1624.6 1145.4,1629.7 1148.2,1634.9 1150.5,1640.0 1152.0,1645.0 1152.6,1648.9 1152.9,1652.8 1152.7,1656.6 1152.2,1660.4 1151.3,1664.2 1150.0,1668.0 1147.9,1672.6 1145.1,1677.4 1141.9,1682.1 1138.2,1686.6 1134.2,1691.0 1130.0,1695.0 1125.2,1699.0 1119.9,1702.7 1114.3,1706.1 1108.5,1709.3 1102.7,1712.3 1097.0,1715.0 1091.8,1717.5 1086.5,1720.0 1081.2,1722.2 1075.9,1724.1 1070.5,1725.4 1065.0,1726.0 1059.2,1725.5 1053.3,1724.1 1047.3,1722.0 1041.3,1719.7 1035.2,1717.6 1029.0,1716.0 1022.2,1715.1 1015.2,1714.7 1008.1,1714.4 1001.0,1714.1 994.3,1713.4 988.0,1712.0 983.2,1710.2 979.0,1707.8 974.9,1705.2 970.8,1702.5 966.3,1700.0 961.0,1698.0 951.2,1695.9 939.6,1694.5 927.1,1693.6 914.5,1692.8 902.9,1691.7 893.0,1690.0 887.7,1688.6 883.0,1686.9 878.7,1685.2 874.5,1683.5 870.3,1681.7 866.0,1680.0 861.6,1678.2 857.4,1676.4 853.2,1674.5 848.8,1672.7 844.1,1671.2 839.0,1670.0 831.0,1669.1 822.2,1669.0 812.7,1669.3 803.1,1669.8 793.8,1670.1 785.0,1670.0 777.7,1669.9 770.5,1670.1 763.4,1670.2 756.6,1669.8 750.4,1668.5 745.0,1666.0 740.0,1661.9 735.4,1656.5 731.3,1650.2 728.1,1643.4 725.9,1636.5" fill="#00f200" stroke="#35f200" stroke-width="8" stroke-linejoin="round"/>
<polygon points="790.0,1625.0 790.1,1618.4 792.8,1610.0 797.3,1600.8 803.0,1591.4 809.2,1582.5 815.0,1575.0 820.0,1569.4 825.4,1564.2 831.1,1559.4 837.1,1555.1 843.4,1551.3 850.0,1548.0 857.6,1545.1 865.8,1542.9 874.3,1541.3 882.9,1540.0 891.6,1539.0 900.0,1538.0 907.9,1537.1 915.6,1536.4 923.4,1535.9 931.2,1535.7 939.0,1535.7 947.0,1536.0 955.8,1536.7 964.8,1537.6 973.9,1538.9 983.0,1540.5 992.1,1542.5 1001.0,1545.0 1010.4,1548.2 1019.8,1552.1 1029.2,1556.4 1038.4,1561.0 1047.4,1565.6 1056.0,1570.0 1063.5,1573.7 1071.1,1577.3 1078.4,1581.0 1085.4,1584.8 1091.6,1588.7 1097.0,1593.0 1100.5,1596.4 1103.6,1599.8 1106.3,1603.3 1108.7,1607.0 1110.6,1610.9 1112.0,1615.0 1113.0,1620.0 1113.4,1625.4 1113.2,1631.1 1112.6,1636.9 1111.5,1642.6 1110.0,1648.0 1107.9,1653.7 1105.2,1659.4 1102.0,1665.0 1098.4,1670.4 1094.4,1675.4 1090.0,1680.0 1084.8,1684.4 1078.9,1688.6 1072.6,1692.5 1066.2,1695.7 1059.9,1698.3 1054.0,1700.0 1049.8,1700.7 1045.7,1701.0 1041.7,1701.0 1037.8,1700.4 1033.9,1699.4 1030.0,1698.0 1025.2,1695.1 1020.7,1691.0 1016.3,1686.1 1011.6,1681.0 1006.6,1676.1 1001.0,1672.0 993.3,1667.8 985.0,1663.9 976.1,1660.4 966.7,1657.2 957.0,1654.4 947.0,1652.0 934.4,1649.8 920.7,1648.3 906.6,1647.3 892.5,1646.6 878.8,1645.9 866.0,1645.0 856.1,1644.4 846.2,1644.0 836.7,1643.7 827.6,1643.1 819.3,1641.9 812.0,1640.0 807.2,1638.2 802.5,1636.3 798.2,1634.1 794.5,1631.5 791.7,1628.5" fill="#00f2d7" stroke="#00f26b" stroke-width="18" stroke-linejoin="round"/>
<polygon points="845.0,1570.0 846.8,1565.8 851.2,1561.3 857.4,1556.8 864.7,1552.6 872.5,1548.9 880.0,1546.0 889.9,1543.4 901.1,1541.6 913.0,1540.6 925.0,1540.4 936.6,1540.9 947.0,1542.0 954.6,1543.5 961.9,1545.5 968.9,1547.9 975.6,1550.7 981.9,1553.8 988.0,1557.0 992.9,1560.1 997.3,1563.5 1001.5,1567.1 1005.7,1570.7 1010.1,1574.4 1015.0,1578.0 1022.5,1582.1 1031.3,1586.0 1040.5,1589.8 1049.2,1593.9 1056.3,1598.6 1061.0,1604.0 1062.9,1609.6 1063.7,1616.1 1063.4,1623.0 1062.2,1629.7 1060.4,1635.5 1058.0,1640.0 1055.8,1642.3 1053.1,1644.1 1050.1,1645.5 1046.8,1646.5 1043.4,1647.3 1040.0,1648.0 1036.2,1648.6 1032.2,1648.9 1028.1,1648.9 1023.8,1648.7 1019.5,1648.0 1015.0,1647.0 1008.8,1644.8 1002.5,1641.6 995.9,1637.7 989.2,1633.6 982.2,1629.6 975.0,1626.0 966.4,1622.4 957.4,1618.9 948.1,1615.5 938.7,1612.2 929.3,1609.1 920.0,1606.0 910.7,1603.3 900.9,1600.9 891.2,1598.6 881.9,1596.2 873.3,1593.4 866.0,1590.0 861.1,1587.1 856.2,1583.9 851.7,1580.4 848.1,1576.9 845.7,1573.4" fill="#006bf2" stroke="#00a1f2" stroke-width="9" stroke-linejoin="round"/>
<path d="M878,1552L986,1556L1005,1570L960,1572L900,1566Z M961,1612L1002,1622L1045,1630L1000,1636Z" fill="#0000f2" fill-opacity="0.75"/>
</g>
<g clip-path="url(#clipBtop)" filter="url(#blL)">
<polygon points="109.0,1250.0 420.0,1240.0 380.0,1316.0 430.0,1392.0 316.0,1428.0 109.0,1502.0" fill="url(#hatB)" fill-opacity="0.16"/>
<polygon points="109.0,1119.0 900.0,1119.0 1356.0,1284.0 1356.0,1330.0 900.0,1225.0 500.0,1168.0 109.0,1195.0" fill="url(#hatB2)" fill-opacity="0.12"/>
<polygon points="437.0,1229.0 430.8,1230.4 425.2,1232.1 420.0,1234.3 415.3,1237.1 411.0,1241.0 406.1,1248.5 402.4,1258.3 399.2,1269.2 395.9,1279.8 392.0,1289.0 387.6,1295.1 382.2,1300.6 377.1,1305.8 373.3,1310.8 372.0,1316.0 374.0,1321.3 378.7,1326.3 384.9,1331.4 391.4,1336.8 397.0,1343.0 401.9,1352.7 405.7,1364.0 409.8,1375.7 415.7,1386.5 425.0,1395.0 454.1,1403.4 494.8,1404.5 542.4,1401.8 592.4,1399.1 640.0,1400.0 690.7,1405.3 742.8,1412.3 795.7,1420.7 848.3,1430.0 900.0,1440.0 950.0,1451.4 1000.0,1464.7 1049.4,1478.3 1097.3,1490.6 1143.0,1500.0 1182.9,1506.7 1226.0,1513.4 1265.7,1518.2 1295.9,1519.4 1310.0,1515.0 1309.4,1509.9 1304.5,1503.2 1296.7,1495.4 1287.7,1487.2 1279.0,1479.0 1265.6,1466.1 1249.9,1451.8 1232.9,1437.2 1215.3,1423.3 1198.0,1411.0 1182.3,1401.2 1166.4,1392.3 1150.2,1384.2 1133.5,1376.9 1116.0,1370.0 1095.6,1363.1 1074.1,1356.9 1052.0,1351.5 1029.8,1346.9 1008.0,1343.0 987.3,1340.5 966.5,1339.2 945.8,1338.3 925.6,1337.2 906.0,1335.0 889.0,1332.4 872.6,1329.6 856.5,1326.3 840.7,1321.9 825.0,1316.0 808.3,1307.1 792.0,1295.8 775.8,1283.6 759.6,1271.9 743.0,1262.0 727.1,1254.3 711.0,1247.2 694.8,1241.0 678.5,1235.9 662.0,1232.0 645.8,1229.8 629.4,1229.2 612.9,1229.4 596.4,1229.8 580.0,1230.0 563.8,1229.9 547.5,1229.9 531.3,1230.0 515.4,1230.0 500.0,1230.0 486.5,1229.5 472.9,1228.6 459.7,1227.8 447.6,1227.8" fill="url(#hatB)" fill-opacity="0.13"/>
<polygon points="1000.0,1290.0 1356.0,1330.0 1356.0,1517.0 1300.0,1512.0 1200.0,1420.0" fill="url(#hatB2)" fill-opacity="0.14"/>
</g>
<g filter="url(#blL)" fill="none">
<path d="M481,1400H509M551,1400H597M739,1400H761M792,1400H809M388,1421H441M459,1421H515M564,1421H597M632,1421H682M765,1421H784M832,1421H872M326,1442H353M367,1442H408M442,1442H473M602,1442H625M671,1442H723M898,1442H931M943,1442H1001M247,1463H274M286,1463H308M341,1463H361M503,1463H544M609,1463H667M761,1463H821M428,1484H481M682,1484H697M734,1484H757M804,1484H848M1021,1484H1076M122,1505H156M316,1505H350M362,1505H416M454,1505H494M536,1505H551M614,1505H634M829,1505H852M869,1505H884M922,1505H944M968,1505H1014M1049,1505H1098M1139,1505H1195M307,1526H351M553,1526H612M1255,1526H1293M1332,1526H1352M137,1547H166M210,1547H265M309,1547H368M400,1547H424M454,1547H496M544,1547H582M624,1547H664M1233,1547H1275M1315,1547H1334M123,1568H161M186,1568H219M368,1568H421M1197,1568H1218M1336,1568H1352M133,1589H183M211,1589H249M341,1589H364M403,1589H436M453,1589H490M631,1589H674M141,1610H182M428,1610H460M478,1610H509M1190,1610H1205M151,1631H185M234,1631H259M307,1631H354M469,1631H512M530,1631H546M677,1631H727M1190,1631H1245M1257,1631H1283M1318,1631H1337M834,1757H852M885,1757H931M978,1757H1008M1023,1757H1082M716,1778H759M851,1778H887M1087,1778H1140M750,1799H806M848,1799H867M915,1799H929M951,1799H980M1026,1799H1078M711,1820H734M770,1820H821M1036,1820H1095M812,1841H848M881,1841H918M1044,1841H1066M1077,1841H1114M725,1862H743M1030,1862H1046M1082,1862H1099" stroke="#700000" stroke-width="2.2" stroke-opacity="0.42"/>
<path d="M1223,1522.0H1240M1247,1522.0H1262M1274,1522.0H1287M1296,1522.0H1317M1328,1522.0H1343M1227,1533.5H1255M1268,1533.5H1283M1291,1533.5H1309M1322,1533.5H1343M1246,1545.0H1263M1272,1545.0H1292M1300,1545.0H1313M1319,1545.0H1345M1252,1556.5H1286M1295,1556.5H1321M1337,1556.5H1352M1256,1568.0H1289M1304,1568.0H1321M1334,1568.0H1347M1258,1579.5H1271M1281,1579.5H1300M1311,1579.5H1329M1337,1579.5H1352M1260,1591.0H1287M1295,1591.0H1309M1319,1591.0H1340M1348,1591.0H1352M1275,1602.5H1302M1309,1602.5H1329M1339,1602.5H1352M1272,1614.0H1295M1307,1614.0H1329M1338,1614.0H1352M1285,1625.5H1317M1328,1625.5H1346M1289,1637.0H1311M1323,1637.0H1352M1304,1648.5H1336M1350,1648.5H1352" stroke="#600000" stroke-width="2.6" stroke-opacity="0.5"/>
<path d="M497,1385.0h11M520,1385.0h8M543,1385.0h5M560,1385.0h9M579,1385.0h8M603,1385.0h6M620,1385.0h7M641,1385.0h7M657,1385.0h9M677,1385.0h7M697,1385.0h10M717,1385.0h9M737,1385.0h11M448,1399.5h5M465,1399.5h10M482,1399.5h8M504,1399.5h8M521,1399.5h11M544,1399.5h5M562,1399.5h9M585,1399.5h8M606,1399.5h7M628,1399.5h7M647,1399.5h10M669,1399.5h11M690,1399.5h8M712,1399.5h9M734,1399.5h11M751,1399.5h8M773,1399.5h7M790,1399.5h5M811,1399.5h12M440,1414.0h11M463,1414.0h7M482,1414.0h9M504,1414.0h12M523,1414.0h10M543,1414.0h11M561,1414.0h6M577,1414.0h12M595,1414.0h8M612,1414.0h7M629,1414.0h9M646,1414.0h9M664,1414.0h7M684,1414.0h8M702,1414.0h5M718,1414.0h11M737,1414.0h6M754,1414.0h8M778,1414.0h6M801,1414.0h8M821,1414.0h11M840,1414.0h5M860,1414.0h10M448,1428.5h12M464,1428.5h9M487,1428.5h11M508,1428.5h8M531,1428.5h11M553,1428.5h12M570,1428.5h12M589,1428.5h10M607,1428.5h11M623,1428.5h9M641,1428.5h8M660,1428.5h10M682,1428.5h8M704,1428.5h7M722,1428.5h11M740,1428.5h6M759,1428.5h10M777,1428.5h10M797,1428.5h10M815,1428.5h6M832,1428.5h7M851,1428.5h5M871,1428.5h8M890,1428.5h9M913,1428.5h6M440,1443.0h8M464,1443.0h6M485,1443.0h8M506,1443.0h6M527,1443.0h11M550,1443.0h9M570,1443.0h9M587,1443.0h11M608,1443.0h8M630,1443.0h8M649,1443.0h7M670,1443.0h9M690,1443.0h5M711,1443.0h8M731,1443.0h9M755,1443.0h6M775,1443.0h12M797,1443.0h7M818,1443.0h12M838,1443.0h11M855,1443.0h12M875,1443.0h7M897,1443.0h10M921,1443.0h11M943,1443.0h9M967,1443.0h5M448,1457.5h8M466,1457.5h11M489,1457.5h10M509,1457.5h11M532,1457.5h6M550,1457.5h6M567,1457.5h7M590,1457.5h11M607,1457.5h6M626,1457.5h11M647,1457.5h11M663,1457.5h12M681,1457.5h9M704,1457.5h10M721,1457.5h10M741,1457.5h5M760,1457.5h7M781,1457.5h7M802,1457.5h10M819,1457.5h6M841,1457.5h8M858,1457.5h6M881,1457.5h9M900,1457.5h6M924,1457.5h10M946,1457.5h8M964,1457.5h8M981,1457.5h9M1001,1457.5h11M1020,1457.5h8M440,1472.0h8M463,1472.0h8M485,1472.0h9M505,1472.0h5M524,1472.0h7M544,1472.0h12M562,1472.0h10M584,1472.0h7M603,1472.0h6M626,1472.0h7M645,1472.0h7M668,1472.0h11M689,1472.0h9M706,1472.0h11M722,1472.0h8M741,1472.0h10M763,1472.0h7M786,1472.0h12M802,1472.0h9M822,1472.0h8M841,1472.0h7M863,1472.0h9M887,1472.0h12M910,1472.0h8M933,1472.0h10M955,1472.0h12M971,1472.0h8M990,1472.0h10M1008,1472.0h12M1026,1472.0h8M1043,1472.0h8M1065,1472.0h6M448,1486.5h6M468,1486.5h5M491,1486.5h12M514,1486.5h5M533,1486.5h9M553,1486.5h6M575,1486.5h7M595,1486.5h6M616,1486.5h6M632,1486.5h9M651,1486.5h10M669,1486.5h8M685,1486.5h7M705,1486.5h9M725,1486.5h11M741,1486.5h11M759,1486.5h12M779,1486.5h8M800,1486.5h11M823,1486.5h8M840,1486.5h6M862,1486.5h10M884,1486.5h6M904,1486.5h5M921,1486.5h7M945,1486.5h10M967,1486.5h5M987,1486.5h6M1005,1486.5h6M1028,1486.5h7M1048,1486.5h10M1071,1486.5h12M1092,1486.5h9M1115,1486.5h8M440,1501.0h8M459,1501.0h8M476,1501.0h11M492,1501.0h9M513,1501.0h8M530,1501.0h6M549,1501.0h7M569,1501.0h7M591,1501.0h8M607,1501.0h8M631,1501.0h5M652,1501.0h12M671,1501.0h9M690,1501.0h7M711,1501.0h9M729,1501.0h8M749,1501.0h10M766,1501.0h6M784,1501.0h7M806,1501.0h8M829,1501.0h8M847,1501.0h10M864,1501.0h12M887,1501.0h7M905,1501.0h11M927,1501.0h9M944,1501.0h10M960,1501.0h9M981,1501.0h11M1002,1501.0h5M1025,1501.0h10M1046,1501.0h5M1068,1501.0h8M1089,1501.0h12M1113,1501.0h6M1135,1501.0h8M1157,1501.0h8M1176,1501.0h8M1193,1501.0h7M448,1515.5h6M471,1515.5h10M491,1515.5h6M508,1515.5h7M532,1515.5h9M555,1515.5h6M574,1515.5h9M597,1515.5h6M620,1515.5h8M636,1515.5h8M655,1515.5h10M679,1515.5h8M700,1515.5h8M722,1515.5h6M744,1515.5h6M765,1515.5h6M784,1515.5h6M803,1515.5h9M823,1515.5h8M843,1515.5h11M862,1515.5h9M882,1515.5h12M901,1515.5h10M919,1515.5h7M940,1515.5h9M959,1515.5h5M981,1515.5h8M1003,1515.5h8M1024,1515.5h9M1048,1515.5h11M1067,1515.5h8M1085,1515.5h10M1102,1515.5h7M1125,1515.5h5M1146,1515.5h9M1167,1515.5h7M1184,1515.5h12M1206,1515.5h11M1223,1515.5h10M440,1530.0h6M460,1530.0h9M477,1530.0h10M498,1530.0h11M521,1530.0h10M540,1530.0h12M562,1530.0h7M585,1530.0h10M603,1530.0h7M619,1530.0h9M637,1530.0h7M655,1530.0h6M675,1530.0h7M693,1530.0h7M713,1530.0h11M731,1530.0h11M754,1530.0h9M774,1530.0h10M794,1530.0h10M817,1530.0h10M836,1530.0h5M859,1530.0h8M881,1530.0h7M901,1530.0h8M923,1530.0h12M943,1530.0h9M962,1530.0h7M985,1530.0h6M1009,1530.0h10M1025,1530.0h11M1042,1530.0h9M1059,1530.0h12M1078,1530.0h11M1094,1530.0h10M1111,1530.0h5M1131,1530.0h12M1153,1530.0h11M1175,1530.0h9M1192,1530.0h9M1209,1530.0h9M1228,1530.0h8M448,1544.5h10M467,1544.5h8M484,1544.5h8M504,1544.5h12M525,1544.5h6M543,1544.5h7M565,1544.5h12M589,1544.5h12M612,1544.5h11M636,1544.5h5M656,1544.5h9M677,1544.5h9M698,1544.5h12M1197,1544.5h7M1217,1544.5h9M440,1559.0h10M460,1559.0h7M483,1559.0h6M500,1559.0h7M520,1559.0h10M538,1559.0h7M560,1559.0h7M580,1559.0h7M603,1559.0h6M621,1559.0h7M639,1559.0h10M661,1559.0h11M681,1559.0h6M703,1559.0h7M1188,1559.0h6M1206,1559.0h11M1230,1559.0h12M448,1573.5h12M465,1573.5h10M489,1573.5h6M506,1573.5h10M529,1573.5h10M552,1573.5h8M571,1573.5h6M590,1573.5h12M606,1573.5h6M625,1573.5h5M643,1573.5h6M660,1573.5h9M681,1573.5h9M703,1573.5h9M1188,1573.5h5M1205,1573.5h6M1227,1573.5h6M440,1588.0h7M462,1588.0h8M484,1588.0h8M501,1588.0h5M520,1588.0h5M538,1588.0h9M557,1588.0h8M578,1588.0h7M596,1588.0h11M617,1588.0h8M637,1588.0h8M656,1588.0h11M674,1588.0h12M697,1588.0h11M1189,1588.0h6M1209,1588.0h8M1230,1588.0h12M448,1602.5h8M465,1602.5h11M483,1602.5h11M505,1602.5h7M528,1602.5h9M548,1602.5h9M571,1602.5h8M591,1602.5h7M614,1602.5h9M632,1602.5h6M650,1602.5h11M673,1602.5h12M696,1602.5h10M1188,1602.5h10M1210,1602.5h12M440,1617.0h6M462,1617.0h5M485,1617.0h10M507,1617.0h11M528,1617.0h12M549,1617.0h8M568,1617.0h7M584,1617.0h6M606,1617.0h7M628,1617.0h10M649,1617.0h9M668,1617.0h7M685,1617.0h10M1175,1617.0h5M1192,1617.0h7M1212,1617.0h12M448,1631.5h8M467,1631.5h7M487,1631.5h12M504,1631.5h8M526,1631.5h10M546,1631.5h9M569,1631.5h11M587,1631.5h9M611,1631.5h9M629,1631.5h10M645,1631.5h6M666,1631.5h7M688,1631.5h10M1186,1631.5h6M1202,1631.5h8M1218,1631.5h6M440,1646.0h8M457,1646.0h12M480,1646.0h8M500,1646.0h7M524,1646.0h6M543,1646.0h7M566,1646.0h9M585,1646.0h8M608,1646.0h7M630,1646.0h10M650,1646.0h8M669,1646.0h8M688,1646.0h9M1188,1646.0h12M1207,1646.0h10M1223,1646.0h8M448,1660.5h7M469,1660.5h7M488,1660.5h12M506,1660.5h11M522,1660.5h9M545,1660.5h11M564,1660.5h9M586,1660.5h10M608,1660.5h9M626,1660.5h10M646,1660.5h9M670,1660.5h6M692,1660.5h7M1181,1660.5h10M1203,1660.5h11M1222,1660.5h7" stroke="#301000" stroke-width="2.2" stroke-opacity="0.26" clip-path="url(#clipS1)"/>
<path d="M109,1653H1356M109,1659.5H1356M109,1788H705M1117,1788H1356M1096,1836H1356M747,1851H780M640,1610H700M560,1500H700M560,1470H690M560,1440H690M560,1410H690M1190,1520H1300M1200,1560H1330M1230,1600H1340M223.7,1119V1653M321.7,1119V1884M573.7,1119V1884M413,1660V1884M496.7,1660V1884M748.7,1780V1884M827,1119V1660M866.7,1130V1520M958,1185V1520M995.8,1190V1660M1295.8,1620V1884M1235,1655V1685M745.8,1750V1884M789.6,1750V1884M858,1700V1884M962.5,1730V1884M1033,1750V1884M900,1600V1700M930,1640V1760M1000,1600V1700" stroke="#3a0000" stroke-width="2" stroke-opacity="0.42"/>
<path d="M642.0,1660.0C648.3,1670.0 663.7,1702.5 680.0,1720.0C696.3,1737.5 715.0,1752.5 740.0,1765.0C765.0,1777.5 800.0,1788.3 830.0,1795.0C860.0,1801.7 890.0,1804.5 920.0,1805.0C950.0,1805.5 981.7,1803.0 1010.0,1798.0C1038.3,1793.0 1066.7,1786.3 1090.0,1775.0C1113.3,1763.7 1135.2,1748.8 1150.0,1730.0C1164.8,1711.2 1174.2,1673.3 1179.0,1662.0" stroke="#500000" stroke-width="2.2" stroke-opacity="0.4" stroke-dasharray="6 10"/>
<path d="M642.0,1660.0C651.7,1650.0 678.7,1618.3 700.0,1600.0C721.3,1581.7 745.0,1563.3 770.0,1550.0C795.0,1536.7 823.3,1526.3 850.0,1520.0C876.7,1513.7 903.3,1512.0 930.0,1512.0C956.7,1512.0 985.0,1514.0 1010.0,1520.0C1035.0,1526.0 1058.3,1534.7 1080.0,1548.0C1101.7,1561.3 1123.5,1581.0 1140.0,1600.0C1156.5,1619.0 1172.5,1651.7 1179.0,1662.0" stroke="#201000" stroke-width="2.2" stroke-opacity="0.45" stroke-dasharray="5 8"/>
</g>
<g filter="url(#blL)" fill="none">
<polyline points="109.0,1121.0 500.0,1121.0 700.0,1122.0 879.0,1131.0 900.0,1137.0 958.0,1158.0 1035.0,1180.0 1100.0,1205.0 1170.0,1232.0 1235.0,1253.0 1279.0,1267.0 1320.0,1278.0 1356.0,1286.0" stroke="#100000" stroke-width="8" stroke-opacity="0.8"/>
<path d="M110,1119V1884" stroke="#200000" stroke-width="3" stroke-opacity="0.8"/>
<path d="M1355,1284V1884" stroke="#200000" stroke-width="3.5" stroke-opacity="0.8"/>
</g>
</g>
<rect x="1444" y="245.5" width="30" height="557.5" fill="url(#lg1444245)" filter="url(#soft1)"/>
<text x="1353" y="223" font-size="39.5" font-weight="bold" textLength="514" lengthAdjust="spacingAndGlyphs">Contour Of Z-Displacement</text>
<text y="279.4" font-size="34" stroke="#000" stroke-width="0.8"><tspan x="1511">1.7844</tspan></text><text transform="translate(1630.2,264.3) scale(1,0.85)" x="0" y="15.8" text-anchor="middle" style="font-family:IPAGothic,'Noto Sans CJK JP',sans-serif" font-size="40.0">×</text><text y="279.4" font-size="34" stroke="#000" stroke-width="0.8"><tspan x="1653.0">10</tspan><tspan x="1688.0" dy="-10.5" font-size="22.5" font-weight="bold" stroke="none">-3</tspan></text>
<text y="319.5" font-size="34" stroke="#000" stroke-width="0.8"><tspan x="1511">1.7500</tspan></text><text transform="translate(1630.2,304.4) scale(1,0.85)" x="0" y="15.8" text-anchor="middle" style="font-family:IPAGothic,'Noto Sans CJK JP',sans-serif" font-size="40.0">×</text><text y="319.5" font-size="34" stroke="#000" stroke-width="0.8"><tspan x="1653.0">10</tspan><tspan x="1688.0" dy="-10.5" font-size="22.5" font-weight="bold" stroke="none">-3</tspan></text>
<text y="359.5" font-size="34" stroke="#000" stroke-width="0.8"><tspan x="1511">1.5000</tspan></text><text transform="translate(1630.2,344.4) scale(1,0.85)" x="0" y="15.8" text-anchor="middle" style="font-family:IPAGothic,'Noto Sans CJK JP',sans-serif" font-size="40.0">×</text><text y="359.5" font-size="34" stroke="#000" stroke-width="0.8"><tspan x="1653.0">10</tspan><tspan x="1688.0" dy="-10.5" font-size="22.5" font-weight="bold" stroke="none">-3</tspan></text>
<text y="399.6" font-size="34" stroke="#000" stroke-width="0.8"><tspan x="1511">1.2500</tspan></text><text transform="translate(1630.2,384.5) scale(1,0.85)" x="0" y="15.8" text-anchor="middle" style="font-family:IPAGothic,'Noto Sans CJK JP',sans-serif" font-size="40.0">×</text><text y="399.6" font-size="34" stroke="#000" stroke-width="0.8"><tspan x="1653.0">10</tspan><tspan x="1688.0" dy="-10.5" font-size="22.5" font-weight="bold" stroke="none">-3</tspan></text>
<text y="439.7" font-size="34" stroke="#000" stroke-width="0.8"><tspan x="1511">1.0000</tspan></text><text transform="translate(1630.2,424.6) scale(1,0.85)" x="0" y="15.8" text-anchor="middle" style="font-family:IPAGothic,'Noto Sans CJK JP',sans-serif" font-size="40.0">×</text><text y="439.7" font-size="34" stroke="#000" stroke-width="0.8"><tspan x="1653.0">10</tspan><tspan x="1688.0" dy="-10.5" font-size="22.5" font-weight="bold" stroke="none">-3</tspan></text>
<text y="479.8" font-size="34" stroke="#000" stroke-width="0.8"><tspan x="1511">7.5000</tspan></text><text transform="translate(1630.2,464.6) scale(1,0.85)" x="0" y="15.8" text-anchor="middle" style="font-family:IPAGothic,'Noto Sans CJK JP',sans-serif" font-size="40.0">×</text><text y="479.8" font-size="34" stroke="#000" stroke-width="0.8"><tspan x="1653.0">10</tspan><tspan x="1688.0" dy="-10.5" font-size="22.5" font-weight="bold" stroke="none">-4</tspan></text>
<text y="519.8" font-size="34" stroke="#000" stroke-width="0.8"><tspan x="1511">5.0000</tspan></text><text transform="translate(1630.2,504.7) scale(1,0.85)" x="0" y="15.8" text-anchor="middle" style="font-family:IPAGothic,'Noto Sans CJK JP',sans-serif" font-size="40.0">×</text><text y="519.8" font-size="34" stroke="#000" stroke-width="0.8"><tspan x="1653.0">10</tspan><tspan x="1688.0" dy="-10.5" font-size="22.5" font-weight="bold" stroke="none">-4</tspan></text>
<text y="559.9" font-size="34" stroke="#000" stroke-width="0.8"><tspan x="1511">2.5000</tspan></text><text transform="translate(1630.2,544.8) scale(1,0.85)" x="0" y="15.8" text-anchor="middle" style="font-family:IPAGothic,'Noto Sans CJK JP',sans-serif" font-size="40.0">×</text><text y="559.9" font-size="34" stroke="#000" stroke-width="0.8"><tspan x="1653.0">10</tspan><tspan x="1688.0" dy="-10.5" font-size="22.5" font-weight="bold" stroke="none">-4</tspan></text>
<text y="600.0" font-size="34" stroke="#000" stroke-width="0.8"><tspan x="1511">0.0000</tspan></text>
<text y="640.0" font-size="34" stroke="#000" stroke-width="0.8"><tspan x="1511.5" textLength="19.0" lengthAdjust="spacingAndGlyphs">–</tspan><tspan x="1538.4">2.5000</tspan></text><text transform="translate(1657.6,624.9) scale(1,0.85)" x="0" y="15.8" text-anchor="middle" style="font-family:IPAGothic,'Noto Sans CJK JP',sans-serif" font-size="40.0">×</text><text y="640.0" font-size="34" stroke="#000" stroke-width="0.8"><tspan x="1680.4">10</tspan><tspan x="1715.4" dy="-10.5" font-size="22.5" font-weight="bold" stroke="none">-4</tspan></text>
<text y="680.1" font-size="34" stroke="#000" stroke-width="0.8"><tspan x="1511.5" textLength="19.0" lengthAdjust="spacingAndGlyphs">–</tspan><tspan x="1538.4">5.0000</tspan></text><text transform="translate(1657.6,665.0) scale(1,0.85)" x="0" y="15.8" text-anchor="middle" style="font-family:IPAGothic,'Noto Sans CJK JP',sans-serif" font-size="40.0">×</text><text y="680.1" font-size="34" stroke="#000" stroke-width="0.8"><tspan x="1680.4">10</tspan><tspan x="1715.4" dy="-10.5" font-size="22.5" font-weight="bold" stroke="none">-4</tspan></text>
<text y="720.2" font-size="34" stroke="#000" stroke-width="0.8"><tspan x="1511.5" textLength="19.0" lengthAdjust="spacingAndGlyphs">–</tspan><tspan x="1538.4">7.5000</tspan></text><text transform="translate(1657.6,705.1) scale(1,0.85)" x="0" y="15.8" text-anchor="middle" style="font-family:IPAGothic,'Noto Sans CJK JP',sans-serif" font-size="40.0">×</text><text y="720.2" font-size="34" stroke="#000" stroke-width="0.8"><tspan x="1680.4">10</tspan><tspan x="1715.4" dy="-10.5" font-size="22.5" font-weight="bold" stroke="none">-4</tspan></text>
<text y="760.2" font-size="34" stroke="#000" stroke-width="0.8"><tspan x="1511.5" textLength="19.0" lengthAdjust="spacingAndGlyphs">–</tspan><tspan x="1538.4">1.0000</tspan></text><text transform="translate(1657.6,745.1) scale(1,0.85)" x="0" y="15.8" text-anchor="middle" style="font-family:IPAGothic,'Noto Sans CJK JP',sans-serif" font-size="40.0">×</text><text y="760.2" font-size="34" stroke="#000" stroke-width="0.8"><tspan x="1680.4">10</tspan><tspan x="1715.4" dy="-10.5" font-size="22.5" font-weight="bold" stroke="none">-3</tspan></text>
<text y="800.3" font-size="34" stroke="#000" stroke-width="0.8"><tspan x="1511.5" textLength="19.0" lengthAdjust="spacingAndGlyphs">–</tspan><tspan x="1538.4">1.1103</tspan></text><text transform="translate(1657.6,785.2) scale(1,0.85)" x="0" y="15.8" text-anchor="middle" style="font-family:IPAGothic,'Noto Sans CJK JP',sans-serif" font-size="40.0">×</text><text y="800.3" font-size="34" stroke="#000" stroke-width="0.8"><tspan x="1680.4">10</tspan><tspan x="1715.4" dy="-10.5" font-size="22.5" font-weight="bold" stroke="none">-3</tspan></text>
<rect x="1413" y="1137.4" width="28.5" height="744.8000000000001" fill="url(#lg14131137)" filter="url(#soft1)"/>
<text x="1276" y="1114" font-size="38" font-weight="bold" textLength="494" lengthAdjust="spacingAndGlyphs">Contour Of Z-Displacement</text>
<text y="1156.4" font-size="32.7" stroke="#000" stroke-width="0.8"><tspan x="1473.5">1.0602</tspan></text><text transform="translate(1588.3,1141.9) scale(1,0.85)" x="0" y="15.2" text-anchor="middle" style="font-family:IPAGothic,'Noto Sans CJK JP',sans-serif" font-size="38.5">×</text><text y="1156.4" font-size="32.7" stroke="#000" stroke-width="0.8"><tspan x="1610.2">10</tspan><tspan x="1644.0" dy="-10.1" font-size="21.7" font-weight="bold" stroke="none">-4</tspan></text>
<text y="1195.1" font-size="32.7" stroke="#000" stroke-width="0.8"><tspan x="1473.5">1.0000</tspan></text><text transform="translate(1588.3,1180.6) scale(1,0.85)" x="0" y="15.2" text-anchor="middle" style="font-family:IPAGothic,'Noto Sans CJK JP',sans-serif" font-size="38.5">×</text><text y="1195.1" font-size="32.7" stroke="#000" stroke-width="0.8"><tspan x="1610.2">10</tspan><tspan x="1644.0" dy="-10.1" font-size="21.7" font-weight="bold" stroke="none">-4</tspan></text>
<text y="1233.8" font-size="32.7" stroke="#000" stroke-width="0.8"><tspan x="1473.5">5.0000</tspan></text><text transform="translate(1588.3,1219.3) scale(1,0.85)" x="0" y="15.2" text-anchor="middle" style="font-family:IPAGothic,'Noto Sans CJK JP',sans-serif" font-size="38.5">×</text><text y="1233.8" font-size="32.7" stroke="#000" stroke-width="0.8"><tspan x="1610.2">10</tspan><tspan x="1644.0" dy="-10.1" font-size="21.7" font-weight="bold" stroke="none">-5</tspan></text>
<text y="1272.5" font-size="32.7" stroke="#000" stroke-width="0.8"><tspan x="1473.5">0.0000</tspan></text>
<text y="1311.2" font-size="32.7" stroke="#000" stroke-width="0.8"><tspan x="1474.0" textLength="18.3" lengthAdjust="spacingAndGlyphs">–</tspan><tspan x="1499.9">5.0000</tspan></text><text transform="translate(1614.7,1296.7) scale(1,0.85)" x="0" y="15.2" text-anchor="middle" style="font-family:IPAGothic,'Noto Sans CJK JP',sans-serif" font-size="38.5">×</text><text y="1311.2" font-size="32.7" stroke="#000" stroke-width="0.8"><tspan x="1636.6">10</tspan><tspan x="1670.3" dy="-10.1" font-size="21.7" font-weight="bold" stroke="none">-5</tspan></text>
<text y="1349.9" font-size="32.7" stroke="#000" stroke-width="0.8"><tspan x="1474.0" textLength="18.3" lengthAdjust="spacingAndGlyphs">–</tspan><tspan x="1499.9">1.0000</tspan></text><text transform="translate(1614.7,1335.4) scale(1,0.85)" x="0" y="15.2" text-anchor="middle" style="font-family:IPAGothic,'Noto Sans CJK JP',sans-serif" font-size="38.5">×</text><text y="1349.9" font-size="32.7" stroke="#000" stroke-width="0.8"><tspan x="1636.6">10</tspan><tspan x="1670.3" dy="-10.1" font-size="21.7" font-weight="bold" stroke="none">-4</tspan></text>
<text y="1388.6" font-size="32.7" stroke="#000" stroke-width="0.8"><tspan x="1474.0" textLength="18.3" lengthAdjust="spacingAndGlyphs">–</tspan><tspan x="1499.9">1.5000</tspan></text><text transform="translate(1614.7,1374.1) scale(1,0.85)" x="0" y="15.2" text-anchor="middle" style="font-family:IPAGothic,'Noto Sans CJK JP',sans-serif" font-size="38.5">×</text><text y="1388.6" font-size="32.7" stroke="#000" stroke-width="0.8"><tspan x="1636.6">10</tspan><tspan x="1670.3" dy="-10.1" font-size="21.7" font-weight="bold" stroke="none">-4</tspan></text>
<text y="1427.3" font-size="32.7" stroke="#000" stroke-width="0.8"><tspan x="1474.0" textLength="18.3" lengthAdjust="spacingAndGlyphs">–</tspan><tspan x="1499.9">2.0000</tspan></text><text transform="translate(1614.7,1412.8) scale(1,0.85)" x="0" y="15.2" text-anchor="middle" style="font-family:IPAGothic,'Noto Sans CJK JP',sans-serif" font-size="38.5">×</text><text y="1427.3" font-size="32.7" stroke="#000" stroke-width="0.8"><tspan x="1636.6">10</tspan><tspan x="1670.3" dy="-10.1" font-size="21.7" font-weight="bold" stroke="none">-4</tspan></text>
<text y="1466.0" font-size="32.7" stroke="#000" stroke-width="0.8"><tspan x="1474.0" textLength="18.3" lengthAdjust="spacingAndGlyphs">–</tspan><tspan x="1499.9">2.5000</tspan></text><text transform="translate(1614.7,1451.5) scale(1,0.85)" x="0" y="15.2" text-anchor="middle" style="font-family:IPAGothic,'Noto Sans CJK JP',sans-serif" font-size="38.5">×</text><text y="1466.0" font-size="32.7" stroke="#000" stroke-width="0.8"><tspan x="1636.6">10</tspan><tspan x="1670.3" dy="-10.1" font-size="21.7" font-weight="bold" stroke="none">-4</tspan></text>
<text y="1504.7" font-size="32.7" stroke="#000" stroke-width="0.8"><tspan x="1474.0" textLength="18.3" lengthAdjust="spacingAndGlyphs">–</tspan><tspan x="1499.9">3.0000</tspan></text><text transform="translate(1614.7,1490.2) scale(1,0.85)" x="0" y="15.2" text-anchor="middle" style="font-family:IPAGothic,'Noto Sans CJK JP',sans-serif" font-size="38.5">×</text><text y="1504.7" font-size="32.7" stroke="#000" stroke-width="0.8"><tspan x="1636.6">10</tspan><tspan x="1670.3" dy="-10.1" font-size="21.7" font-weight="bold" stroke="none">-4</tspan></text>
<text y="1543.4" font-size="32.7" stroke="#000" stroke-width="0.8"><tspan x="1474.0" textLength="18.3" lengthAdjust="spacingAndGlyphs">–</tspan><tspan x="1499.9">3.5000</tspan></text><text transform="translate(1614.7,1528.9) scale(1,0.85)" x="0" y="15.2" text-anchor="middle" style="font-family:IPAGothic,'Noto Sans CJK JP',sans-serif" font-size="38.5">×</text><text y="1543.4" font-size="32.7" stroke="#000" stroke-width="0.8"><tspan x="1636.6">10</tspan><tspan x="1670.3" dy="-10.1" font-size="21.7" font-weight="bold" stroke="none">-4</tspan></text>
<text y="1582.1" font-size="32.7" stroke="#000" stroke-width="0.8"><tspan x="1474.0" textLength="18.3" lengthAdjust="spacingAndGlyphs">–</tspan><tspan x="1499.9">4.0000</tspan></text><text transform="translate(1614.7,1567.6) scale(1,0.85)" x="0" y="15.2" text-anchor="middle" style="font-family:IPAGothic,'Noto Sans CJK JP',sans-serif" font-size="38.5">×</text><text y="1582.1" font-size="32.7" stroke="#000" stroke-width="0.8"><tspan x="1636.6">10</tspan><tspan x="1670.3" dy="-10.1" font-size="21.7" font-weight="bold" stroke="none">-4</tspan></text>
<text y="1620.8" font-size="32.7" stroke="#000" stroke-width="0.8"><tspan x="1474.0" textLength="18.3" lengthAdjust="spacingAndGlyphs">–</tspan><tspan x="1499.9">4.5000</tspan></text><text transform="translate(1614.7,1606.3) scale(1,0.85)" x="0" y="15.2" text-anchor="middle" style="font-family:IPAGothic,'Noto Sans CJK JP',sans-serif" font-size="38.5">×</text><text y="1620.8" font-size="32.7" stroke="#000" stroke-width="0.8"><tspan x="1636.6">10</tspan><tspan x="1670.3" dy="-10.1" font-size="21.7" font-weight="bold" stroke="none">-4</tspan></text>
<text y="1659.5" font-size="32.7" stroke="#000" stroke-width="0.8"><tspan x="1474.0" textLength="18.3" lengthAdjust="spacingAndGlyphs">–</tspan><tspan x="1499.9">5.0000</tspan></text><text transform="translate(1614.7,1645.0) scale(1,0.85)" x="0" y="15.2" text-anchor="middle" style="font-family:IPAGothic,'Noto Sans CJK JP',sans-serif" font-size="38.5">×</text><text y="1659.5" font-size="32.7" stroke="#000" stroke-width="0.8"><tspan x="1636.6">10</tspan><tspan x="1670.3" dy="-10.1" font-size="21.7" font-weight="bold" stroke="none">-4</tspan></text>
<text y="1698.2" font-size="32.7" stroke="#000" stroke-width="0.8"><tspan x="1474.0" textLength="18.3" lengthAdjust="spacingAndGlyphs">–</tspan><tspan x="1499.9">5.5000</tspan></text><text transform="translate(1614.7,1683.7) scale(1,0.85)" x="0" y="15.2" text-anchor="middle" style="font-family:IPAGothic,'Noto Sans CJK JP',sans-serif" font-size="38.5">×</text><text y="1698.2" font-size="32.7" stroke="#000" stroke-width="0.8"><tspan x="1636.6">10</tspan><tspan x="1670.3" dy="-10.1" font-size="21.7" font-weight="bold" stroke="none">-4</tspan></text>
<text y="1736.9" font-size="32.7" stroke="#000" stroke-width="0.8"><tspan x="1474.0" textLength="18.3" lengthAdjust="spacingAndGlyphs">–</tspan><tspan x="1499.9">6.0000</tspan></text><text transform="translate(1614.7,1722.4) scale(1,0.85)" x="0" y="15.2" text-anchor="middle" style="font-family:IPAGothic,'Noto Sans CJK JP',sans-serif" font-size="38.5">×</text><text y="1736.9" font-size="32.7" stroke="#000" stroke-width="0.8"><tspan x="1636.6">10</tspan><tspan x="1670.3" dy="-10.1" font-size="21.7" font-weight="bold" stroke="none">-4</tspan></text>
<text y="1775.6" font-size="32.7" stroke="#000" stroke-width="0.8"><tspan x="1474.0" textLength="18.3" lengthAdjust="spacingAndGlyphs">–</tspan><tspan x="1499.9">6.5000</tspan></text><text transform="translate(1614.7,1761.1) scale(1,0.85)" x="0" y="15.2" text-anchor="middle" style="font-family:IPAGothic,'Noto Sans CJK JP',sans-serif" font-size="38.5">×</text><text y="1775.6" font-size="32.7" stroke="#000" stroke-width="0.8"><tspan x="1636.6">10</tspan><tspan x="1670.3" dy="-10.1" font-size="21.7" font-weight="bold" stroke="none">-4</tspan></text>
<text y="1814.3" font-size="32.7" stroke="#000" stroke-width="0.8"><tspan x="1474.0" textLength="18.3" lengthAdjust="spacingAndGlyphs">–</tspan><tspan x="1499.9">7.0000</tspan></text><text transform="translate(1614.7,1799.8) scale(1,0.85)" x="0" y="15.2" text-anchor="middle" style="font-family:IPAGothic,'Noto Sans CJK JP',sans-serif" font-size="38.5">×</text><text y="1814.3" font-size="32.7" stroke="#000" stroke-width="0.8"><tspan x="1636.6">10</tspan><tspan x="1670.3" dy="-10.1" font-size="21.7" font-weight="bold" stroke="none">-4</tspan></text>
<text y="1853.0" font-size="32.7" stroke="#000" stroke-width="0.8"><tspan x="1474.0" textLength="18.3" lengthAdjust="spacingAndGlyphs">–</tspan><tspan x="1499.9">7.5000</tspan></text><text transform="translate(1614.7,1838.5) scale(1,0.85)" x="0" y="15.2" text-anchor="middle" style="font-family:IPAGothic,'Noto Sans CJK JP',sans-serif" font-size="38.5">×</text><text y="1853.0" font-size="32.7" stroke="#000" stroke-width="0.8"><tspan x="1636.6">10</tspan><tspan x="1670.3" dy="-10.1" font-size="21.7" font-weight="bold" stroke="none">-4</tspan></text>
<text y="1891.7" font-size="32.7" stroke="#000" stroke-width="0.8"><tspan x="1474.0" textLength="18.3" lengthAdjust="spacingAndGlyphs">–</tspan><tspan x="1499.9">7.7902</tspan></text><text transform="translate(1614.7,1877.2) scale(1,0.85)" x="0" y="15.2" text-anchor="middle" style="font-family:IPAGothic,'Noto Sans CJK JP',sans-serif" font-size="38.5">×</text><text y="1891.7" font-size="32.7" stroke="#000" stroke-width="0.8"><tspan x="1636.6">10</tspan><tspan x="1670.3" dy="-10.1" font-size="21.7" font-weight="bold" stroke="none">-4</tspan></text>
<text y="923" font-size="85"><tspan x="909.6">(</tspan><tspan x="936.5" font-size="83" font-weight="bold">a</tspan><tspan x="978.6" font-size="85">)</tspan></text>
<text y="2012.3" font-size="85"><tspan x="904.8">(</tspan><tspan x="931.1" font-size="87.5" font-weight="bold">b</tspan><tspan x="982.9" font-size="85">)</tspan></text>
</svg>
</body></html>
